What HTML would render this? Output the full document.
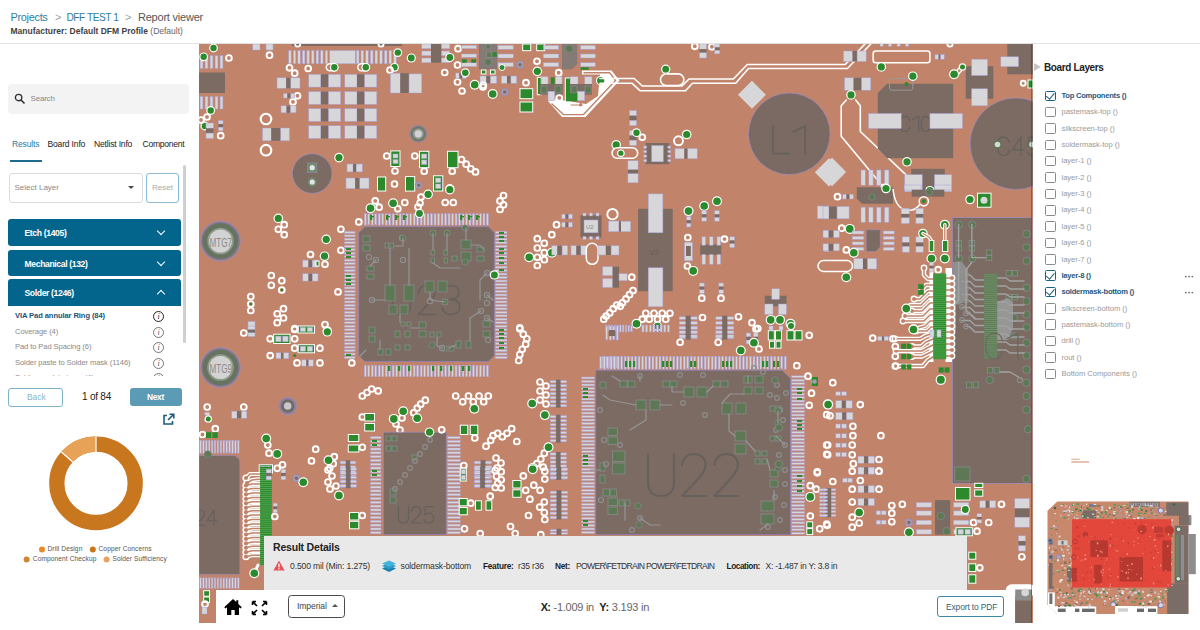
<!DOCTYPE html>
<html><head><meta charset="utf-8">
<style>
*{box-sizing:border-box;margin:0;padding:0}
html,body{width:1200px;height:630px;overflow:hidden;background:#fff;font-family:"Liberation Sans",sans-serif;}
.a{position:absolute;white-space:nowrap;line-height:1}
#hdr{position:absolute;left:0;top:0;width:1200px;height:44px;background:#fff;border-bottom:1px solid #e2e2e2}
#side{position:absolute;left:0;top:44px;width:199px;height:586px;background:#fff}
#right{position:absolute;left:1033px;top:44px;width:167px;height:586px;background:#fff}
#pcb{position:absolute;left:199px;top:44px;width:834px;height:586px;background:#c1846b;overflow:hidden}
.acc{position:absolute;left:8px;width:172.5px;height:26.5px;background:#03658c;border-radius:3px;color:#fff;font-weight:bold;font-size:8.6px;letter-spacing:-0.36px}
.acc span{position:absolute;left:16.5px;top:9px}
.chev{position:absolute;left:150px;top:9px;width:6px;height:6px;border-right:1.6px solid #fff;border-bottom:1.6px solid #fff;transform:rotate(45deg)}
.chev.up{transform:rotate(-135deg);top:12px}
.li{position:absolute;left:15px;font-size:7.6px;color:#8a8a8a;letter-spacing:-0.1px}
.info{position:absolute;left:153px;width:11px;height:11px;border:1px solid #777;border-radius:50%;font-family:"Liberation Serif",serif;font-style:italic;font-size:8px;text-align:center;line-height:9px;color:#555}
.cb{position:absolute;left:12px;width:10.5px;height:10.5px;border:1.4px solid #8a8a8a;border-radius:1.5px}
.cb.on{border-color:#1a6284;border-width:1.8px}
.cb.on:after{content:"";position:absolute;left:2px;top:-0.8px;width:3.6px;height:6.6px;border-right:1.7px solid #1a6284;border-bottom:1.7px solid #1a6284;transform:rotate(40deg)}
.lt{position:absolute;left:28.5px;font-size:7.6px;color:#9a9a9a;letter-spacing:-0.05px}
.lt.on{color:#1f5a7c;font-weight:bold;letter-spacing:-0.25px}
.dots{position:absolute;left:151.5px;font-size:9px;color:#444;letter-spacing:0.3px;font-weight:bold}
</style></head><body>

<div id="hdr">
  <div class="a" style="left:10.5px;top:11.8px;font-size:11px;color:#2f7ea5;letter-spacing:-0.34px">Projects</div>
  <div class="a" style="left:55px;top:11.8px;font-size:11px;color:#a0a0a0">&gt;</div>
  <div class="a" style="left:66.5px;top:12.6px;font-size:10.2px;color:#2f7ea5;letter-spacing:-0.5px">DFF TEST 1</div>
  <div class="a" style="left:125px;top:11.8px;font-size:11px;color:#a0a0a0">&gt;</div>
  <div class="a" style="left:138px;top:11.8px;font-size:11px;color:#555;letter-spacing:-0.22px">Report viewer</div>
  <div class="a" style="left:10.5px;top:26.5px;font-size:8.5px;color:#3f3f3f;font-weight:bold">Manufacturer: Default DFM Profile <span style="font-weight:normal;color:#666">(Default)</span></div>
</div>

<div id="side">
  <div style="position:absolute;left:8px;top:40px;width:181px;height:30px;background:#f3f3f3;border-radius:4px"></div>
  <svg style="position:absolute;left:14px;top:49px" width="12" height="12" viewBox="0 0 12 12"><circle cx="4.6" cy="4.6" r="3.2" fill="none" stroke="#333" stroke-width="1.4"/><line x1="7" y1="7" x2="10.5" y2="10.5" stroke="#333" stroke-width="1.6"/></svg>
  <div class="a" style="left:30.5px;top:50.5px;font-size:8px;color:#888;letter-spacing:-0.2px">Search</div>
  <div class="a" style="left:12px;top:95.5px;font-size:8.6px;color:#2c7aa0;letter-spacing:-0.2px">Results</div>
  <div class="a" style="left:47.5px;top:95.5px;font-size:8.6px;color:#222;letter-spacing:-0.2px">Board Info</div>
  <div class="a" style="left:94px;top:95.5px;font-size:8.6px;color:#222;letter-spacing:-0.2px">Netlist Info</div>
  <div class="a" style="left:142.5px;top:95.5px;font-size:8.6px;color:#222;letter-spacing:-0.3px">Component</div>
  <div style="position:absolute;left:10px;top:116px;width:31.5px;height:2px;background:#1d6b8e"></div>
  <div style="position:absolute;left:8.5px;top:129px;width:134px;height:30px;border:1px solid #dcdcdc;border-radius:3px"></div>
  <div class="a" style="left:14.5px;top:139.5px;font-size:8px;color:#888">Select Layer</div>
  <div style="position:absolute;left:128px;top:141.5px;width:0;height:0;border-left:3.5px solid transparent;border-right:3.5px solid transparent;border-top:3.5px solid #444"></div>
  <div style="position:absolute;left:146px;top:129px;width:32.5px;height:29.5px;border:1px solid #8dbbd0;border-radius:3px"></div>
  <div class="a" style="left:152px;top:139.5px;font-size:8px;color:#a8a8a8">Reset</div>
  <div style="position:absolute;left:183px;top:121px;width:3px;height:178px;background:#cfcfcf;border-radius:1.5px"></div>

  <div class="acc" style="top:175px"><span>Etch (1405)</span><div class="chev"></div></div>
  <div class="acc" style="top:205.5px"><span>Mechanical (132)</span><div class="chev"></div></div>
  <div class="acc" style="top:235.3px;border-radius:3px 3px 0 0"><span>Solder (1246)</span><div class="chev up"></div></div>
  <div style="position:absolute;left:0;top:262px;width:180px;height:70px;overflow:hidden">
    <div class="a li" style="top:6.3px;color:#1d5275;font-weight:bold">VIA Pad annular Ring (84)</div>
    <div class="info" style="top:5px;border-color:#222;color:#222">i</div>
    <div class="a li" style="top:21.8px">Coverage (4)</div>
    <div class="info" style="top:20.5px">i</div>
    <div class="a li" style="top:37.3px">Pad to Pad Spacing (6)</div>
    <div class="info" style="top:36px">i</div>
    <div class="a li" style="top:52.8px">Solder paste to Solder mask (1146)</div>
    <div class="info" style="top:51.5px">i</div>
    <div class="a li" style="top:68.3px">Solder mask to trace (4)</div>
    <div class="info" style="top:67px">i</div>
  </div>
  <div style="position:absolute;left:8px;top:343.5px;width:55px;height:19px;border:1px solid #7db2c9;border-radius:3px"></div>
  <div class="a" style="left:27px;top:349px;font-size:8.4px;color:#86b6cb">Back</div>
  <div class="a" style="left:82px;top:348px;font-size:10px;color:#222;letter-spacing:-0.23px">1 of 84</div>
  <div style="position:absolute;left:129.5px;top:344px;width:52px;height:18px;background:#5b9bb6;border-radius:3px"></div>
  <div class="a" style="left:147px;top:349px;font-size:8.4px;color:#fff;font-weight:bold;letter-spacing:-0.3px">Next</div>
  <svg style="position:absolute;left:162px;top:369px" width="13" height="13" viewBox="0 0 13 13"><path d="M5 2.5H2V11H10.5V8" fill="none" stroke="#1d5c7e" stroke-width="1.6"/><path d="M6 7L11.5 1.5M7.5 1.2H11.8V5.5" fill="none" stroke="#1d5c7e" stroke-width="1.6"/></svg>
  <svg style="position:absolute;left:0;top:0" width="199" height="586" viewBox="0 44 199 586">
    <circle cx="96" cy="483.3" r="39.2" fill="none" stroke="#c8771f" stroke-width="15.3"/>
    <path d="M96 444.1 A39.2 39.2 0 0 0 66.9 457" fill="none" stroke="#e8a258" stroke-width="15.3"/>
    <line x1="96" y1="436.5" x2="96" y2="452" stroke="#fff" stroke-width="1.2"/>
    <line x1="61.5" y1="452" x2="73" y2="462.3" stroke="#fff" stroke-width="1.2"/>
    <circle cx="42" cy="549.4" r="3" fill="#e88a28"/>
    <circle cx="92.8" cy="549.4" r="3" fill="#c8771f"/>
    <circle cx="26.6" cy="559.6" r="3" fill="#d08535"/>
    <circle cx="106.6" cy="559.6" r="3" fill="#eaa260"/>
  </svg>
  <div class="a" style="left:47.5px;top:502px;font-size:6.6px;color:#555;letter-spacing:0.1px">Drill Design</div>
  <div class="a" style="left:98.5px;top:502px;font-size:6.6px;color:#555;letter-spacing:0.1px">Copper Concerns</div>
  <div class="a" style="left:32.8px;top:512.2px;font-size:6.6px;color:#555;letter-spacing:0.1px">Component Checkup</div>
  <div class="a" style="left:112.4px;top:512.2px;font-size:6.6px;color:#555;letter-spacing:0.1px">Solder Sufficiency</div>
</div>

<div id="pcb">
<svg id="pcbsvg" style="position:absolute;left:0;top:0" width="834" height="586" viewBox="199 44 834 586"><rect x="292.0" y="43.0" width="110.0" height="3.0" fill="#7b6b63" />
<rect x="252.7" y="44.0" width="7.3" height="6.0" fill="#d7d7da" stroke="#a99ed6" stroke-width="0.5"/>
<rect x="266.0" y="44.0" width="7.0" height="6.0" fill="#d7d7da" stroke="#a99ed6" stroke-width="0.5"/>
<circle cx="213.5" cy="48.0" r="4.4" fill="#fff"/><circle cx="213.5" cy="48.0" r="3.2" fill="#2b8a2b"/>
<rect x="200.1" y="55.7" width="2.8" height="12.8" fill="#d7d7da" stroke="#a99ed6" stroke-width="0.5"/>
<rect x="205.1" y="55.7" width="2.8" height="12.8" fill="#d7d7da" stroke="#a99ed6" stroke-width="0.5"/>
<rect x="210.1" y="55.7" width="2.8" height="12.8" fill="#d7d7da" stroke="#a99ed6" stroke-width="0.5"/>
<rect x="215.1" y="55.7" width="2.8" height="12.8" fill="#d7d7da" stroke="#a99ed6" stroke-width="0.5"/>
<rect x="220.1" y="55.7" width="2.8" height="12.8" fill="#d7d7da" stroke="#a99ed6" stroke-width="0.5"/>
<rect x="199.0" y="72.5" width="26.0" height="20.5" fill="#7b6b63" />
<rect x="200.1" y="96.5" width="2.8" height="12.5" fill="#d7d7da" stroke="#a99ed6" stroke-width="0.5"/>
<rect x="205.1" y="96.5" width="2.8" height="12.5" fill="#d7d7da" stroke="#a99ed6" stroke-width="0.5"/>
<rect x="210.1" y="96.5" width="2.8" height="12.5" fill="#d7d7da" stroke="#a99ed6" stroke-width="0.5"/>
<rect x="215.1" y="96.5" width="2.8" height="12.5" fill="#d7d7da" stroke="#a99ed6" stroke-width="0.5"/>
<rect x="220.1" y="96.5" width="2.8" height="12.5" fill="#d7d7da" stroke="#a99ed6" stroke-width="0.5"/>
<circle cx="203.7" cy="56.8" r="4.4" fill="#fff"/><circle cx="203.7" cy="56.8" r="3.2" fill="#2b8a2b"/>
<circle cx="210.7" cy="110.5" r="4.4" fill="#fff"/><circle cx="210.7" cy="110.5" r="3.2" fill="#2b8a2b"/>
<circle cx="204.8" cy="126.0" r="4.4" fill="#fff"/><circle cx="204.8" cy="126.0" r="3.2" fill="#2b8a2b"/>
<circle cx="228.9" cy="58.0" r="2.9" fill="none" stroke="#fff" stroke-width="1.9"/>
<circle cx="269.5" cy="55.2" r="2.9" fill="none" stroke="#fff" stroke-width="1.9"/>
<circle cx="289.5" cy="67.8" r="2.9" fill="none" stroke="#fff" stroke-width="1.9"/>
<circle cx="294.7" cy="73.2" r="2.9" fill="none" stroke="#fff" stroke-width="1.9"/>
<circle cx="308.2" cy="68.5" r="2.9" fill="none" stroke="#fff" stroke-width="1.9"/>
<circle cx="297.5" cy="95.8" r="2.9" fill="none" stroke="#fff" stroke-width="1.9"/>
<circle cx="293.0" cy="101.9" r="2.9" fill="none" stroke="#fff" stroke-width="1.9"/>
<circle cx="220.7" cy="135.7" r="2.9" fill="none" stroke="#fff" stroke-width="1.9"/>
<circle cx="386.8" cy="156.0" r="2.9" fill="none" stroke="#fff" stroke-width="1.9"/>
<circle cx="394.5" cy="184.0" r="2.9" fill="none" stroke="#fff" stroke-width="1.9"/>
<circle cx="395.0" cy="171.0" r="2.9" fill="none" stroke="#fff" stroke-width="1.9"/>
<circle cx="201.0" cy="120.0" r="2.9" fill="none" stroke="#fff" stroke-width="1.9"/>
<circle cx="207.0" cy="117.0" r="2.9" fill="none" stroke="#fff" stroke-width="1.9"/>
<circle cx="266.0" cy="119.0" r="5.3" fill="none" stroke="#fff" stroke-width="2.1"/>
<circle cx="266.0" cy="150.2" r="5.3" fill="none" stroke="#fff" stroke-width="2.1"/>
<rect x="288.7" y="50.5" width="2.5" height="13.3" fill="#d7d7da" stroke="#a99ed6" stroke-width="0.5"/>
<rect x="293.3" y="50.5" width="2.5" height="13.3" fill="#d7d7da" stroke="#a99ed6" stroke-width="0.5"/>
<rect x="297.8" y="50.5" width="2.5" height="13.3" fill="#d7d7da" stroke="#a99ed6" stroke-width="0.5"/>
<rect x="302.4" y="50.5" width="2.5" height="13.3" fill="#d7d7da" stroke="#a99ed6" stroke-width="0.5"/>
<rect x="306.9" y="50.5" width="2.5" height="13.3" fill="#d7d7da" stroke="#a99ed6" stroke-width="0.5"/>
<rect x="311.5" y="50.5" width="2.5" height="13.3" fill="#d7d7da" stroke="#a99ed6" stroke-width="0.5"/>
<rect x="316.1" y="50.5" width="2.5" height="13.3" fill="#d7d7da" stroke="#a99ed6" stroke-width="0.5"/>
<rect x="320.6" y="50.5" width="2.5" height="13.3" fill="#d7d7da" stroke="#a99ed6" stroke-width="0.5"/>
<rect x="325.2" y="50.5" width="2.5" height="13.3" fill="#d7d7da" stroke="#a99ed6" stroke-width="0.5"/>
<rect x="329.7" y="50.5" width="25.6" height="13.3" fill="#d7d7da" stroke="#a99ed6" stroke-width="0.5"/>
<rect x="356.4" y="50.5" width="2.6" height="13.3" fill="#d7d7da" stroke="#a99ed6" stroke-width="0.5"/>
<rect x="361.0" y="50.5" width="2.6" height="13.3" fill="#d7d7da" stroke="#a99ed6" stroke-width="0.5"/>
<rect x="365.7" y="50.5" width="2.6" height="13.3" fill="#d7d7da" stroke="#a99ed6" stroke-width="0.5"/>
<rect x="370.4" y="50.5" width="2.6" height="13.3" fill="#d7d7da" stroke="#a99ed6" stroke-width="0.5"/>
<rect x="375.0" y="50.5" width="2.6" height="13.3" fill="#d7d7da" stroke="#a99ed6" stroke-width="0.5"/>
<rect x="379.7" y="50.5" width="2.6" height="13.3" fill="#d7d7da" stroke="#a99ed6" stroke-width="0.5"/>
<rect x="384.4" y="50.5" width="2.6" height="13.3" fill="#d7d7da" stroke="#a99ed6" stroke-width="0.5"/>
<rect x="389.0" y="50.5" width="2.6" height="13.3" fill="#d7d7da" stroke="#a99ed6" stroke-width="0.5"/>
<rect x="393.7" y="50.5" width="2.6" height="13.3" fill="#d7d7da" stroke="#a99ed6" stroke-width="0.5"/>
<rect x="326.3" y="63.8" width="11" height="7" rx="3.5" fill="none" stroke="#fff" stroke-width="1.5"/>
<circle cx="334.3" cy="67.3" r="4.4" fill="#fff"/><circle cx="334.3" cy="67.3" r="3.2" fill="#2b8a2b"/>
<rect x="357.8" y="63.8" width="11" height="7" rx="3.5" fill="none" stroke="#fff" stroke-width="1.5"/>
<circle cx="365.8" cy="67.3" r="4.4" fill="#fff"/><circle cx="365.8" cy="67.3" r="3.2" fill="#2b8a2b"/>
<circle cx="394.5" cy="67.3" r="4.4" fill="#fff"/><circle cx="394.5" cy="67.3" r="3.2" fill="#2b8a2b"/>
<circle cx="397.8" cy="52.6" r="4.4" fill="#fff"/><circle cx="397.8" cy="52.6" r="3.2" fill="#2b8a2b"/>
<circle cx="390.0" cy="70.0" r="2.9" fill="none" stroke="#fff" stroke-width="1.9"/>
<rect x="308.7" y="74.3" width="12.2" height="12.8" fill="#d7d7da" stroke="#a99ed6" stroke-width="0.5"/>
<rect x="320.9" y="74.3" width="7.7" height="12.8" fill="#7b6b63" />
<rect x="328.5" y="74.3" width="12.2" height="12.8" fill="#d7d7da" stroke="#a99ed6" stroke-width="0.5"/>
<rect x="308.7" y="91.6" width="12.2" height="12.8" fill="#d7d7da" stroke="#a99ed6" stroke-width="0.5"/>
<rect x="320.9" y="91.6" width="7.7" height="12.8" fill="#7b6b63" />
<rect x="328.5" y="91.6" width="12.2" height="12.8" fill="#d7d7da" stroke="#a99ed6" stroke-width="0.5"/>
<rect x="308.7" y="108.6" width="12.2" height="12.8" fill="#d7d7da" stroke="#a99ed6" stroke-width="0.5"/>
<rect x="320.9" y="108.6" width="7.7" height="12.8" fill="#7b6b63" />
<rect x="328.5" y="108.6" width="12.2" height="12.8" fill="#d7d7da" stroke="#a99ed6" stroke-width="0.5"/>
<rect x="308.7" y="125.7" width="12.2" height="12.8" fill="#d7d7da" stroke="#a99ed6" stroke-width="0.5"/>
<rect x="320.9" y="125.7" width="7.7" height="12.8" fill="#7b6b63" />
<rect x="328.5" y="125.7" width="12.2" height="12.8" fill="#d7d7da" stroke="#a99ed6" stroke-width="0.5"/>
<rect x="344.8" y="74.3" width="12.2" height="12.8" fill="#d7d7da" stroke="#a99ed6" stroke-width="0.5"/>
<rect x="357.0" y="74.3" width="7.7" height="12.8" fill="#7b6b63" />
<rect x="364.6" y="74.3" width="12.2" height="12.8" fill="#d7d7da" stroke="#a99ed6" stroke-width="0.5"/>
<rect x="344.8" y="91.6" width="12.2" height="12.8" fill="#d7d7da" stroke="#a99ed6" stroke-width="0.5"/>
<rect x="357.0" y="91.6" width="7.7" height="12.8" fill="#7b6b63" />
<rect x="364.6" y="91.6" width="12.2" height="12.8" fill="#d7d7da" stroke="#a99ed6" stroke-width="0.5"/>
<rect x="344.8" y="108.6" width="12.2" height="12.8" fill="#d7d7da" stroke="#a99ed6" stroke-width="0.5"/>
<rect x="357.0" y="108.6" width="7.7" height="12.8" fill="#7b6b63" />
<rect x="364.6" y="108.6" width="12.2" height="12.8" fill="#d7d7da" stroke="#a99ed6" stroke-width="0.5"/>
<rect x="344.8" y="125.7" width="12.2" height="12.8" fill="#d7d7da" stroke="#a99ed6" stroke-width="0.5"/>
<rect x="357.0" y="125.7" width="7.7" height="12.8" fill="#7b6b63" />
<rect x="364.6" y="125.7" width="12.2" height="12.8" fill="#d7d7da" stroke="#a99ed6" stroke-width="0.5"/>
<rect x="390.3" y="73.2" width="10.0" height="19.8" fill="#d7d7da" stroke="#a99ed6" stroke-width="0.5"/>
<rect x="400.3" y="73.2" width="9.0" height="19.8" fill="#7b6b63" />
<rect x="277.0" y="77.8" width="9.2" height="10.5" fill="#d7d7da" stroke="#a99ed6" stroke-width="0.5"/>
<rect x="286.2" y="77.8" width="4.6" height="10.5" fill="#7b6b63" />
<rect x="290.8" y="77.8" width="9.2" height="10.5" fill="#d7d7da" stroke="#a99ed6" stroke-width="0.5"/>
<rect x="283.5" y="93.5" width="3.9" height="4.5" fill="#d7d7da" stroke="#a99ed6" stroke-width="0.5"/>
<rect x="287.4" y="93.5" width="3.4" height="4.5" fill="#7b6b63" />
<rect x="290.8" y="93.5" width="3.9" height="4.5" fill="#d7d7da" stroke="#a99ed6" stroke-width="0.5"/>
<rect x="281.0" y="105.8" width="5.6" height="7.0" fill="#d7d7da" stroke="#a99ed6" stroke-width="0.5"/>
<rect x="286.6" y="105.8" width="3.8" height="7.0" fill="#7b6b63" />
<rect x="290.4" y="105.8" width="5.6" height="7.0" fill="#d7d7da" stroke="#a99ed6" stroke-width="0.5"/>
<rect x="262.5" y="128.0" width="8.8" height="12.8" fill="#d7d7da" stroke="#a99ed6" stroke-width="0.5"/>
<rect x="271.3" y="128.0" width="9.4" height="12.8" fill="#7b6b63" />
<rect x="280.7" y="128.0" width="8.8" height="12.8" fill="#d7d7da" stroke="#a99ed6" stroke-width="0.5"/>
<circle cx="312.2" cy="173.5" r="19.8" fill="#7b6b63" stroke="#9a8fcf" stroke-width="0.6"/>
<rect x="307.5" y="163.0" width="9.4" height="9.4" fill="#6f8a6a" stroke="#9a8fcf" stroke-width="0.5"/>
<circle cx="312.2" cy="167.7" r="2.6" fill="#e4e4e8" />
<circle cx="312.2" cy="182.1" r="4.5" fill="#6f8a6a" />
<circle cx="312.2" cy="182.1" r="2.6" fill="#e4e4e8" />
<circle cx="339.0" cy="157.6" r="4.8" fill="#fff"/><circle cx="339.0" cy="157.6" r="3.6" fill="#2b8a2b"/>
<rect x="347.0" y="164.0" width="6.1" height="7.9" fill="#d7d7da" stroke="#a99ed6" stroke-width="0.5"/>
<rect x="353.1" y="164.0" width="3.1" height="7.9" fill="#7b6b63" />
<rect x="356.2" y="164.0" width="6.1" height="7.9" fill="#d7d7da" stroke="#a99ed6" stroke-width="0.5"/>
<rect x="346.0" y="178.0" width="9.2" height="10.7" fill="#d7d7da" stroke="#a99ed6" stroke-width="0.5"/>
<rect x="355.2" y="178.0" width="4.6" height="10.7" fill="#7b6b63" />
<rect x="359.8" y="178.0" width="9.2" height="10.7" fill="#d7d7da" stroke="#a99ed6" stroke-width="0.5"/>
<rect x="377.5" y="177.0" width="8.2" height="14.0" fill="#2b8a2b" stroke="#fff" stroke-width="1"/>
<rect x="390.8" y="150.9" width="9.2" height="15.6" fill="#2b8a2b" stroke="#fff" stroke-width="1"/>
<rect x="393.0" y="154.0" width="5.0" height="4.0" fill="#d7d7da" stroke="#a99ed6" stroke-width="0.5"/>
<rect x="393.0" y="159.5" width="5.0" height="4.0" fill="#d7d7da" stroke="#a99ed6" stroke-width="0.5"/>
<rect x="206.0" y="123.0" width="7.5" height="5.4" fill="#d7d7da" stroke="#a99ed6" stroke-width="0.5"/>
<rect x="206.0" y="128.4" width="7.5" height="4.7" fill="#7b6b63" />
<rect x="206.0" y="133.1" width="7.5" height="5.4" fill="#d7d7da" stroke="#a99ed6" stroke-width="0.5"/>
<rect x="218.4" y="120.5" width="4.6" height="3.6" fill="#d7d7da" stroke="#a99ed6" stroke-width="0.5"/>
<rect x="218.4" y="124.1" width="4.6" height="3.1" fill="#7b6b63" />
<rect x="218.4" y="127.2" width="4.6" height="3.6" fill="#d7d7da" stroke="#a99ed6" stroke-width="0.5"/>
<rect x="421.8" y="44.0" width="9.3" height="4.7" fill="#d7d7da" stroke="#a99ed6" stroke-width="0.5"/>
<rect x="421.8" y="51.0" width="9.3" height="4.7" fill="#d7d7da" stroke="#a99ed6" stroke-width="0.5"/>
<rect x="421.8" y="58.0" width="9.3" height="4.7" fill="#d7d7da" stroke="#a99ed6" stroke-width="0.5"/>
<rect x="431.0" y="44.0" width="10.5" height="18.7" fill="#7b6b63" />
<rect x="441.5" y="44.0" width="8.3" height="4.7" fill="#d7d7da" stroke="#a99ed6" stroke-width="0.5"/>
<rect x="441.5" y="51.0" width="8.3" height="4.7" fill="#d7d7da" stroke="#a99ed6" stroke-width="0.5"/>
<rect x="441.5" y="58.0" width="8.3" height="4.7" fill="#d7d7da" stroke="#a99ed6" stroke-width="0.5"/>
<circle cx="411.3" cy="58.0" r="4.6" fill="#fff"/><circle cx="411.3" cy="58.0" r="3.4" fill="#2b8a2b"/>
<circle cx="449.8" cy="57.5" r="4.6" fill="#fff"/><circle cx="449.8" cy="57.5" r="3.4" fill="#2b8a2b"/>
<circle cx="444.7" cy="72.5" r="2.9" fill="none" stroke="#fff" stroke-width="1.9"/>
<circle cx="457.5" cy="82.0" r="2.9" fill="none" stroke="#fff" stroke-width="1.9"/>
<circle cx="457.5" cy="65.0" r="2.9" fill="none" stroke="#fff" stroke-width="1.9"/>
<circle cx="458.0" cy="48.7" r="2.9" fill="none" stroke="#fff" stroke-width="1.9"/>
<circle cx="414.8" cy="156.0" r="2.9" fill="none" stroke="#fff" stroke-width="1.9"/>
<circle cx="424.2" cy="171.2" r="2.9" fill="none" stroke="#fff" stroke-width="1.9"/>
<circle cx="461.5" cy="159.5" r="2.9" fill="none" stroke="#fff" stroke-width="1.9"/>
<circle cx="466.2" cy="164.2" r="2.9" fill="none" stroke="#fff" stroke-width="1.9"/>
<circle cx="470.8" cy="168.8" r="2.9" fill="none" stroke="#fff" stroke-width="1.9"/>
<circle cx="475.5" cy="171.9" r="2.9" fill="none" stroke="#fff" stroke-width="1.9"/>
<circle cx="452.2" cy="171.2" r="2.9" fill="none" stroke="#fff" stroke-width="1.9"/>
<circle cx="462.0" cy="91.0" r="2.9" fill="none" stroke="#fff" stroke-width="1.9"/>
<circle cx="483.0" cy="87.0" r="2.9" fill="none" stroke="#fff" stroke-width="1.9"/>
<rect x="409.0" y="73.9" width="12.8" height="19.1" fill="#d7d7da" stroke="#a99ed6" stroke-width="0.5"/>
<rect x="455.7" y="73.0" width="3.7" height="5.5" fill="#d7d7da" stroke="#a99ed6" stroke-width="0.5"/>
<rect x="459.4" y="73.0" width="3.2" height="5.5" fill="#7b6b63" />
<rect x="462.5" y="73.0" width="3.7" height="5.5" fill="#d7d7da" stroke="#a99ed6" stroke-width="0.5"/>
<rect x="461.3" y="45.3" width="15.4" height="3.4" fill="#d7d7da" stroke="#a99ed6" stroke-width="0.5"/>
<rect x="461.3" y="54.0" width="15.4" height="3.3" fill="#d7d7da" stroke="#a99ed6" stroke-width="0.5"/>
<rect x="461.3" y="62.7" width="15.4" height="4.0" fill="#d7d7da" stroke="#a99ed6" stroke-width="0.5"/>
<rect x="462.0" y="59.3" width="4.7" height="3.4" fill="#2b8a2b" />
<rect x="471.3" y="59.3" width="4.7" height="3.4" fill="#2b8a2b" />
<rect x="479.3" y="44.0" width="17.4" height="25.3" fill="#7b6b63" fill="#857a76"/>
<rect x="479.3" y="44.0" width="17.4" height="25.3" fill="#857a76" />
<rect x="486.7" y="52.0" width="4.7" height="5.3" fill="#5e7856" stroke="#8a8a8a" stroke-width="0.8"/>
<rect x="491.5" y="52.0" width="4.5" height="5.3" fill="#5e7856" stroke="#8a8a8a" stroke-width="0.8"/>
<rect x="486.0" y="44.5" width="4.5" height="4.5" fill="#5e7856" stroke="#8a8a8a" stroke-width="0.8"/>
<circle cx="488.0" cy="62.0" r="3.5" fill="#5e7856" stroke="#8a8a8a" stroke-width="0.7"/>
<rect x="493.3" y="52.0" width="3.4" height="4.6" fill="#2b8a2b" />
<rect x="481.3" y="70.0" width="4.6" height="4.0" fill="#2b8a2b" stroke="#fff" stroke-width="1"/>
<rect x="490.4" y="70.0" width="4.6" height="4.0" fill="#2b8a2b" stroke="#fff" stroke-width="1"/>
<rect x="480.0" y="76.0" width="6.3" height="7.3" fill="#d7d7da" stroke="#a99ed6" stroke-width="0.5"/>
<rect x="486.3" y="76.0" width="4.2" height="7.3" fill="#7b6b63" />
<rect x="490.4" y="76.0" width="6.3" height="7.3" fill="#d7d7da" stroke="#a99ed6" stroke-width="0.5"/>
<rect x="498.0" y="45.3" width="15.3" height="4.0" fill="#d7d7da" stroke="#a99ed6" stroke-width="0.5"/>
<rect x="498.0" y="54.0" width="15.3" height="4.0" fill="#d7d7da" stroke="#a99ed6" stroke-width="0.5"/>
<rect x="498.0" y="62.7" width="15.3" height="4.0" fill="#d7d7da" stroke="#a99ed6" stroke-width="0.5"/>
<circle cx="502" cy="67.5" r="3" fill="#2b8a2b" stroke="#fff" stroke-width="1"/>
<circle cx="520.0" cy="64.7" r="3.8" fill="#a59bb8" stroke="#8f86b0" stroke-width="0.6"/><circle cx="520.0" cy="64.7" r="1.7" fill="#7b6b63"/>
<rect x="501.3" y="76.0" width="5.8" height="7.3" fill="#d7d7da" stroke="#a99ed6" stroke-width="0.5"/>
<rect x="507.1" y="76.0" width="3.8" height="7.3" fill="#7b6b63" />
<rect x="510.9" y="76.0" width="5.8" height="7.3" fill="#d7d7da" stroke="#a99ed6" stroke-width="0.5"/>
<circle cx="465.3" cy="72.7" r="4.5" fill="#fff"/><circle cx="465.3" cy="72.7" r="3.3" fill="#2b8a2b"/>
<circle cx="474.7" cy="84.7" r="5.0" fill="#fff"/><circle cx="474.7" cy="84.7" r="3.8" fill="#2b8a2b"/>
<circle cx="492.7" cy="94.0" r="5.0" fill="#fff"/><circle cx="492.7" cy="94.0" r="3.8" fill="#2b8a2b"/>
<circle cx="483.3" cy="85.3" r="2.9" fill="none" stroke="#fff" stroke-width="1.9"/>
<circle cx="504.7" cy="92.0" r="3.8" fill="#a59bb8" stroke="#8f86b0" stroke-width="0.6"/><circle cx="504.7" cy="92.0" r="1.7" fill="#7b6b63"/>
<rect x="520.0" y="88.7" width="12.7" height="10.0" fill="#2b8a2b" stroke="#fff" stroke-width="1"/>
<rect x="520.0" y="102.0" width="12.7" height="10.0" fill="#2b8a2b" stroke="#fff" stroke-width="1"/>
<circle cx="526.0" cy="82.7" r="2.9" fill="none" stroke="#fff" stroke-width="1.9"/>
<rect x="522.7" y="44.0" width="8.0" height="6.7" fill="#2b8a2b" stroke="#fff" stroke-width="1"/>
<rect x="536.7" y="44.0" width="8.0" height="6.7" fill="#2b8a2b" stroke="#fff" stroke-width="1"/>
<circle cx="537.0" cy="61.3" r="2.9" fill="none" stroke="#fff" stroke-width="1.9"/>
<circle cx="537.3" cy="71.3" r="4.8" fill="#fff"/><circle cx="537.3" cy="71.3" r="3.6" fill="#2b8a2b"/>
<rect x="543.3" y="45.3" width="15.4" height="4.0" fill="#d7d7da" stroke="#a99ed6" stroke-width="0.5"/>
<rect x="543.3" y="54.0" width="15.4" height="4.0" fill="#d7d7da" stroke="#a99ed6" stroke-width="0.5"/>
<rect x="543.3" y="62.7" width="15.4" height="4.0" fill="#d7d7da" stroke="#a99ed6" stroke-width="0.5"/>
<polygon points="562.0,44.0 577.3,44.0 577.3,64.0 572.0,69.3 562.0,69.3" fill="#857a76" />
<circle cx="569.3" cy="48.7" r="3.8" fill="#5e7856" stroke="#8a8a8a" stroke-width="0.7"/>
<rect x="580.7" y="45.3" width="14.6" height="4.0" fill="#d7d7da" stroke="#a99ed6" stroke-width="0.5"/>
<rect x="580.7" y="54.0" width="14.6" height="4.0" fill="#d7d7da" stroke="#a99ed6" stroke-width="0.5"/>
<rect x="580.7" y="62.7" width="14.6" height="4.0" fill="#d7d7da" stroke="#a99ed6" stroke-width="0.5"/>
<rect x="580.7" y="67.3" width="8.0" height="2.5" fill="#2b8a2b" />
<polygon points="548.0,101.0 562.0,117.0 585.5,117.0 619.5,80.5 611.5,70.6 582.0,70.6 582.0,74.5 600.0,74.5 598.0,96.0 586.0,104.0 548.0,98.0" fill="#fff" />
<polyline points="552.0,104.0 563.5,114.6 583.5,114.6 615.5,80.5 609.8,72.8 584.0,72.8" fill="none" stroke="#c0836a" stroke-width="1.4" stroke-linejoin="round" stroke-linecap="round"/>
<polyline points="571.0,105.0 580.5,105.0" fill="none" stroke="#c0836a" stroke-width="1.2" stroke-linejoin="round" stroke-linecap="round"/>
<circle cx="580.7" cy="104.7" r="1.8" fill="#c0836a" />
<rect x="537.3" y="77.3" width="4.0" height="17.4" fill="#2b8a2b" stroke="#fff" stroke-width="1"/>
<rect x="541.3" y="76.7" width="6.7" height="10.0" fill="#d7d7da" stroke="#a99ed6" stroke-width="0.5"/>
<rect x="555.3" y="76.7" width="6.7" height="10.0" fill="#d7d7da" stroke="#a99ed6" stroke-width="0.5"/>
<rect x="550.7" y="77.3" width="4.0" height="6.7" fill="#2b8a2b" />
<rect x="540.0" y="84.0" width="22.7" height="10.7" fill="#7b6b63" />
<rect x="541.0" y="86.0" width="6.0" height="7.0" fill="#5e7856" stroke="#8a8a8a" stroke-width="0.8"/>
<rect x="555.0" y="86.0" width="6.0" height="7.0" fill="#5e7856" stroke="#8a8a8a" stroke-width="0.8"/>
<rect x="548.0" y="91.3" width="6.7" height="9.4" fill="#d7d7da" stroke="#a99ed6" stroke-width="0.5"/>
<rect x="565.3" y="78.0" width="5.4" height="23.3" fill="#2b8a2b" stroke="#fff" stroke-width="1"/>
<rect x="570.7" y="76.7" width="7.3" height="10.0" fill="#d7d7da" stroke="#a99ed6" stroke-width="0.5"/>
<rect x="584.7" y="76.7" width="7.3" height="10.0" fill="#d7d7da" stroke="#a99ed6" stroke-width="0.5"/>
<rect x="570.0" y="84.0" width="22.0" height="10.7" fill="#7b6b63" />
<rect x="571.0" y="86.0" width="6.0" height="7.0" fill="#5e7856" stroke="#8a8a8a" stroke-width="0.8"/>
<rect x="585.0" y="86.0" width="6.0" height="7.0" fill="#5e7856" stroke="#8a8a8a" stroke-width="0.8"/>
<rect x="577.3" y="91.3" width="7.4" height="9.4" fill="#d7d7da" stroke="#a99ed6" stroke-width="0.5"/>
<rect x="566.0" y="93.3" width="11.3" height="8.0" fill="#2b8a2b" />
<circle cx="558.7" cy="72.7" r="2.9" fill="none" stroke="#fff" stroke-width="1.9"/>
<circle cx="559.3" cy="98.0" r="2.9" fill="none" stroke="#fff" stroke-width="1.9"/>
<circle cx="594.7" cy="80.0" r="1.8" fill="#c0836a" />
<circle cx="594.7" cy="90.0" r="1.8" fill="#c0836a" />
<circle cx="600.7" cy="80.7" r="4.8" fill="#fff"/><circle cx="600.7" cy="80.7" r="3.6" fill="#2b8a2b"/>
<circle cx="418.3" cy="133.8" r="8.8" fill="#8e84a0" />
<circle cx="418.3" cy="133.8" r="7.6" fill="#6f7a68" />
<circle cx="418.3" cy="133.8" r="5.4" fill="#9a9a9a" />
<circle cx="418.3" cy="133.8" r="3.6" fill="#d2d2d2" />
<rect x="419.5" y="151.3" width="9.3" height="16.4" fill="#2b8a2b" stroke="#fff" stroke-width="1"/>
<rect x="421.5" y="154.0" width="5.3" height="4.5" fill="#d7d7da" stroke="#a99ed6" stroke-width="0.5"/>
<rect x="421.5" y="160.0" width="5.3" height="4.5" fill="#d7d7da" stroke="#a99ed6" stroke-width="0.5"/>
<rect x="447.5" y="151.3" width="10.5" height="16.4" fill="#2b8a2b" stroke="#fff" stroke-width="1"/>
<rect x="405.5" y="176.6" width="9.2" height="14.5" fill="#2b8a2b" stroke="#fff" stroke-width="1"/>
<circle cx="418.8" cy="185.2" r="3.5" fill="#a59bb8" stroke="#8f86b0" stroke-width="0.6"/><circle cx="418.8" cy="185.2" r="1.6" fill="#7b6b63"/>
<rect x="433.5" y="175.8" width="9.3" height="15.2" fill="#2b8a2b" stroke="#fff" stroke-width="1"/>
<rect x="435.5" y="178.0" width="5.3" height="4.5" fill="#d7d7da" stroke="#a99ed6" stroke-width="0.5"/>
<rect x="435.5" y="184.0" width="5.3" height="4.5" fill="#d7d7da" stroke="#a99ed6" stroke-width="0.5"/>
<circle cx="449.8" cy="188.7" r="4.6" fill="#fff"/><circle cx="449.8" cy="188.7" r="3.4" fill="#2b8a2b"/>
<circle cx="616.2" cy="144.8" r="4.8" fill="#fff"/><circle cx="616.2" cy="144.8" r="3.6" fill="#2b8a2b"/>
<circle cx="694.8" cy="46.3" r="2.9" fill="none" stroke="#fff" stroke-width="1.9"/>
<circle cx="711.9" cy="46.8" r="2.9" fill="none" stroke="#fff" stroke-width="1.9"/>
<rect x="699.5" y="44.0" width="7.0" height="5.2" fill="#d7d7da" stroke="#a99ed6" stroke-width="0.5"/>
<rect x="699.5" y="49.2" width="7.0" height="3.5" fill="#7b6b63" />
<rect x="699.5" y="52.8" width="7.0" height="5.2" fill="#d7d7da" stroke="#a99ed6" stroke-width="0.5"/>
<rect x="714.7" y="44.0" width="5.1" height="3.4" fill="#d7d7da" stroke="#a99ed6" stroke-width="0.5"/>
<rect x="714.7" y="47.4" width="5.1" height="2.9" fill="#7b6b63" />
<rect x="714.7" y="50.4" width="5.1" height="3.4" fill="#d7d7da" stroke="#a99ed6" stroke-width="0.5"/>
<polyline points="600.0,78.5 634.2,78.5 642.3,86.0 682.0,86.0 689.0,79.0 733.3,79.0 747.3,64.5 845.2,64.5 865.0,44.0" fill="none" stroke="#fff" stroke-width="1.6" stroke-linejoin="round" stroke-linecap="round"/>
<polyline points="600.0,83.2 631.8,83.2 640.0,90.7 685.5,90.7 692.5,83.2 735.7,83.2 748.5,68.5 847.5,68.5 870.8,44.0" fill="none" stroke="#fff" stroke-width="1.6" stroke-linejoin="round" stroke-linecap="round"/>
<rect x="660.5" y="73.9" width="23.4" height="11.6" rx="5.8" fill="#c0836a" stroke="#fff" stroke-width="1.6"/>
<polyline points="665.7,69.2 665.7,74.0" fill="none" stroke="#c0836a" stroke-width="1.2" stroke-linejoin="round" stroke-linecap="round"/>
<circle cx="665.7" cy="69.2" r="4.6" fill="#fff"/><circle cx="665.7" cy="69.2" r="3.4" fill="#2b8a2b"/>
<rect x="742" y="85" width="19.8" height="19.8" fill="#d7d7da" transform="rotate(45 752 94.9)"/>
<circle cx="789.3" cy="133.8" r="40.8" fill="#7a6a63" stroke="#9a8fcf" stroke-width="0.6"/>
<path d="M773.00,125.70 V153.70 H788.68 M793.44,131.86 L805.20,125.70 V153.70 " fill="none" stroke="#66605d" stroke-width="1.7" stroke-linecap="round" stroke-linejoin="round"/>
<rect x="819" y="162.3" width="20" height="20" fill="#d7d7da" transform="rotate(45 829 172.3)"/>
<rect x="629.5" y="110.5" width="7.0" height="5.3" fill="#d7d7da" stroke="#a99ed6" stroke-width="0.5"/>
<rect x="629.5" y="115.8" width="7.0" height="4.6" fill="#7b6b63" />
<rect x="629.5" y="120.4" width="7.0" height="5.3" fill="#d7d7da" stroke="#a99ed6" stroke-width="0.5"/>
<rect x="629.5" y="130.3" width="7.0" height="5.3" fill="#d7d7da" stroke="#a99ed6" stroke-width="0.5"/>
<rect x="629.5" y="135.6" width="7.0" height="4.6" fill="#7b6b63" />
<rect x="629.5" y="140.2" width="7.0" height="5.3" fill="#d7d7da" stroke="#a99ed6" stroke-width="0.5"/>
<circle cx="636.5" cy="132.7" r="4.4" fill="#fff"/><circle cx="636.5" cy="132.7" r="3.2" fill="#2b8a2b"/>
<circle cx="642.3" cy="137.3" r="2.9" fill="none" stroke="#fff" stroke-width="1.9"/>
<rect x="612" y="147.8" width="25.7" height="10.5" rx="5.2" fill="#c0836a" stroke="#fff" stroke-width="1.6"/>
<circle cx="620.9" cy="153.2" r="3.8" fill="#fff"/><circle cx="620.9" cy="153.2" r="2.6" fill="#2b8a2b"/>
<rect x="627.9" y="160.7" width="10.2" height="9.1" fill="#d7d7da" stroke="#a99ed6" stroke-width="0.5"/>
<rect x="627.9" y="169.8" width="10.2" height="4.0" fill="#7b6b63" />
<rect x="627.9" y="173.7" width="10.2" height="9.1" fill="#d7d7da" stroke="#a99ed6" stroke-width="0.5"/>
<rect x="645.8" y="143.0" width="23.4" height="21.2" fill="#7b6b63" />
<rect x="651.7" y="145.5" width="11.6" height="16.3" fill="#d7d7da" stroke="#a99ed6" stroke-width="0.5"/>
<rect x="643.8" y="146.0" width="3.0" height="2.2" fill="#d7d7da" stroke="#a99ed6" stroke-width="0.5"/>
<rect x="667.8" y="146.0" width="3.0" height="2.2" fill="#d7d7da" stroke="#a99ed6" stroke-width="0.5"/>
<rect x="643.8" y="150.5" width="3.0" height="2.2" fill="#d7d7da" stroke="#a99ed6" stroke-width="0.5"/>
<rect x="667.8" y="150.5" width="3.0" height="2.2" fill="#d7d7da" stroke="#a99ed6" stroke-width="0.5"/>
<rect x="643.8" y="155.0" width="3.0" height="2.2" fill="#d7d7da" stroke="#a99ed6" stroke-width="0.5"/>
<rect x="667.8" y="155.0" width="3.0" height="2.2" fill="#d7d7da" stroke="#a99ed6" stroke-width="0.5"/>
<rect x="643.8" y="159.5" width="3.0" height="2.2" fill="#d7d7da" stroke="#a99ed6" stroke-width="0.5"/>
<rect x="667.8" y="159.5" width="3.0" height="2.2" fill="#d7d7da" stroke="#a99ed6" stroke-width="0.5"/>
<circle cx="678.5" cy="140.8" r="4.5" fill="none" stroke="#fff" stroke-width="1.9"/>
<circle cx="686.7" cy="134.5" r="4.8" fill="#fff"/><circle cx="686.7" cy="134.5" r="3.6" fill="#2b8a2b"/>
<rect x="675.0" y="148.5" width="9.4" height="10.3" fill="#d7d7da" stroke="#a99ed6" stroke-width="0.5"/>
<rect x="684.4" y="148.5" width="3.3" height="10.3" fill="#7b6b63" />
<rect x="687.8" y="148.5" width="9.4" height="10.3" fill="#d7d7da" stroke="#a99ed6" stroke-width="0.5"/>
<rect x="843.5" y="51.0" width="9.1" height="10.5" fill="#d7d7da" stroke="#a99ed6" stroke-width="0.5"/>
<rect x="852.6" y="51.0" width="4.5" height="10.5" fill="#7b6b63" />
<rect x="857.1" y="51.0" width="9.1" height="10.5" fill="#d7d7da" stroke="#a99ed6" stroke-width="0.5"/>
<rect x="873.2" y="51" width="56.7" height="11.7" rx="2.5" fill="none" stroke="#fff" stroke-width="1.6"/>
<circle cx="881.3" cy="66.9" r="4.8" fill="#fff"/><circle cx="881.3" cy="66.9" r="3.6" fill="#2b8a2b"/>
<rect x="935.0" y="54.5" width="3.7" height="4.7" fill="#d7d7da" stroke="#a99ed6" stroke-width="0.5"/>
<rect x="938.7" y="54.5" width="1.9" height="4.7" fill="#7b6b63" />
<rect x="940.6" y="54.5" width="3.7" height="4.7" fill="#d7d7da" stroke="#a99ed6" stroke-width="0.5"/>
<rect x="844.5" y="77.8" width="9.2" height="12.4" fill="#d7d7da" stroke="#a99ed6" stroke-width="0.5"/>
<rect x="853.7" y="77.8" width="7.9" height="12.4" fill="#7b6b63" />
<rect x="861.6" y="77.8" width="9.2" height="12.4" fill="#d7d7da" stroke="#a99ed6" stroke-width="0.5"/>
<circle cx="851.0" cy="94.9" r="4.8" fill="#fff"/><circle cx="851.0" cy="94.9" r="3.6" fill="#2b8a2b"/>
<polyline points="846.3,100.0 841.2,105.8 841.2,136.2 884.8,188.7 890.0,195.0" fill="none" stroke="#fff" stroke-width="1.6" stroke-linejoin="round" stroke-linecap="round"/>
<polyline points="855.7,100.0 860.3,105.8 860.3,131.5 905.8,174.7 915.0,184.0" fill="none" stroke="#fff" stroke-width="1.6" stroke-linejoin="round" stroke-linecap="round"/>
<polygon points="887.0,83.7 953.2,83.7 953.2,158.3 887.0,158.3 877.8,149.0 877.8,93.0" fill="#7b6b63" />
<path d="M909.73,120.86 C909.12,117.82 907.30,116.30 905.02,116.30 C901.82,116.30 900.00,119.34 900.00,123.90 C900.00,128.46 901.82,131.50 905.02,131.50 C907.30,131.50 909.12,129.98 909.73,126.94 M912.31,119.64 L918.70,116.30 V131.50 M925.69,116.30 C922.80,116.30 921.28,119.34 921.28,123.90 C921.28,128.46 922.80,131.50 925.69,131.50 C928.58,131.50 930.10,128.46 930.10,123.90 C930.10,119.34 928.58,116.30 925.69,116.30 Z " fill="none" stroke="#66605d" stroke-width="1.2" stroke-linecap="round" stroke-linejoin="round"/>
<rect x="868.5" y="113.5" width="32.7" height="15.0" fill="#d7d7da" stroke="#a99ed6" stroke-width="0.5"/>
<rect x="929.9" y="113.5" width="32.6" height="15.0" fill="#d7d7da" stroke="#a99ed6" stroke-width="0.5"/>
<rect x="889.5" y="78.5" width="23.3" height="11.7" rx="2" fill="none" stroke="#999" stroke-width="1"/>
<circle cx="912.8" cy="76.2" r="4.8" fill="#fff"/><circle cx="912.8" cy="76.2" r="3.6" fill="#2b8a2b"/>
<circle cx="906.5" cy="84.1" r="2.0" fill="#2b8a2b" />
<circle cx="907.0" cy="161.8" r="4.8" fill="#fff"/><circle cx="907.0" cy="161.8" r="3.6" fill="#2b8a2b"/>
<circle cx="1016.0" cy="143.7" r="45.8" fill="#7b6b63" stroke="#9a8fcf" stroke-width="0.6"/>
<path d="M1009.28,142.52 C1008.54,138.84 1006.33,137.00 1003.57,137.00 C999.71,137.00 997.50,140.68 997.50,146.20 C997.50,151.72 999.71,155.40 1003.57,155.40 C1006.33,155.40 1008.54,153.56 1009.28,149.88 M1020.87,155.40 V137.00 L1012.40,149.88 H1023.81 M1037.24,137.00 H1028.78 L1027.86,146.02 C1029.33,144.73 1030.99,144.18 1032.83,144.18 C1035.96,144.18 1037.98,146.57 1037.98,149.88 C1037.98,153.19 1035.77,155.40 1032.46,155.40 C1030.07,155.40 1027.86,154.11 1027.12,151.72 " fill="none" stroke="#66605d" stroke-width="1.3" stroke-linecap="round" stroke-linejoin="round"/>
<circle cx="997.5" cy="144.5" r="3.6" fill="#d8d8d8" stroke="#5e7856" stroke-width="1.6"/>
<circle cx="1032.0" cy="144.5" r="3.6" fill="#d8d8d8" stroke="#5e7856" stroke-width="1.6"/>
<rect x="965.8" y="66.2" width="27.5" height="32.6" fill="#7b6b63" />
<rect x="971.6" y="59.2" width="15.9" height="16.3" fill="#d7d7da" stroke="#a99ed6" stroke-width="0.5"/>
<rect x="971.6" y="88.8" width="15.9" height="17.0" fill="#d7d7da" stroke="#a99ed6" stroke-width="0.5"/>
<polyline points="962.5,66.9 958.0,72.0" fill="none" stroke="#fff" stroke-width="5" stroke-linejoin="round" stroke-linecap="round"/>
<polyline points="962.5,66.9 958.0,72.0" fill="none" stroke="#c0836a" stroke-width="2.5" stroke-linejoin="round" stroke-linecap="round"/>
<circle cx="962.5" cy="66.9" r="3.7" fill="#fff"/><circle cx="962.5" cy="66.9" r="2.5" fill="#2b8a2b"/>
<circle cx="954.1" cy="74.3" r="5.0" fill="#fff"/><circle cx="954.1" cy="74.3" r="3.8" fill="#2b8a2b"/>
<rect x="1007.3" y="44.0" width="26.0" height="30.3" fill="#7b6b63" />
<rect x="1000.8" y="56.8" width="17.7" height="9.8" fill="#d7d7da" stroke="#a99ed6" stroke-width="0.5"/>
<circle cx="1023.2" cy="83.2" r="2.5" fill="none" stroke="#fff" stroke-width="1.9"/>
<rect x="1028.0" y="80.0" width="5.0" height="8.0" fill="#2b8a2b" stroke="#fff" stroke-width="1"/>
<rect x="822" y="162" width="20" height="20" fill="#d7d7da" transform="rotate(45 832 172)"/>
<rect x="861.0" y="170.0" width="4.3" height="15.2" fill="#d7d7da" stroke="#a99ed6" stroke-width="0.5"/>
<rect x="868.8" y="170.0" width="4.3" height="15.2" fill="#d7d7da" stroke="#a99ed6" stroke-width="0.5"/>
<rect x="876.7" y="170.0" width="4.3" height="15.2" fill="#d7d7da" stroke="#a99ed6" stroke-width="0.5"/>
<rect x="884.6" y="170.0" width="4.3" height="15.2" fill="#d7d7da" stroke="#a99ed6" stroke-width="0.5"/>
<circle cx="884.8" cy="188.2" r="4.6" fill="#fff"/><circle cx="884.8" cy="188.2" r="3.4" fill="#2b8a2b"/>
<rect x="911.2" y="168.8" width="33.6" height="23.0" fill="#7b6b63" />
<rect x="904.7" y="174.7" width="17.5" height="17.0" fill="#d7d7da" stroke="#a99ed6" stroke-width="0.5"/>
<rect x="934.5" y="174.7" width="17.3" height="17.0" fill="#d7d7da" stroke="#a99ed6" stroke-width="0.5"/>
<circle cx="929.9" cy="190.5" r="4.6" fill="#fff"/><circle cx="929.9" cy="190.5" r="3.4" fill="#2b8a2b"/>
<circle cx="220.5" cy="241.0" r="19.8" fill="#84788a" stroke="#9a8fcf" stroke-width="0.7"/>
<circle cx="220.5" cy="241.0" r="17.8" fill="#66735f" />
<circle cx="220.5" cy="241.0" r="13.3" fill="#8f9a8a" />
<circle cx="220.5" cy="241.0" r="11.5" fill="#d3d3d3" />
<text x="209.5" y="246.8" font-size="12.5" fill="#8a8a8a" font-family="Liberation Sans" textLength="22.5" lengthAdjust="spacingAndGlyphs">MTG7</text>
<circle cx="278.3" cy="218.4" r="4.8" fill="#fff"/><circle cx="278.3" cy="218.4" r="3.6" fill="#2b8a2b"/>
<circle cx="284.2" cy="224.7" r="2.9" fill="none" stroke="#fff" stroke-width="1.9"/>
<circle cx="278.3" cy="229.3" r="2.9" fill="none" stroke="#fff" stroke-width="1.9"/>
<circle cx="284.2" cy="234.7" r="2.9" fill="none" stroke="#fff" stroke-width="1.9"/>
<circle cx="340.9" cy="229.3" r="2.9" fill="none" stroke="#fff" stroke-width="1.9"/>
<circle cx="340.9" cy="250.3" r="2.9" fill="none" stroke="#fff" stroke-width="1.9"/>
<circle cx="310.5" cy="254.5" r="2.9" fill="none" stroke="#fff" stroke-width="1.9"/>
<circle cx="325.0" cy="264.3" r="2.9" fill="none" stroke="#fff" stroke-width="1.9"/>
<circle cx="271.3" cy="275.5" r="2.9" fill="none" stroke="#fff" stroke-width="1.9"/>
<circle cx="271.3" cy="285.3" r="2.9" fill="none" stroke="#fff" stroke-width="1.9"/>
<circle cx="281.8" cy="280.7" r="2.9" fill="none" stroke="#fff" stroke-width="1.9"/>
<circle cx="281.8" cy="290.0" r="2.9" fill="none" stroke="#fff" stroke-width="1.9"/>
<circle cx="250.8" cy="296.5" r="2.9" fill="none" stroke="#fff" stroke-width="1.9"/>
<circle cx="250.8" cy="304.0" r="2.9" fill="none" stroke="#fff" stroke-width="1.9"/>
<circle cx="250.8" cy="310.5" r="2.9" fill="none" stroke="#fff" stroke-width="1.9"/>
<circle cx="283.5" cy="308.7" r="2.9" fill="none" stroke="#fff" stroke-width="1.9"/>
<circle cx="277.2" cy="313.8" r="2.9" fill="none" stroke="#fff" stroke-width="1.9"/>
<circle cx="283.5" cy="318.0" r="2.9" fill="none" stroke="#fff" stroke-width="1.9"/>
<circle cx="277.2" cy="322.7" r="2.9" fill="none" stroke="#fff" stroke-width="1.9"/>
<circle cx="338.0" cy="291.9" r="2.9" fill="none" stroke="#fff" stroke-width="1.9"/>
<circle cx="358.8" cy="221.9" r="2.9" fill="none" stroke="#fff" stroke-width="1.9"/>
<circle cx="375.2" cy="200.9" r="2.9" fill="none" stroke="#fff" stroke-width="1.9"/>
<circle cx="379.1" cy="207.2" r="2.9" fill="none" stroke="#fff" stroke-width="1.9"/>
<circle cx="397.8" cy="208.8" r="2.9" fill="none" stroke="#fff" stroke-width="1.9"/>
<circle cx="404.8" cy="202.5" r="2.9" fill="none" stroke="#fff" stroke-width="1.9"/>
<circle cx="294.7" cy="328.5" r="2.9" fill="none" stroke="#fff" stroke-width="1.9"/>
<circle cx="325.0" cy="324.5" r="2.9" fill="none" stroke="#fff" stroke-width="1.9"/>
<circle cx="326.2" cy="239.4" r="4.8" fill="#fff"/><circle cx="326.2" cy="239.4" r="3.6" fill="#2b8a2b"/>
<circle cx="324.5" cy="256.2" r="4.8" fill="#fff"/><circle cx="324.5" cy="256.2" r="3.6" fill="#2b8a2b"/>
<circle cx="370.5" cy="208.3" r="5.0" fill="#fff"/><circle cx="370.5" cy="208.3" r="3.8" fill="#2b8a2b"/>
<circle cx="393.1" cy="203.2" r="5.0" fill="#fff"/><circle cx="393.1" cy="203.2" r="3.8" fill="#2b8a2b"/>
<circle cx="327.3" cy="330.8" r="4.6" fill="#fff"/><circle cx="327.3" cy="330.8" r="3.4" fill="#2b8a2b"/>
<circle cx="281.8" cy="290.0" r="1.3" fill="#2b8a2b" />
<circle cx="250.8" cy="304.0" r="1.3" fill="#2b8a2b" />
<rect x="302.8" y="260.1" width="5.7" height="7.0" fill="#d7d7da" stroke="#a99ed6" stroke-width="0.5"/>
<rect x="308.5" y="260.1" width="3.8" height="7.0" fill="#7b6b63" />
<rect x="312.3" y="260.1" width="5.7" height="7.0" fill="#d7d7da" stroke="#a99ed6" stroke-width="0.5"/>
<rect x="302.8" y="273.7" width="5.7" height="7.4" fill="#d7d7da" stroke="#a99ed6" stroke-width="0.5"/>
<rect x="308.5" y="273.7" width="3.8" height="7.4" fill="#7b6b63" />
<rect x="312.3" y="273.7" width="5.7" height="7.4" fill="#d7d7da" stroke="#a99ed6" stroke-width="0.5"/>
<rect x="316.0" y="261.0" width="3.0" height="5.0" fill="#2b8a2b" stroke="#fff" stroke-width="1"/>
<rect x="248.0" y="321.5" width="7.0" height="10.5" fill="#d7d7da" stroke="#a99ed6" stroke-width="0.5"/>
<polygon points="364.7,226.7 488.4,226.7 494.4,232.7 494.4,355.4 488.4,361.4 364.7,361.4 358.7,355.4 358.7,232.7" fill="#7b6b63" stroke="#8f84c4" stroke-width="0.7"/>
<path d="M392.50,285.50 V305.22 C392.50,311.60 396.27,314.50 401.49,314.50 C406.71,314.50 410.48,311.60 410.48,305.22 V285.50 M418.31,293.04 C418.89,288.11 422.37,285.50 426.43,285.50 C431.65,285.50 434.55,288.69 434.55,293.04 C434.55,297.10 432.23,300.00 418.31,314.50 H435.13 M442.96,291.88 C444.12,287.53 447.31,285.50 451.08,285.50 C456.01,285.50 458.91,288.40 458.91,292.75 C458.91,297.10 455.43,299.42 449.34,299.42 M449.34,299.42 C456.30,299.42 459.78,302.32 459.78,306.96 C459.78,311.60 456.01,314.50 451.08,314.50 C446.73,314.50 443.25,312.18 442.38,308.12 " fill="none" stroke="#66605d" stroke-width="1.6" stroke-linecap="round" stroke-linejoin="round"/>
<rect x="364.3" y="213.7" width="1.9" height="11.4" fill="#d7d7da" stroke="#a99ed6" stroke-width="0.5"/>
<rect x="367.8" y="213.7" width="1.9" height="11.4" fill="#d7d7da" stroke="#a99ed6" stroke-width="0.5"/>
<rect x="371.3" y="213.7" width="1.9" height="11.4" fill="#d7d7da" stroke="#a99ed6" stroke-width="0.5"/>
<rect x="374.8" y="213.7" width="1.9" height="11.4" fill="#d7d7da" stroke="#a99ed6" stroke-width="0.5"/>
<rect x="378.3" y="213.7" width="1.9" height="11.4" fill="#d7d7da" stroke="#a99ed6" stroke-width="0.5"/>
<rect x="381.8" y="213.7" width="1.9" height="11.4" fill="#d7d7da" stroke="#a99ed6" stroke-width="0.5"/>
<rect x="385.2" y="213.7" width="1.9" height="11.4" fill="#d7d7da" stroke="#a99ed6" stroke-width="0.5"/>
<rect x="388.7" y="213.7" width="1.9" height="11.4" fill="#d7d7da" stroke="#a99ed6" stroke-width="0.5"/>
<rect x="392.2" y="213.7" width="1.9" height="11.4" fill="#d7d7da" stroke="#a99ed6" stroke-width="0.5"/>
<rect x="395.7" y="213.7" width="1.9" height="11.4" fill="#d7d7da" stroke="#a99ed6" stroke-width="0.5"/>
<rect x="399.2" y="213.7" width="1.9" height="11.4" fill="#d7d7da" stroke="#a99ed6" stroke-width="0.5"/>
<rect x="402.7" y="213.7" width="1.9" height="11.4" fill="#d7d7da" stroke="#a99ed6" stroke-width="0.5"/>
<rect x="406.2" y="213.7" width="1.9" height="11.4" fill="#d7d7da" stroke="#a99ed6" stroke-width="0.5"/>
<rect x="409.7" y="213.7" width="1.9" height="11.4" fill="#d7d7da" stroke="#a99ed6" stroke-width="0.5"/>
<rect x="413.2" y="213.7" width="1.9" height="11.4" fill="#d7d7da" stroke="#a99ed6" stroke-width="0.5"/>
<rect x="416.7" y="213.7" width="1.9" height="11.4" fill="#d7d7da" stroke="#a99ed6" stroke-width="0.5"/>
<rect x="420.2" y="213.7" width="1.9" height="11.4" fill="#d7d7da" stroke="#a99ed6" stroke-width="0.5"/>
<rect x="423.7" y="213.7" width="1.9" height="11.4" fill="#d7d7da" stroke="#a99ed6" stroke-width="0.5"/>
<rect x="427.1" y="213.7" width="1.9" height="11.4" fill="#d7d7da" stroke="#a99ed6" stroke-width="0.5"/>
<rect x="430.6" y="213.7" width="1.9" height="11.4" fill="#d7d7da" stroke="#a99ed6" stroke-width="0.5"/>
<rect x="434.1" y="213.7" width="1.9" height="11.4" fill="#d7d7da" stroke="#a99ed6" stroke-width="0.5"/>
<rect x="437.6" y="213.7" width="1.9" height="11.4" fill="#d7d7da" stroke="#a99ed6" stroke-width="0.5"/>
<rect x="441.1" y="213.7" width="1.9" height="11.4" fill="#d7d7da" stroke="#a99ed6" stroke-width="0.5"/>
<rect x="444.6" y="213.7" width="1.9" height="11.4" fill="#d7d7da" stroke="#a99ed6" stroke-width="0.5"/>
<rect x="448.1" y="213.7" width="1.9" height="11.4" fill="#d7d7da" stroke="#a99ed6" stroke-width="0.5"/>
<rect x="451.6" y="213.7" width="1.9" height="11.4" fill="#d7d7da" stroke="#a99ed6" stroke-width="0.5"/>
<rect x="455.1" y="213.7" width="1.9" height="11.4" fill="#d7d7da" stroke="#a99ed6" stroke-width="0.5"/>
<rect x="458.6" y="213.7" width="1.9" height="11.4" fill="#d7d7da" stroke="#a99ed6" stroke-width="0.5"/>
<rect x="462.1" y="213.7" width="1.9" height="11.4" fill="#d7d7da" stroke="#a99ed6" stroke-width="0.5"/>
<rect x="465.6" y="213.7" width="1.9" height="11.4" fill="#d7d7da" stroke="#a99ed6" stroke-width="0.5"/>
<rect x="469.0" y="213.7" width="1.9" height="11.4" fill="#d7d7da" stroke="#a99ed6" stroke-width="0.5"/>
<rect x="472.5" y="213.7" width="1.9" height="11.4" fill="#d7d7da" stroke="#a99ed6" stroke-width="0.5"/>
<rect x="476.0" y="213.7" width="1.9" height="11.4" fill="#d7d7da" stroke="#a99ed6" stroke-width="0.5"/>
<rect x="479.5" y="213.7" width="1.9" height="11.4" fill="#d7d7da" stroke="#a99ed6" stroke-width="0.5"/>
<rect x="483.0" y="213.7" width="1.9" height="11.4" fill="#d7d7da" stroke="#a99ed6" stroke-width="0.5"/>
<rect x="486.5" y="213.7" width="1.9" height="11.4" fill="#d7d7da" stroke="#a99ed6" stroke-width="0.5"/>
<rect x="364.3" y="365.3" width="1.9" height="11.4" fill="#d7d7da" stroke="#a99ed6" stroke-width="0.5"/>
<rect x="367.8" y="365.3" width="1.9" height="11.4" fill="#d7d7da" stroke="#a99ed6" stroke-width="0.5"/>
<rect x="371.3" y="365.3" width="1.9" height="11.4" fill="#d7d7da" stroke="#a99ed6" stroke-width="0.5"/>
<rect x="374.8" y="365.3" width="1.9" height="11.4" fill="#d7d7da" stroke="#a99ed6" stroke-width="0.5"/>
<rect x="378.3" y="365.3" width="1.9" height="11.4" fill="#d7d7da" stroke="#a99ed6" stroke-width="0.5"/>
<rect x="381.8" y="365.3" width="1.9" height="11.4" fill="#d7d7da" stroke="#a99ed6" stroke-width="0.5"/>
<rect x="385.2" y="365.3" width="1.9" height="11.4" fill="#d7d7da" stroke="#a99ed6" stroke-width="0.5"/>
<rect x="388.7" y="365.3" width="1.9" height="11.4" fill="#d7d7da" stroke="#a99ed6" stroke-width="0.5"/>
<rect x="392.2" y="365.3" width="1.9" height="11.4" fill="#d7d7da" stroke="#a99ed6" stroke-width="0.5"/>
<rect x="395.7" y="365.3" width="1.9" height="11.4" fill="#d7d7da" stroke="#a99ed6" stroke-width="0.5"/>
<rect x="399.2" y="365.3" width="1.9" height="11.4" fill="#d7d7da" stroke="#a99ed6" stroke-width="0.5"/>
<rect x="402.7" y="365.3" width="1.9" height="11.4" fill="#d7d7da" stroke="#a99ed6" stroke-width="0.5"/>
<rect x="406.2" y="365.3" width="1.9" height="11.4" fill="#d7d7da" stroke="#a99ed6" stroke-width="0.5"/>
<rect x="409.7" y="365.3" width="1.9" height="11.4" fill="#d7d7da" stroke="#a99ed6" stroke-width="0.5"/>
<rect x="413.2" y="365.3" width="1.9" height="11.4" fill="#d7d7da" stroke="#a99ed6" stroke-width="0.5"/>
<rect x="416.7" y="365.3" width="1.9" height="11.4" fill="#d7d7da" stroke="#a99ed6" stroke-width="0.5"/>
<rect x="420.2" y="365.3" width="1.9" height="11.4" fill="#d7d7da" stroke="#a99ed6" stroke-width="0.5"/>
<rect x="423.7" y="365.3" width="1.9" height="11.4" fill="#d7d7da" stroke="#a99ed6" stroke-width="0.5"/>
<rect x="427.1" y="365.3" width="1.9" height="11.4" fill="#d7d7da" stroke="#a99ed6" stroke-width="0.5"/>
<rect x="430.6" y="365.3" width="1.9" height="11.4" fill="#d7d7da" stroke="#a99ed6" stroke-width="0.5"/>
<rect x="434.1" y="365.3" width="1.9" height="11.4" fill="#d7d7da" stroke="#a99ed6" stroke-width="0.5"/>
<rect x="437.6" y="365.3" width="1.9" height="11.4" fill="#d7d7da" stroke="#a99ed6" stroke-width="0.5"/>
<rect x="441.1" y="365.3" width="1.9" height="11.4" fill="#d7d7da" stroke="#a99ed6" stroke-width="0.5"/>
<rect x="444.6" y="365.3" width="1.9" height="11.4" fill="#d7d7da" stroke="#a99ed6" stroke-width="0.5"/>
<rect x="448.1" y="365.3" width="1.9" height="11.4" fill="#d7d7da" stroke="#a99ed6" stroke-width="0.5"/>
<rect x="451.6" y="365.3" width="1.9" height="11.4" fill="#d7d7da" stroke="#a99ed6" stroke-width="0.5"/>
<rect x="455.1" y="365.3" width="1.9" height="11.4" fill="#d7d7da" stroke="#a99ed6" stroke-width="0.5"/>
<rect x="458.6" y="365.3" width="1.9" height="11.4" fill="#d7d7da" stroke="#a99ed6" stroke-width="0.5"/>
<rect x="462.1" y="365.3" width="1.9" height="11.4" fill="#d7d7da" stroke="#a99ed6" stroke-width="0.5"/>
<rect x="465.6" y="365.3" width="1.9" height="11.4" fill="#d7d7da" stroke="#a99ed6" stroke-width="0.5"/>
<rect x="469.0" y="365.3" width="1.9" height="11.4" fill="#d7d7da" stroke="#a99ed6" stroke-width="0.5"/>
<rect x="472.5" y="365.3" width="1.9" height="11.4" fill="#d7d7da" stroke="#a99ed6" stroke-width="0.5"/>
<rect x="476.0" y="365.3" width="1.9" height="11.4" fill="#d7d7da" stroke="#a99ed6" stroke-width="0.5"/>
<rect x="479.5" y="365.3" width="1.9" height="11.4" fill="#d7d7da" stroke="#a99ed6" stroke-width="0.5"/>
<rect x="483.0" y="365.3" width="1.9" height="11.4" fill="#d7d7da" stroke="#a99ed6" stroke-width="0.5"/>
<rect x="486.5" y="365.3" width="1.9" height="11.4" fill="#d7d7da" stroke="#a99ed6" stroke-width="0.5"/>
<rect x="344.5" y="231.4" width="10.6" height="1.9" fill="#d7d7da" stroke="#a99ed6" stroke-width="0.5"/>
<rect x="344.5" y="234.9" width="10.6" height="1.9" fill="#d7d7da" stroke="#a99ed6" stroke-width="0.5"/>
<rect x="344.5" y="238.3" width="10.6" height="1.9" fill="#d7d7da" stroke="#a99ed6" stroke-width="0.5"/>
<rect x="344.5" y="241.8" width="10.6" height="1.9" fill="#d7d7da" stroke="#a99ed6" stroke-width="0.5"/>
<rect x="344.5" y="245.3" width="10.6" height="1.9" fill="#d7d7da" stroke="#a99ed6" stroke-width="0.5"/>
<rect x="344.5" y="248.8" width="10.6" height="1.9" fill="#d7d7da" stroke="#a99ed6" stroke-width="0.5"/>
<rect x="344.5" y="252.3" width="10.6" height="1.9" fill="#d7d7da" stroke="#a99ed6" stroke-width="0.5"/>
<rect x="344.5" y="255.7" width="10.6" height="1.9" fill="#d7d7da" stroke="#a99ed6" stroke-width="0.5"/>
<rect x="344.5" y="259.2" width="10.6" height="1.9" fill="#d7d7da" stroke="#a99ed6" stroke-width="0.5"/>
<rect x="344.5" y="262.7" width="10.6" height="1.9" fill="#d7d7da" stroke="#a99ed6" stroke-width="0.5"/>
<rect x="344.5" y="266.2" width="10.6" height="1.9" fill="#d7d7da" stroke="#a99ed6" stroke-width="0.5"/>
<rect x="344.5" y="269.7" width="10.6" height="1.9" fill="#d7d7da" stroke="#a99ed6" stroke-width="0.5"/>
<rect x="344.5" y="273.1" width="10.6" height="1.9" fill="#d7d7da" stroke="#a99ed6" stroke-width="0.5"/>
<rect x="344.5" y="276.6" width="10.6" height="1.9" fill="#d7d7da" stroke="#a99ed6" stroke-width="0.5"/>
<rect x="344.5" y="280.1" width="10.6" height="1.9" fill="#d7d7da" stroke="#a99ed6" stroke-width="0.5"/>
<rect x="344.5" y="283.6" width="10.6" height="1.9" fill="#d7d7da" stroke="#a99ed6" stroke-width="0.5"/>
<rect x="344.5" y="287.0" width="10.6" height="1.9" fill="#d7d7da" stroke="#a99ed6" stroke-width="0.5"/>
<rect x="344.5" y="290.5" width="10.6" height="1.9" fill="#d7d7da" stroke="#a99ed6" stroke-width="0.5"/>
<rect x="344.5" y="294.0" width="10.6" height="1.9" fill="#d7d7da" stroke="#a99ed6" stroke-width="0.5"/>
<rect x="344.5" y="297.5" width="10.6" height="1.9" fill="#d7d7da" stroke="#a99ed6" stroke-width="0.5"/>
<rect x="344.5" y="301.0" width="10.6" height="1.9" fill="#d7d7da" stroke="#a99ed6" stroke-width="0.5"/>
<rect x="344.5" y="304.4" width="10.6" height="1.9" fill="#d7d7da" stroke="#a99ed6" stroke-width="0.5"/>
<rect x="344.5" y="307.9" width="10.6" height="1.9" fill="#d7d7da" stroke="#a99ed6" stroke-width="0.5"/>
<rect x="344.5" y="311.4" width="10.6" height="1.9" fill="#d7d7da" stroke="#a99ed6" stroke-width="0.5"/>
<rect x="344.5" y="314.9" width="10.6" height="1.9" fill="#d7d7da" stroke="#a99ed6" stroke-width="0.5"/>
<rect x="344.5" y="318.3" width="10.6" height="1.9" fill="#d7d7da" stroke="#a99ed6" stroke-width="0.5"/>
<rect x="344.5" y="321.8" width="10.6" height="1.9" fill="#d7d7da" stroke="#a99ed6" stroke-width="0.5"/>
<rect x="344.5" y="325.3" width="10.6" height="1.9" fill="#d7d7da" stroke="#a99ed6" stroke-width="0.5"/>
<rect x="344.5" y="328.8" width="10.6" height="1.9" fill="#d7d7da" stroke="#a99ed6" stroke-width="0.5"/>
<rect x="344.5" y="332.3" width="10.6" height="1.9" fill="#d7d7da" stroke="#a99ed6" stroke-width="0.5"/>
<rect x="344.5" y="335.7" width="10.6" height="1.9" fill="#d7d7da" stroke="#a99ed6" stroke-width="0.5"/>
<rect x="344.5" y="339.2" width="10.6" height="1.9" fill="#d7d7da" stroke="#a99ed6" stroke-width="0.5"/>
<rect x="344.5" y="342.7" width="10.6" height="1.9" fill="#d7d7da" stroke="#a99ed6" stroke-width="0.5"/>
<rect x="344.5" y="346.2" width="10.6" height="1.9" fill="#d7d7da" stroke="#a99ed6" stroke-width="0.5"/>
<rect x="344.5" y="349.7" width="10.6" height="1.9" fill="#d7d7da" stroke="#a99ed6" stroke-width="0.5"/>
<rect x="344.5" y="353.1" width="10.6" height="1.9" fill="#d7d7da" stroke="#a99ed6" stroke-width="0.5"/>
<rect x="344.5" y="356.6" width="10.6" height="1.9" fill="#d7d7da" stroke="#a99ed6" stroke-width="0.5"/>
<rect x="495.3" y="231.4" width="11.7" height="1.9" fill="#d7d7da" stroke="#a99ed6" stroke-width="0.5"/>
<rect x="495.3" y="234.9" width="11.7" height="1.9" fill="#d7d7da" stroke="#a99ed6" stroke-width="0.5"/>
<rect x="495.3" y="238.3" width="11.7" height="1.9" fill="#d7d7da" stroke="#a99ed6" stroke-width="0.5"/>
<rect x="495.3" y="241.8" width="11.7" height="1.9" fill="#d7d7da" stroke="#a99ed6" stroke-width="0.5"/>
<rect x="495.3" y="245.3" width="11.7" height="1.9" fill="#d7d7da" stroke="#a99ed6" stroke-width="0.5"/>
<rect x="495.3" y="248.8" width="11.7" height="1.9" fill="#d7d7da" stroke="#a99ed6" stroke-width="0.5"/>
<rect x="495.3" y="252.3" width="11.7" height="1.9" fill="#d7d7da" stroke="#a99ed6" stroke-width="0.5"/>
<rect x="495.3" y="255.7" width="11.7" height="1.9" fill="#d7d7da" stroke="#a99ed6" stroke-width="0.5"/>
<rect x="495.3" y="259.2" width="11.7" height="1.9" fill="#d7d7da" stroke="#a99ed6" stroke-width="0.5"/>
<rect x="495.3" y="262.7" width="11.7" height="1.9" fill="#d7d7da" stroke="#a99ed6" stroke-width="0.5"/>
<rect x="495.3" y="266.2" width="11.7" height="1.9" fill="#d7d7da" stroke="#a99ed6" stroke-width="0.5"/>
<rect x="495.3" y="269.7" width="11.7" height="1.9" fill="#d7d7da" stroke="#a99ed6" stroke-width="0.5"/>
<rect x="495.3" y="273.1" width="11.7" height="1.9" fill="#d7d7da" stroke="#a99ed6" stroke-width="0.5"/>
<rect x="495.3" y="276.6" width="11.7" height="1.9" fill="#d7d7da" stroke="#a99ed6" stroke-width="0.5"/>
<rect x="495.3" y="280.1" width="11.7" height="1.9" fill="#d7d7da" stroke="#a99ed6" stroke-width="0.5"/>
<rect x="495.3" y="283.6" width="11.7" height="1.9" fill="#d7d7da" stroke="#a99ed6" stroke-width="0.5"/>
<rect x="495.3" y="287.0" width="11.7" height="1.9" fill="#d7d7da" stroke="#a99ed6" stroke-width="0.5"/>
<rect x="495.3" y="290.5" width="11.7" height="1.9" fill="#d7d7da" stroke="#a99ed6" stroke-width="0.5"/>
<rect x="495.3" y="294.0" width="11.7" height="1.9" fill="#d7d7da" stroke="#a99ed6" stroke-width="0.5"/>
<rect x="495.3" y="297.5" width="11.7" height="1.9" fill="#d7d7da" stroke="#a99ed6" stroke-width="0.5"/>
<rect x="495.3" y="301.0" width="11.7" height="1.9" fill="#d7d7da" stroke="#a99ed6" stroke-width="0.5"/>
<rect x="495.3" y="304.4" width="11.7" height="1.9" fill="#d7d7da" stroke="#a99ed6" stroke-width="0.5"/>
<rect x="495.3" y="307.9" width="11.7" height="1.9" fill="#d7d7da" stroke="#a99ed6" stroke-width="0.5"/>
<rect x="495.3" y="311.4" width="11.7" height="1.9" fill="#d7d7da" stroke="#a99ed6" stroke-width="0.5"/>
<rect x="495.3" y="314.9" width="11.7" height="1.9" fill="#d7d7da" stroke="#a99ed6" stroke-width="0.5"/>
<rect x="495.3" y="318.3" width="11.7" height="1.9" fill="#d7d7da" stroke="#a99ed6" stroke-width="0.5"/>
<rect x="495.3" y="321.8" width="11.7" height="1.9" fill="#d7d7da" stroke="#a99ed6" stroke-width="0.5"/>
<rect x="495.3" y="325.3" width="11.7" height="1.9" fill="#d7d7da" stroke="#a99ed6" stroke-width="0.5"/>
<rect x="495.3" y="328.8" width="11.7" height="1.9" fill="#d7d7da" stroke="#a99ed6" stroke-width="0.5"/>
<rect x="495.3" y="332.3" width="11.7" height="1.9" fill="#d7d7da" stroke="#a99ed6" stroke-width="0.5"/>
<rect x="495.3" y="335.7" width="11.7" height="1.9" fill="#d7d7da" stroke="#a99ed6" stroke-width="0.5"/>
<rect x="495.3" y="339.2" width="11.7" height="1.9" fill="#d7d7da" stroke="#a99ed6" stroke-width="0.5"/>
<rect x="495.3" y="342.7" width="11.7" height="1.9" fill="#d7d7da" stroke="#a99ed6" stroke-width="0.5"/>
<rect x="495.3" y="346.2" width="11.7" height="1.9" fill="#d7d7da" stroke="#a99ed6" stroke-width="0.5"/>
<rect x="495.3" y="349.7" width="11.7" height="1.9" fill="#d7d7da" stroke="#a99ed6" stroke-width="0.5"/>
<rect x="495.3" y="353.1" width="11.7" height="1.9" fill="#d7d7da" stroke="#a99ed6" stroke-width="0.5"/>
<rect x="495.3" y="356.6" width="11.7" height="1.9" fill="#d7d7da" stroke="#a99ed6" stroke-width="0.5"/>
<rect x="370.0" y="215.0" width="2.2" height="5.0" fill="#2b8a2b" />
<rect x="370.0" y="216.0" width="4.0" height="1.3" fill="#2b8a2b" />
<rect x="386.0" y="215.0" width="2.2" height="5.0" fill="#2b8a2b" />
<rect x="386.0" y="216.0" width="4.0" height="1.3" fill="#2b8a2b" />
<rect x="395.0" y="215.0" width="2.2" height="5.0" fill="#2b8a2b" />
<rect x="395.0" y="216.0" width="4.0" height="1.3" fill="#2b8a2b" />
<rect x="403.0" y="215.0" width="2.2" height="5.0" fill="#2b8a2b" />
<rect x="403.0" y="216.0" width="4.0" height="1.3" fill="#2b8a2b" />
<rect x="460.0" y="215.0" width="2.2" height="5.0" fill="#2b8a2b" />
<rect x="460.0" y="216.0" width="4.0" height="1.3" fill="#2b8a2b" />
<rect x="468.0" y="215.0" width="2.2" height="5.0" fill="#2b8a2b" />
<rect x="468.0" y="216.0" width="4.0" height="1.3" fill="#2b8a2b" />
<rect x="476.0" y="215.0" width="2.2" height="5.0" fill="#2b8a2b" />
<rect x="476.0" y="216.0" width="4.0" height="1.3" fill="#2b8a2b" />
<rect x="346.0" y="248.0" width="5.0" height="2.0" fill="#2b8a2b" />
<rect x="346.0" y="252.0" width="5.0" height="2.0" fill="#2b8a2b" />
<rect x="346.0" y="256.0" width="5.0" height="2.0" fill="#2b8a2b" />
<rect x="346.0" y="275.0" width="5.0" height="2.0" fill="#2b8a2b" />
<rect x="346.0" y="279.0" width="5.0" height="2.0" fill="#2b8a2b" />
<rect x="346.0" y="283.0" width="5.0" height="2.0" fill="#2b8a2b" />
<rect x="346.0" y="354.0" width="5.0" height="2.0" fill="#2b8a2b" />
<rect x="499.0" y="232.0" width="5.0" height="2.0" fill="#2b8a2b" />
<rect x="499.0" y="236.0" width="5.0" height="2.0" fill="#2b8a2b" />
<rect x="499.0" y="240.0" width="5.0" height="2.0" fill="#2b8a2b" />
<rect x="499.0" y="248.0" width="5.0" height="2.0" fill="#2b8a2b" />
<rect x="499.0" y="252.0" width="5.0" height="2.0" fill="#2b8a2b" />
<rect x="499.0" y="257.0" width="5.0" height="2.0" fill="#2b8a2b" />
<rect x="499.0" y="262.0" width="5.0" height="2.0" fill="#2b8a2b" />
<rect x="499.0" y="269.0" width="5.0" height="2.0" fill="#2b8a2b" />
<rect x="499.0" y="329.0" width="5.0" height="2.0" fill="#2b8a2b" />
<rect x="499.0" y="333.0" width="5.0" height="2.0" fill="#2b8a2b" />
<rect x="499.0" y="337.0" width="5.0" height="2.0" fill="#2b8a2b" />
<rect x="499.0" y="342.0" width="5.0" height="2.0" fill="#2b8a2b" />
<rect x="499.0" y="347.0" width="5.0" height="2.0" fill="#2b8a2b" />
<rect x="388.0" y="366.0" width="2.2" height="5.0" fill="#2b8a2b" />
<rect x="398.0" y="366.0" width="2.2" height="5.0" fill="#2b8a2b" />
<rect x="408.0" y="366.0" width="2.2" height="5.0" fill="#2b8a2b" />
<rect x="432.0" y="366.0" width="2.2" height="5.0" fill="#2b8a2b" />
<rect x="440.0" y="366.0" width="2.2" height="5.0" fill="#2b8a2b" />
<rect x="450.0" y="366.0" width="2.2" height="5.0" fill="#2b8a2b" />
<rect x="462.0" y="366.0" width="2.2" height="5.0" fill="#2b8a2b" />
<rect x="468.0" y="366.0" width="2.2" height="5.0" fill="#2b8a2b" />
<rect x="363.0" y="236.0" width="7.0" height="6.0" fill="#5e7856" stroke="#8a8a8a" stroke-width="0.8"/>
<rect x="363.0" y="245.0" width="7.0" height="6.0" fill="#5e7856" stroke="#8a8a8a" stroke-width="0.8"/>
<rect x="385.0" y="243.0" width="3.5" height="5.0" fill="#5e7856" stroke="#8a8a8a" stroke-width="0.8"/>
<rect x="390.0" y="243.0" width="3.5" height="5.0" fill="#5e7856" stroke="#8a8a8a" stroke-width="0.8"/>
<rect x="367.0" y="266.0" width="7.0" height="5.0" fill="#5e7856" stroke="#8a8a8a" stroke-width="0.8"/>
<rect x="367.0" y="274.0" width="7.0" height="5.0" fill="#5e7856" stroke="#8a8a8a" stroke-width="0.8"/>
<rect x="431.0" y="250.0" width="3.5" height="5.0" fill="#5e7856" stroke="#8a8a8a" stroke-width="0.8"/>
<rect x="444.0" y="250.0" width="3.5" height="5.0" fill="#5e7856" stroke="#8a8a8a" stroke-width="0.8"/>
<rect x="431.0" y="258.0" width="3.5" height="5.0" fill="#5e7856" stroke="#8a8a8a" stroke-width="0.8"/>
<rect x="444.0" y="258.0" width="3.5" height="5.0" fill="#5e7856" stroke="#8a8a8a" stroke-width="0.8"/>
<rect x="461.0" y="240.0" width="10.0" height="9.0" fill="#5e7856" stroke="#8a8a8a" stroke-width="0.8"/>
<rect x="461.0" y="252.0" width="10.0" height="9.0" fill="#5e7856" stroke="#8a8a8a" stroke-width="0.8"/>
<rect x="477.0" y="247.0" width="7.0" height="5.0" fill="#5e7856" stroke="#8a8a8a" stroke-width="0.8"/>
<rect x="477.0" y="256.0" width="7.0" height="5.0" fill="#5e7856" stroke="#8a8a8a" stroke-width="0.8"/>
<rect x="452.0" y="256.0" width="5.0" height="5.0" fill="#5e7856" stroke="#8a8a8a" stroke-width="0.8"/>
<rect x="425.0" y="281.0" width="9.0" height="11.0" fill="#5e7856" stroke="#8a8a8a" stroke-width="0.8"/>
<rect x="438.0" y="281.0" width="9.0" height="11.0" fill="#5e7856" stroke="#8a8a8a" stroke-width="0.8"/>
<rect x="385.0" y="285.0" width="10.0" height="16.0" fill="#5e7856" stroke="#8a8a8a" stroke-width="0.8"/>
<rect x="404.0" y="285.0" width="10.0" height="16.0" fill="#5e7856" stroke="#8a8a8a" stroke-width="0.8"/>
<rect x="389.0" y="305.0" width="8.0" height="9.0" fill="#5e7856" stroke="#8a8a8a" stroke-width="0.8"/>
<rect x="400.0" y="305.0" width="8.0" height="9.0" fill="#5e7856" stroke="#8a8a8a" stroke-width="0.8"/>
<rect x="401.0" y="322.0" width="4.0" height="4.0" fill="#5e7856" stroke="#8a8a8a" stroke-width="0.8"/>
<rect x="407.0" y="322.0" width="4.0" height="4.0" fill="#5e7856" stroke="#8a8a8a" stroke-width="0.8"/>
<rect x="395.0" y="331.0" width="5.0" height="6.0" fill="#5e7856" stroke="#8a8a8a" stroke-width="0.8"/>
<rect x="405.0" y="331.0" width="5.0" height="6.0" fill="#5e7856" stroke="#8a8a8a" stroke-width="0.8"/>
<rect x="419.0" y="322.0" width="7.0" height="6.0" fill="#5e7856" stroke="#8a8a8a" stroke-width="0.8"/>
<rect x="419.0" y="331.0" width="7.0" height="6.0" fill="#5e7856" stroke="#8a8a8a" stroke-width="0.8"/>
<rect x="430.0" y="332.0" width="4.0" height="5.0" fill="#5e7856" stroke="#8a8a8a" stroke-width="0.8"/>
<rect x="437.0" y="332.0" width="4.0" height="5.0" fill="#5e7856" stroke="#8a8a8a" stroke-width="0.8"/>
<rect x="395.0" y="345.0" width="5.0" height="5.0" fill="#5e7856" stroke="#8a8a8a" stroke-width="0.8"/>
<rect x="405.0" y="345.0" width="5.0" height="5.0" fill="#5e7856" stroke="#8a8a8a" stroke-width="0.8"/>
<rect x="378.0" y="349.0" width="5.0" height="6.0" fill="#5e7856" stroke="#8a8a8a" stroke-width="0.8"/>
<rect x="386.0" y="349.0" width="5.0" height="6.0" fill="#5e7856" stroke="#8a8a8a" stroke-width="0.8"/>
<rect x="442.0" y="346.0" width="5.0" height="5.0" fill="#5e7856" stroke="#8a8a8a" stroke-width="0.8"/>
<rect x="449.0" y="346.0" width="5.0" height="5.0" fill="#5e7856" stroke="#8a8a8a" stroke-width="0.8"/>
<rect x="456.0" y="341.0" width="5.0" height="7.0" fill="#5e7856" stroke="#8a8a8a" stroke-width="0.8"/>
<rect x="466.0" y="341.0" width="5.0" height="7.0" fill="#5e7856" stroke="#8a8a8a" stroke-width="0.8"/>
<rect x="483.0" y="321.0" width="7.0" height="6.0" fill="#5e7856" stroke="#8a8a8a" stroke-width="0.8"/>
<rect x="483.0" y="331.0" width="7.0" height="6.0" fill="#5e7856" stroke="#8a8a8a" stroke-width="0.8"/>
<rect x="369.0" y="327.0" width="6.0" height="6.0" fill="#5e7856" stroke="#8a8a8a" stroke-width="0.8"/>
<rect x="369.0" y="336.0" width="6.0" height="6.0" fill="#5e7856" stroke="#8a8a8a" stroke-width="0.8"/>
<circle cx="433.0" cy="233.0" r="2.6" fill="none" stroke="#8e8e8e" stroke-width="1.2"/>
<circle cx="447.0" cy="233.0" r="2.6" fill="none" stroke="#8e8e8e" stroke-width="1.2"/>
<circle cx="402.0" cy="238.0" r="2.6" fill="none" stroke="#8e8e8e" stroke-width="1.2"/>
<circle cx="369.0" cy="257.0" r="2.6" fill="none" stroke="#8e8e8e" stroke-width="1.2"/>
<circle cx="465.0" cy="228.0" r="2.6" fill="none" stroke="#8e8e8e" stroke-width="1.2"/>
<circle cx="487.0" cy="273.0" r="2.6" fill="none" stroke="#8e8e8e" stroke-width="1.2"/>
<circle cx="430.0" cy="301.0" r="2.6" fill="none" stroke="#8e8e8e" stroke-width="1.2"/>
<circle cx="445.0" cy="302.0" r="2.6" fill="none" stroke="#8e8e8e" stroke-width="1.2"/>
<circle cx="442.0" cy="348.0" r="2.6" fill="none" stroke="#8e8e8e" stroke-width="1.2"/>
<circle cx="481.0" cy="311.0" r="2.6" fill="none" stroke="#8e8e8e" stroke-width="1.2"/>
<circle cx="487.0" cy="295.0" r="2.6" fill="none" stroke="#8e8e8e" stroke-width="1.2"/>
<circle cx="487.0" cy="303.0" r="2.6" fill="none" stroke="#8e8e8e" stroke-width="1.2"/>
<circle cx="487.0" cy="318.0" r="2.6" fill="none" stroke="#8e8e8e" stroke-width="1.2"/>
<circle cx="488.0" cy="340.0" r="2.6" fill="none" stroke="#8e8e8e" stroke-width="1.2"/>
<circle cx="376.0" cy="260.0" r="2.6" fill="none" stroke="#8e8e8e" stroke-width="1.2"/>
<circle cx="403.0" cy="260.0" r="2.6" fill="none" stroke="#8e8e8e" stroke-width="1.2"/>
<circle cx="372.0" cy="300.0" r="2.6" fill="none" stroke="#8e8e8e" stroke-width="1.2"/>
<circle cx="403.0" cy="238.0" r="3.0" fill="#5e7856" stroke="#8a8a8a" stroke-width="0.7"/>
<circle cx="433.0" cy="233.0" r="3.0" fill="#5e7856" stroke="#8a8a8a" stroke-width="0.7"/>
<circle cx="447.0" cy="233.0" r="3.0" fill="#5e7856" stroke="#8a8a8a" stroke-width="0.7"/>
<circle cx="445.0" cy="302.0" r="3.0" fill="#5e7856" stroke="#8a8a8a" stroke-width="0.7"/>
<circle cx="432.0" cy="345.0" r="3.0" fill="#5e7856" stroke="#8a8a8a" stroke-width="0.7"/>
<circle cx="465.0" cy="262.0" r="3.0" fill="#5e7856" stroke="#8a8a8a" stroke-width="0.7"/>
<circle cx="465.0" cy="228.0" r="3.0" fill="#5e7856" stroke="#8a8a8a" stroke-width="0.7"/>
<circle cx="494.4" cy="274.9" r="4.7" fill="#fff"/><circle cx="494.4" cy="274.9" r="3.5" fill="#2b8a2b"/>
<circle cx="503.5" cy="195.5" r="2.9" fill="none" stroke="#fff" stroke-width="1.9"/>
<circle cx="500.0" cy="200.9" r="2.9" fill="none" stroke="#fff" stroke-width="1.9"/>
<circle cx="503.5" cy="204.8" r="2.9" fill="none" stroke="#fff" stroke-width="1.9"/>
<circle cx="500.0" cy="209.5" r="2.9" fill="none" stroke="#fff" stroke-width="1.9"/>
<circle cx="445.2" cy="202.5" r="2.9" fill="none" stroke="#fff" stroke-width="1.9"/>
<circle cx="453.3" cy="202.5" r="2.9" fill="none" stroke="#fff" stroke-width="1.9"/>
<circle cx="420.0" cy="203.0" r="2.9" fill="none" stroke="#fff" stroke-width="1.9"/>
<circle cx="421.0" cy="197.0" r="2.9" fill="none" stroke="#fff" stroke-width="1.9"/>
<circle cx="418.0" cy="207.0" r="2.9" fill="none" stroke="#fff" stroke-width="1.9"/>
<circle cx="537.3" cy="238.7" r="2.9" fill="none" stroke="#fff" stroke-width="1.9"/>
<circle cx="544.3" cy="243.3" r="2.9" fill="none" stroke="#fff" stroke-width="1.9"/>
<circle cx="537.3" cy="248.0" r="2.9" fill="none" stroke="#fff" stroke-width="1.9"/>
<circle cx="544.3" cy="252.7" r="2.9" fill="none" stroke="#fff" stroke-width="1.9"/>
<circle cx="537.3" cy="257.3" r="2.9" fill="none" stroke="#fff" stroke-width="1.9"/>
<circle cx="544.3" cy="259.7" r="2.9" fill="none" stroke="#fff" stroke-width="1.9"/>
<circle cx="537.3" cy="265.5" r="2.9" fill="none" stroke="#fff" stroke-width="1.9"/>
<circle cx="556.5" cy="224.7" r="2.9" fill="none" stroke="#fff" stroke-width="1.9"/>
<circle cx="551.8" cy="234.7" r="2.9" fill="none" stroke="#fff" stroke-width="1.9"/>
<circle cx="616.7" cy="305.2" r="2.9" fill="none" stroke="#fff" stroke-width="1.9"/>
<circle cx="613.2" cy="308.7" r="2.9" fill="none" stroke="#fff" stroke-width="1.9"/>
<circle cx="609.7" cy="312.9" r="2.9" fill="none" stroke="#fff" stroke-width="1.9"/>
<circle cx="606.2" cy="316.1" r="2.9" fill="none" stroke="#fff" stroke-width="1.9"/>
<circle cx="603.8" cy="319.2" r="2.9" fill="none" stroke="#fff" stroke-width="1.9"/>
<circle cx="519.8" cy="327.8" r="2.9" fill="none" stroke="#fff" stroke-width="1.9"/>
<circle cx="428.1" cy="194.3" r="4.8" fill="#fff"/><circle cx="428.1" cy="194.3" r="3.6" fill="#2b8a2b"/>
<circle cx="449.8" cy="189.7" r="4.8" fill="#fff"/><circle cx="449.8" cy="189.7" r="3.6" fill="#2b8a2b"/>
<circle cx="419.5" cy="213.5" r="4.6" fill="#fff"/><circle cx="419.5" cy="213.5" r="3.4" fill="#2b8a2b"/>
<circle cx="529.2" cy="257.3" r="5.0" fill="#fff"/><circle cx="529.2" cy="257.3" r="3.8" fill="#2b8a2b"/>
<circle cx="551.8" cy="252.7" r="5.0" fill="#fff"/><circle cx="551.8" cy="252.7" r="3.8" fill="#2b8a2b"/>
<rect x="580.5" y="215.3" width="21.0" height="22.2" fill="#7b6b63" />
<rect x="584.0" y="220.0" width="14.0" height="12.8" fill="#d7d7da" stroke="#a99ed6" stroke-width="0.5"/>
<rect x="583.0" y="213.0" width="3.0" height="3.0" fill="#d7d7da" stroke="#a99ed6" stroke-width="0.5"/>
<rect x="583.0" y="236.5" width="3.0" height="3.0" fill="#d7d7da" stroke="#a99ed6" stroke-width="0.5"/>
<rect x="589.5" y="213.0" width="3.0" height="3.0" fill="#d7d7da" stroke="#a99ed6" stroke-width="0.5"/>
<rect x="589.5" y="236.5" width="3.0" height="3.0" fill="#d7d7da" stroke="#a99ed6" stroke-width="0.5"/>
<rect x="596.0" y="213.0" width="3.0" height="3.0" fill="#d7d7da" stroke="#a99ed6" stroke-width="0.5"/>
<rect x="596.0" y="236.5" width="3.0" height="3.0" fill="#d7d7da" stroke="#a99ed6" stroke-width="0.5"/>
<text x="586" y="229" font-size="6" fill="#888" font-family="Liberation Sans" >U2</text>
<rect x="561.8" y="214.2" width="3.7" height="4.6" fill="#d7d7da" stroke="#a99ed6" stroke-width="0.5"/>
<rect x="565.5" y="214.2" width="3.2" height="4.6" fill="#7b6b63" />
<rect x="568.6" y="214.2" width="3.7" height="4.6" fill="#d7d7da" stroke="#a99ed6" stroke-width="0.5"/>
<rect x="561.8" y="222.3" width="3.7" height="4.7" fill="#d7d7da" stroke="#a99ed6" stroke-width="0.5"/>
<rect x="565.5" y="222.3" width="3.2" height="4.7" fill="#7b6b63" />
<rect x="568.6" y="222.3" width="3.7" height="4.7" fill="#d7d7da" stroke="#a99ed6" stroke-width="0.5"/>
<circle cx="612.5" cy="214.2" r="5.2" fill="none" stroke="#fff" stroke-width="1.9"/>
<rect x="608.5" y="221.0" width="10.5" height="10.7" fill="#d7d7da" stroke="#a99ed6" stroke-width="0.5"/>
<rect x="551.8" y="245.7" width="5.6" height="9.3" fill="#d7d7da" stroke="#a99ed6" stroke-width="0.5"/>
<rect x="557.4" y="245.7" width="4.8" height="9.3" fill="#7b6b63" />
<rect x="562.1" y="245.7" width="5.6" height="9.3" fill="#d7d7da" stroke="#a99ed6" stroke-width="0.5"/>
<rect x="571.0" y="245.7" width="5.4" height="9.3" fill="#d7d7da" stroke="#a99ed6" stroke-width="0.5"/>
<rect x="576.4" y="245.7" width="4.6" height="9.3" fill="#7b6b63" />
<rect x="580.9" y="245.7" width="5.4" height="9.3" fill="#d7d7da" stroke="#a99ed6" stroke-width="0.5"/>
<rect x="586.3" y="243.3" width="11.7" height="21" rx="5.8" fill="none" stroke="#fff" stroke-width="1.5"/>
<rect x="598.0" y="245.7" width="7.9" height="9.3" fill="#d7d7da" stroke="#a99ed6" stroke-width="0.5"/>
<rect x="605.9" y="245.7" width="5.2" height="9.3" fill="#7b6b63" />
<rect x="611.1" y="245.7" width="7.9" height="9.3" fill="#d7d7da" stroke="#a99ed6" stroke-width="0.5"/>
<rect x="602.7" y="266.7" width="10.0" height="9.0" fill="#d7d7da" stroke="#a99ed6" stroke-width="0.5"/>
<rect x="602.7" y="278.5" width="10.0" height="9.0" fill="#d7d7da" stroke="#a99ed6" stroke-width="0.5"/>
<rect x="612.7" y="266.7" width="6.3" height="21.0" fill="#7b6b63" />
<rect x="605.6" y="325.0" width="1.5" height="6.0" fill="#d7d7da" stroke="#a99ed6" stroke-width="0.5"/>
<rect x="608.4" y="325.0" width="1.5" height="6.0" fill="#d7d7da" stroke="#a99ed6" stroke-width="0.5"/>
<rect x="611.2" y="325.0" width="1.5" height="6.0" fill="#d7d7da" stroke="#a99ed6" stroke-width="0.5"/>
<rect x="614.0" y="325.0" width="1.5" height="6.0" fill="#d7d7da" stroke="#a99ed6" stroke-width="0.5"/>
<rect x="616.8" y="325.0" width="1.5" height="6.0" fill="#d7d7da" stroke="#a99ed6" stroke-width="0.5"/>
<rect x="638.1" y="208.8" width="34.6" height="82.4" fill="#7b6b63" />
<rect x="648.2" y="193.9" width="14.7" height="38.9" fill="#d7d7da" stroke="#a99ed6" stroke-width="0.5"/>
<rect x="648.2" y="267.8" width="14.7" height="39.0" fill="#d7d7da" stroke="#a99ed6" stroke-width="0.5"/>
<text x="650" y="255" font-size="7" fill="#6a5b55" font-family="Liberation Sans" >V2</text>
<rect x="619.0" y="221.2" width="11.7" height="10.5" fill="#d7d7da" stroke="#a99ed6" stroke-width="0.5"/>
<rect x="619.0" y="221.2" width="2.0" height="10.5" fill="#7b6b63" />
<rect x="619.0" y="273.7" width="8.2" height="7.0" fill="#d7d7da" stroke="#a99ed6" stroke-width="0.5"/>
<circle cx="688.5" cy="211.1" r="5.0" fill="#fff"/><circle cx="688.5" cy="211.1" r="3.8" fill="#2b8a2b"/>
<circle cx="704.2" cy="206.0" r="5.0" fill="#fff"/><circle cx="704.2" cy="206.0" r="3.8" fill="#2b8a2b"/>
<circle cx="717.0" cy="201.3" r="5.0" fill="#fff"/><circle cx="717.0" cy="201.3" r="3.8" fill="#2b8a2b"/>
<rect x="686.7" y="216.5" width="4.2" height="3.7" fill="#d7d7da" stroke="#a99ed6" stroke-width="0.5"/>
<rect x="686.7" y="220.2" width="4.2" height="3.2" fill="#7b6b63" />
<rect x="686.7" y="223.3" width="4.2" height="3.7" fill="#d7d7da" stroke="#a99ed6" stroke-width="0.5"/>
<rect x="701.8" y="210.7" width="4.7" height="3.7" fill="#d7d7da" stroke="#a99ed6" stroke-width="0.5"/>
<rect x="701.8" y="214.4" width="4.7" height="3.2" fill="#7b6b63" />
<rect x="701.8" y="217.5" width="4.7" height="3.7" fill="#d7d7da" stroke="#a99ed6" stroke-width="0.5"/>
<rect x="714.7" y="210.7" width="4.6" height="3.7" fill="#d7d7da" stroke="#a99ed6" stroke-width="0.5"/>
<rect x="714.7" y="214.4" width="4.6" height="3.2" fill="#7b6b63" />
<rect x="714.7" y="217.5" width="4.6" height="3.7" fill="#d7d7da" stroke="#a99ed6" stroke-width="0.5"/>
<rect x="684.3" y="242.2" width="8.2" height="18.6" fill="#d7d7da" stroke="#a99ed6" stroke-width="0.5"/>
<rect x="686.0" y="246.0" width="4.8" height="10.0" fill="#7b6b63" />
<circle cx="687.8" cy="237.5" r="2.9" fill="none" stroke="#fff" stroke-width="1.9"/>
<circle cx="687.4" cy="266.0" r="2.9" fill="none" stroke="#fff" stroke-width="1.9"/>
<circle cx="693.2" cy="270.9" r="5.0" fill="#fff"/><circle cx="693.2" cy="270.9" r="3.8" fill="#2b8a2b"/>
<rect x="700.2" y="244.5" width="21.0" height="10.5" fill="#7b6b63" />
<rect x="702.0" y="236.8" width="3.6" height="8.4" fill="#d7d7da" stroke="#a99ed6" stroke-width="0.5"/>
<rect x="702.0" y="254.5" width="3.6" height="9.8" fill="#d7d7da" stroke="#a99ed6" stroke-width="0.5"/>
<rect x="709.5" y="236.8" width="3.6" height="8.4" fill="#d7d7da" stroke="#a99ed6" stroke-width="0.5"/>
<rect x="709.5" y="254.5" width="3.6" height="9.8" fill="#d7d7da" stroke="#a99ed6" stroke-width="0.5"/>
<rect x="717.0" y="236.8" width="3.6" height="8.4" fill="#d7d7da" stroke="#a99ed6" stroke-width="0.5"/>
<rect x="717.0" y="254.5" width="3.6" height="9.8" fill="#d7d7da" stroke="#a99ed6" stroke-width="0.5"/>
<circle cx="724.5" cy="239.1" r="2.9" fill="none" stroke="#fff" stroke-width="1.9"/>
<rect x="729.8" y="236.8" width="4.7" height="3.7" fill="#d7d7da" stroke="#a99ed6" stroke-width="0.5"/>
<rect x="729.8" y="240.5" width="4.7" height="3.2" fill="#7b6b63" />
<rect x="729.8" y="243.8" width="4.7" height="3.7" fill="#d7d7da" stroke="#a99ed6" stroke-width="0.5"/>
<rect x="699.5" y="283.0" width="4.7" height="3.7" fill="#d7d7da" stroke="#a99ed6" stroke-width="0.5"/>
<rect x="699.5" y="286.7" width="4.7" height="3.2" fill="#7b6b63" />
<rect x="699.5" y="289.8" width="4.7" height="3.7" fill="#d7d7da" stroke="#a99ed6" stroke-width="0.5"/>
<circle cx="701.8" cy="298.2" r="2.9" fill="none" stroke="#fff" stroke-width="1.9"/>
<rect x="718.9" y="283.0" width="4.6" height="3.7" fill="#d7d7da" stroke="#a99ed6" stroke-width="0.5"/>
<rect x="718.9" y="286.7" width="4.6" height="3.2" fill="#7b6b63" />
<rect x="718.9" y="289.8" width="4.6" height="3.7" fill="#d7d7da" stroke="#a99ed6" stroke-width="0.5"/>
<circle cx="721.0" cy="298.2" r="2.9" fill="none" stroke="#fff" stroke-width="1.9"/>
<circle cx="633.0" cy="290.5" r="2.9" fill="none" stroke="#fff" stroke-width="1.9"/>
<circle cx="629.5" cy="294.7" r="2.9" fill="none" stroke="#fff" stroke-width="1.9"/>
<circle cx="626.0" cy="298.9" r="2.9" fill="none" stroke="#fff" stroke-width="1.9"/>
<circle cx="622.5" cy="302.8" r="2.9" fill="none" stroke="#fff" stroke-width="1.9"/>
<circle cx="620.2" cy="306.3" r="2.9" fill="none" stroke="#fff" stroke-width="1.9"/>
<circle cx="631.8" cy="277.2" r="2.9" fill="none" stroke="#fff" stroke-width="1.9"/>
<circle cx="645.8" cy="313.3" r="2.9" fill="none" stroke="#fff" stroke-width="1.9"/>
<circle cx="654.0" cy="313.3" r="2.9" fill="none" stroke="#fff" stroke-width="1.9"/>
<circle cx="662.2" cy="313.3" r="2.9" fill="none" stroke="#fff" stroke-width="1.9"/>
<circle cx="669.9" cy="313.3" r="2.9" fill="none" stroke="#fff" stroke-width="1.9"/>
<circle cx="642.3" cy="319.2" r="2.9" fill="none" stroke="#fff" stroke-width="1.9"/>
<circle cx="649.3" cy="319.2" r="2.9" fill="none" stroke="#fff" stroke-width="1.9"/>
<circle cx="657.5" cy="319.2" r="2.9" fill="none" stroke="#fff" stroke-width="1.9"/>
<circle cx="665.7" cy="319.2" r="2.9" fill="none" stroke="#fff" stroke-width="1.9"/>
<circle cx="702.5" cy="317.5" r="2.9" fill="none" stroke="#fff" stroke-width="1.9"/>
<circle cx="738.5" cy="316.8" r="2.9" fill="none" stroke="#fff" stroke-width="1.9"/>
<circle cx="752.0" cy="322.7" r="2.9" fill="none" stroke="#fff" stroke-width="1.9"/>
<circle cx="757.8" cy="328.5" r="2.9" fill="none" stroke="#fff" stroke-width="1.9"/>
<circle cx="636.5" cy="323.8" r="5.0" fill="#fff"/><circle cx="636.5" cy="323.8" r="3.8" fill="#2b8a2b"/>
<circle cx="657.5" cy="326.2" r="4.6" fill="#fff"/><circle cx="657.5" cy="326.2" r="3.4" fill="#2b8a2b"/>
<rect x="619.6" y="325.0" width="1.5" height="7.0" fill="#d7d7da" stroke="#a99ed6" stroke-width="0.5"/>
<rect x="622.4" y="325.0" width="1.5" height="7.0" fill="#d7d7da" stroke="#a99ed6" stroke-width="0.5"/>
<rect x="625.2" y="325.0" width="1.5" height="7.0" fill="#d7d7da" stroke="#a99ed6" stroke-width="0.5"/>
<rect x="628.0" y="325.0" width="1.5" height="7.0" fill="#d7d7da" stroke="#a99ed6" stroke-width="0.5"/>
<rect x="630.8" y="325.0" width="1.5" height="7.0" fill="#d7d7da" stroke="#a99ed6" stroke-width="0.5"/>
<rect x="642.0" y="325.0" width="2.0" height="7.0" fill="#d7d7da" stroke="#a99ed6" stroke-width="0.5"/>
<rect x="645.6" y="325.0" width="2.0" height="7.0" fill="#d7d7da" stroke="#a99ed6" stroke-width="0.5"/>
<rect x="649.3" y="325.0" width="2.0" height="7.0" fill="#d7d7da" stroke="#a99ed6" stroke-width="0.5"/>
<rect x="652.9" y="325.0" width="2.0" height="7.0" fill="#d7d7da" stroke="#a99ed6" stroke-width="0.5"/>
<rect x="656.5" y="325.0" width="2.0" height="7.0" fill="#d7d7da" stroke="#a99ed6" stroke-width="0.5"/>
<rect x="660.1" y="325.0" width="2.0" height="7.0" fill="#d7d7da" stroke="#a99ed6" stroke-width="0.5"/>
<rect x="663.8" y="325.0" width="2.0" height="7.0" fill="#d7d7da" stroke="#a99ed6" stroke-width="0.5"/>
<rect x="667.4" y="325.0" width="2.0" height="7.0" fill="#d7d7da" stroke="#a99ed6" stroke-width="0.5"/>
<rect x="685.5" y="315.7" width="5.4" height="24.0" fill="#7b6b63" />
<rect x="679.2" y="316.8" width="6.3" height="2.6" fill="#d7d7da" stroke="#a99ed6" stroke-width="0.5"/>
<rect x="679.2" y="321.6" width="6.3" height="2.6" fill="#d7d7da" stroke="#a99ed6" stroke-width="0.5"/>
<rect x="679.2" y="326.4" width="6.3" height="2.6" fill="#d7d7da" stroke="#a99ed6" stroke-width="0.5"/>
<rect x="679.2" y="331.2" width="6.3" height="2.6" fill="#d7d7da" stroke="#a99ed6" stroke-width="0.5"/>
<rect x="679.2" y="336.0" width="6.3" height="2.6" fill="#d7d7da" stroke="#a99ed6" stroke-width="0.5"/>
<rect x="690.9" y="316.8" width="6.3" height="2.6" fill="#d7d7da" stroke="#a99ed6" stroke-width="0.5"/>
<rect x="690.9" y="321.6" width="6.3" height="2.6" fill="#d7d7da" stroke="#a99ed6" stroke-width="0.5"/>
<rect x="690.9" y="326.4" width="6.3" height="2.6" fill="#d7d7da" stroke="#a99ed6" stroke-width="0.5"/>
<rect x="690.9" y="331.2" width="6.3" height="2.6" fill="#d7d7da" stroke="#a99ed6" stroke-width="0.5"/>
<rect x="690.9" y="336.0" width="6.3" height="2.6" fill="#d7d7da" stroke="#a99ed6" stroke-width="0.5"/>
<rect x="722.1" y="315.7" width="5.4" height="24.0" fill="#7b6b63" />
<rect x="715.8" y="316.8" width="6.3" height="2.6" fill="#d7d7da" stroke="#a99ed6" stroke-width="0.5"/>
<rect x="715.8" y="321.6" width="6.3" height="2.6" fill="#d7d7da" stroke="#a99ed6" stroke-width="0.5"/>
<rect x="715.8" y="326.4" width="6.3" height="2.6" fill="#d7d7da" stroke="#a99ed6" stroke-width="0.5"/>
<rect x="715.8" y="331.2" width="6.3" height="2.6" fill="#d7d7da" stroke="#a99ed6" stroke-width="0.5"/>
<rect x="715.8" y="336.0" width="6.3" height="2.6" fill="#d7d7da" stroke="#a99ed6" stroke-width="0.5"/>
<rect x="727.5" y="316.8" width="6.3" height="2.6" fill="#d7d7da" stroke="#a99ed6" stroke-width="0.5"/>
<rect x="727.5" y="321.6" width="6.3" height="2.6" fill="#d7d7da" stroke="#a99ed6" stroke-width="0.5"/>
<rect x="727.5" y="326.4" width="6.3" height="2.6" fill="#d7d7da" stroke="#a99ed6" stroke-width="0.5"/>
<rect x="727.5" y="331.2" width="6.3" height="2.6" fill="#d7d7da" stroke="#a99ed6" stroke-width="0.5"/>
<rect x="727.5" y="336.0" width="6.3" height="2.6" fill="#d7d7da" stroke="#a99ed6" stroke-width="0.5"/>
<rect x="764.8" y="295.8" width="21.7" height="10.5" fill="#7b6b63" />
<rect x="771.8" y="288.8" width="7.7" height="10.5" fill="#d7d7da" stroke="#a99ed6" stroke-width="0.5"/>
<rect x="764.8" y="304.0" width="8.2" height="10.5" fill="#d7d7da" stroke="#a99ed6" stroke-width="0.5"/>
<rect x="778.4" y="304.0" width="8.1" height="10.5" fill="#d7d7da" stroke="#a99ed6" stroke-width="0.5"/>
<circle cx="770.7" cy="319.9" r="5.0" fill="#fff"/><circle cx="770.7" cy="319.9" r="3.8" fill="#2b8a2b"/>
<circle cx="780.0" cy="319.9" r="5.0" fill="#fff"/><circle cx="780.0" cy="319.9" r="3.8" fill="#2b8a2b"/>
<circle cx="790.5" cy="323.8" r="5.0" fill="#fff"/><circle cx="790.5" cy="323.8" r="3.8" fill="#2b8a2b"/>
<rect x="817.3" y="206.0" width="11.7" height="12.8" fill="#d7d7da" stroke="#a99ed6" stroke-width="0.5"/>
<rect x="824.0" y="230.5" width="5.0" height="7.0" fill="#d7d7da" stroke="#a99ed6" stroke-width="0.5"/>
<rect x="824.0" y="244.5" width="5.0" height="7.0" fill="#d7d7da" stroke="#a99ed6" stroke-width="0.5"/>
<polygon points="856.8,187.3 893.0,187.3 893.0,203.7 862.0,203.7 856.8,198.5" fill="#7b6b63" />
<circle cx="872.0" cy="197.0" r="3.2" fill="#5e7856" stroke="#8a8a8a" stroke-width="0.7"/>
<circle cx="886.0" cy="188.5" r="4.8" fill="#fff"/><circle cx="886.0" cy="188.5" r="3.6" fill="#2b8a2b"/>
<rect x="904.2" y="185.0" width="16.8" height="5.0" fill="#d7d7da" stroke="#a99ed6" stroke-width="0.5"/>
<rect x="934.5" y="185.0" width="16.8" height="5.0" fill="#d7d7da" stroke="#a99ed6" stroke-width="0.5"/>
<rect x="911.7" y="189.7" width="32.6" height="7.0" fill="#7b6b63" />
<circle cx="929.2" cy="192.0" r="3.4" fill="#5e7856" stroke="#8a8a8a" stroke-width="0.7"/>
<path d="M893 189 Q895 207 905 210 Q915 212 920 204" fill="none" stroke="#fff" stroke-width="1.5"/>
<circle cx="923.8" cy="201.3" r="4.6" fill="#b8786a" stroke="#fff" stroke-width="1.5"/>
<circle cx="923.8" cy="201.3" r="2.0" fill="#2b8a2b" />
<rect x="901.2" y="208.3" width="8.1" height="5.7" fill="#d7d7da" stroke="#a99ed6" stroke-width="0.5"/>
<rect x="901.2" y="214.0" width="8.1" height="3.8" fill="#7b6b63" />
<rect x="901.2" y="217.8" width="8.1" height="5.7" fill="#d7d7da" stroke="#a99ed6" stroke-width="0.5"/>
<rect x="915.9" y="208.3" width="7.4" height="5.7" fill="#d7d7da" stroke="#a99ed6" stroke-width="0.5"/>
<rect x="915.9" y="214.0" width="7.4" height="3.8" fill="#7b6b63" />
<rect x="915.9" y="217.8" width="7.4" height="5.7" fill="#d7d7da" stroke="#a99ed6" stroke-width="0.5"/>
<rect x="977.5" y="193.2" width="13.5" height="14.0" fill="#2b8a2b" stroke="#fff" stroke-width="1"/>
<circle cx="984.0" cy="200.2" r="3.5" fill="#d7d7da" />
<circle cx="970.0" cy="199.5" r="4.8" fill="#fff"/><circle cx="970.0" cy="199.5" r="3.6" fill="#2b8a2b"/>
<circle cx="837.5" cy="196.7" r="2.9" fill="none" stroke="#fff" stroke-width="1.9"/>
<rect x="842.8" y="194.3" width="3.7" height="4.7" fill="#d7d7da" stroke="#a99ed6" stroke-width="0.5"/>
<rect x="846.5" y="194.3" width="3.2" height="4.7" fill="#7b6b63" />
<rect x="849.6" y="194.3" width="3.7" height="4.7" fill="#d7d7da" stroke="#a99ed6" stroke-width="0.5"/>
<rect x="823.0" y="206.5" width="6.0" height="12.3" fill="#d7d7da" stroke="#a99ed6" stroke-width="0.5"/>
<rect x="829.0" y="206.5" width="8.0" height="12.3" fill="#7b6b63" />
<rect x="837.0" y="206.5" width="12.1" height="12.3" fill="#d7d7da" stroke="#a99ed6" stroke-width="0.5"/>
<rect x="861.0" y="207.2" width="4.3" height="15.1" fill="#d7d7da" stroke="#a99ed6" stroke-width="0.5"/>
<rect x="868.8" y="207.2" width="4.3" height="15.1" fill="#d7d7da" stroke="#a99ed6" stroke-width="0.5"/>
<rect x="876.7" y="207.2" width="4.3" height="15.1" fill="#d7d7da" stroke="#a99ed6" stroke-width="0.5"/>
<rect x="884.6" y="207.2" width="4.3" height="15.1" fill="#d7d7da" stroke="#a99ed6" stroke-width="0.5"/>
<circle cx="849.8" cy="228.9" r="5.0" fill="#fff"/><circle cx="849.8" cy="228.9" r="3.8" fill="#2b8a2b"/>
<circle cx="841.7" cy="228.2" r="2.9" fill="none" stroke="#fff" stroke-width="1.9"/>
<rect x="823.0" y="230.5" width="5.7" height="7.0" fill="#d7d7da" stroke="#a99ed6" stroke-width="0.5"/>
<rect x="828.7" y="230.5" width="4.9" height="7.0" fill="#7b6b63" />
<rect x="833.6" y="230.5" width="5.7" height="7.0" fill="#d7d7da" stroke="#a99ed6" stroke-width="0.5"/>
<rect x="823.0" y="243.8" width="5.7" height="7.0" fill="#d7d7da" stroke="#a99ed6" stroke-width="0.5"/>
<rect x="828.7" y="243.8" width="4.9" height="7.0" fill="#7b6b63" />
<rect x="833.6" y="243.8" width="5.7" height="7.0" fill="#d7d7da" stroke="#a99ed6" stroke-width="0.5"/>
<polygon points="866.2,229.8 880.2,229.8 880.2,247.0 876.0,251.5 866.2,251.5" fill="#7b6b63" stroke="#9a8fcf" stroke-width="0.5"/>
<rect x="852.2" y="231.0" width="11.6" height="3.0" fill="#d7d7da" stroke="#a99ed6" stroke-width="0.5"/>
<rect x="852.2" y="236.4" width="11.6" height="3.0" fill="#d7d7da" stroke="#a99ed6" stroke-width="0.5"/>
<rect x="852.2" y="241.9" width="11.6" height="3.0" fill="#d7d7da" stroke="#a99ed6" stroke-width="0.5"/>
<rect x="852.2" y="247.3" width="11.6" height="3.0" fill="#d7d7da" stroke="#a99ed6" stroke-width="0.5"/>
<rect x="883.2" y="231.0" width="11.0" height="3.0" fill="#d7d7da" stroke="#a99ed6" stroke-width="0.5"/>
<rect x="883.2" y="236.4" width="11.0" height="3.0" fill="#d7d7da" stroke="#a99ed6" stroke-width="0.5"/>
<rect x="883.2" y="241.9" width="11.0" height="3.0" fill="#d7d7da" stroke="#a99ed6" stroke-width="0.5"/>
<rect x="883.2" y="247.3" width="11.0" height="3.0" fill="#d7d7da" stroke="#a99ed6" stroke-width="0.5"/>
<circle cx="846.3" cy="249.9" r="2.9" fill="none" stroke="#fff" stroke-width="1.9"/>
<circle cx="853.8" cy="252.7" r="5.0" fill="#fff"/><circle cx="853.8" cy="252.7" r="3.8" fill="#2b8a2b"/>
<rect x="902.3" y="236.8" width="7.0" height="5.8" fill="#d7d7da" stroke="#a99ed6" stroke-width="0.5"/>
<rect x="902.3" y="242.6" width="7.0" height="3.8" fill="#7b6b63" />
<rect x="902.3" y="246.4" width="7.0" height="5.8" fill="#d7d7da" stroke="#a99ed6" stroke-width="0.5"/>
<rect x="915.9" y="236.8" width="7.4" height="5.8" fill="#d7d7da" stroke="#a99ed6" stroke-width="0.5"/>
<rect x="915.9" y="242.6" width="7.4" height="3.8" fill="#7b6b63" />
<rect x="915.9" y="246.4" width="7.4" height="5.8" fill="#d7d7da" stroke="#a99ed6" stroke-width="0.5"/>
<rect x="853.8" y="258.5" width="9.2" height="10.5" fill="#d7d7da" stroke="#a99ed6" stroke-width="0.5"/>
<rect x="863.0" y="258.5" width="4.6" height="10.5" fill="#7b6b63" />
<rect x="867.5" y="258.5" width="9.2" height="10.5" fill="#d7d7da" stroke="#a99ed6" stroke-width="0.5"/>
<rect x="818" y="260.6" width="34.5" height="10.8" rx="5.4" fill="none" stroke="#fff" stroke-width="1.5"/>
<circle cx="846.3" cy="277.2" r="5.0" fill="#fff"/><circle cx="846.3" cy="277.2" r="3.8" fill="#2b8a2b"/>
<circle cx="922.9" cy="233.5" r="4.8" fill="#fff"/><circle cx="922.9" cy="233.5" r="3.6" fill="#2b8a2b"/>
<circle cx="944.8" cy="224.7" r="5.0" fill="#fff"/><circle cx="944.8" cy="224.7" r="3.8" fill="#2b8a2b"/>
<polyline points="922.9,233.5 929.0,237.0 931.5,241.0" fill="none" stroke="#fff" stroke-width="3.5" stroke-linejoin="round" stroke-linecap="round"/>
<polyline points="922.9,233.5 929.0,237.0 931.5,241.0" fill="none" stroke="#c0836a" stroke-width="1.3" stroke-linejoin="round" stroke-linecap="round"/>
<polyline points="944.8,224.7 944.8,241.0" fill="none" stroke="#fff" stroke-width="3.5" stroke-linejoin="round" stroke-linecap="round"/>
<polyline points="944.8,224.7 944.8,241.0" fill="none" stroke="#c0836a" stroke-width="1.3" stroke-linejoin="round" stroke-linecap="round"/>
<rect x="929.2" y="240.5" width="4.6" height="11.0" fill="#2b8a2b" stroke="#fff" stroke-width="1"/>
<rect x="942.5" y="240.5" width="5.3" height="11.0" fill="#2b8a2b" stroke="#fff" stroke-width="1"/>
<circle cx="931.5" cy="258.5" r="5.0" fill="#fff"/><circle cx="931.5" cy="258.5" r="3.8" fill="#2b8a2b"/>
<circle cx="944.8" cy="258.5" r="5.0" fill="#fff"/><circle cx="944.8" cy="258.5" r="3.8" fill="#2b8a2b"/>
<rect x="952.5" y="217.7" width="79.5" height="265.6" fill="#7b6b63" stroke="#9a8fcf" stroke-width="0.6"/>
<circle cx="958.8" cy="224.7" r="3.7" fill="#5e7856" stroke="#8a8a8a" stroke-width="0.8"/>
<circle cx="972.3" cy="224.7" r="3.7" fill="#5e7856" stroke="#8a8a8a" stroke-width="0.8"/>
<circle cx="958.8" cy="258.5" r="3.7" fill="#5e7856" stroke="#8a8a8a" stroke-width="0.8"/>
<circle cx="972.3" cy="258.5" r="3.7" fill="#5e7856" stroke="#8a8a8a" stroke-width="0.8"/>
<circle cx="1026.5" cy="234.0" r="3.7" fill="#5e7856" stroke="#8a8a8a" stroke-width="0.8"/>
<circle cx="1026.5" cy="247.5" r="3.7" fill="#5e7856" stroke="#8a8a8a" stroke-width="0.8"/>
<circle cx="1026.5" cy="260.8" r="3.7" fill="#5e7856" stroke="#8a8a8a" stroke-width="0.8"/>
<circle cx="1026.5" cy="287.7" r="3.7" fill="#5e7856" stroke="#8a8a8a" stroke-width="0.8"/>
<circle cx="1026.5" cy="301.2" r="3.7" fill="#5e7856" stroke="#8a8a8a" stroke-width="0.8"/>
<circle cx="1026.5" cy="314.5" r="3.7" fill="#5e7856" stroke="#8a8a8a" stroke-width="0.8"/>
<circle cx="1026.5" cy="327.3" r="3.7" fill="#5e7856" stroke="#8a8a8a" stroke-width="0.8"/>
<circle cx="1013.9" cy="318.0" r="3.7" fill="#5e7856" stroke="#8a8a8a" stroke-width="0.8"/>
<circle cx="1026.5" cy="342.8" r="3.7" fill="#5e7856" stroke="#8a8a8a" stroke-width="0.8"/>
<circle cx="1026.5" cy="355.6" r="3.7" fill="#5e7856" stroke="#8a8a8a" stroke-width="0.8"/>
<circle cx="1026.5" cy="369.7" r="3.7" fill="#5e7856" stroke="#8a8a8a" stroke-width="0.8"/>
<circle cx="1026.5" cy="382.7" r="3.7" fill="#5e7856" stroke="#8a8a8a" stroke-width="0.8"/>
<circle cx="1026.5" cy="396.0" r="3.7" fill="#5e7856" stroke="#8a8a8a" stroke-width="0.8"/>
<circle cx="1026.5" cy="409.8" r="3.7" fill="#5e7856" stroke="#8a8a8a" stroke-width="0.8"/>
<circle cx="1028.0" cy="429.2" r="3.7" fill="#5e7856" stroke="#8a8a8a" stroke-width="0.8"/>
<circle cx="989.8" cy="380.1" r="3.7" fill="#5e7856" stroke="#8a8a8a" stroke-width="0.8"/>
<circle cx="1026.5" cy="478.7" r="3.7" fill="#5e7856" stroke="#8a8a8a" stroke-width="0.8"/>
<rect x="956.0" y="240.5" width="5.5" height="5.0" fill="#5e7856" stroke="#8a8a8a" stroke-width="0.8"/>
<rect x="956.0" y="246.0" width="5.5" height="5.0" fill="#5e7856" stroke="#8a8a8a" stroke-width="0.8"/>
<rect x="969.2" y="240.5" width="5.5" height="5.0" fill="#5e7856" stroke="#8a8a8a" stroke-width="0.8"/>
<rect x="969.2" y="246.0" width="5.5" height="5.0" fill="#5e7856" stroke="#8a8a8a" stroke-width="0.8"/>
<rect x="986.3" y="250.0" width="5.5" height="5.0" fill="#5e7856" stroke="#8a8a8a" stroke-width="0.8"/>
<rect x="986.3" y="255.5" width="5.5" height="5.0" fill="#5e7856" stroke="#8a8a8a" stroke-width="0.8"/>
<rect x="1006.2" y="270.5" width="5.4" height="5.4" fill="#5e7856" stroke="#8a8a8a" stroke-width="0.8"/>
<rect x="1012.2" y="270.5" width="5.4" height="5.4" fill="#5e7856" stroke="#8a8a8a" stroke-width="0.8"/>
<rect x="1006.2" y="294.5" width="5.4" height="5.4" fill="#5e7856" stroke="#8a8a8a" stroke-width="0.8"/>
<rect x="1012.2" y="294.5" width="5.4" height="5.4" fill="#5e7856" stroke="#8a8a8a" stroke-width="0.8"/>
<rect x="1006.0" y="333.0" width="5.0" height="5.8" fill="#5e7856" stroke="#8a8a8a" stroke-width="0.8"/>
<rect x="1012.8" y="333.0" width="5.0" height="5.8" fill="#5e7856" stroke="#8a8a8a" stroke-width="0.8"/>
<rect x="987.5" y="367.5" width="5.0" height="5.6" fill="#5e7856" stroke="#8a8a8a" stroke-width="0.8"/>
<rect x="994.2" y="367.5" width="5.0" height="5.6" fill="#5e7856" stroke="#8a8a8a" stroke-width="0.8"/>
<rect x="966.5" y="382.0" width="5.0" height="5.8" fill="#5e7856" stroke="#8a8a8a" stroke-width="0.8"/>
<rect x="973.2" y="382.0" width="5.0" height="5.8" fill="#5e7856" stroke="#8a8a8a" stroke-width="0.8"/>
<rect x="954.8" y="467.0" width="15.2" height="14.0" fill="#5e7856" stroke="#8a8a8a" stroke-width="0.8"/>
<polygon points="997.0,302.0 1008.0,298.0 1013.0,302.0 1013.0,328.0 1008.0,340.0 997.0,340.0" fill="#969696" />
<polygon points="953.0,262.0 962.0,262.0 968.0,270.0 968.0,300.0 958.0,305.0 953.0,300.0" fill="#8f8f8f" />
<polyline points="984.0,280.0 975.0,280.0 970.0,275.0 966.0,274.0" fill="none" stroke="#a2a2a2" stroke-width="1.5" stroke-linejoin="round" stroke-linecap="round"/>
<circle cx="966.0" cy="274.5" r="2.3" fill="none" stroke="#8e8e8e" stroke-width="1.2"/>
<polyline points="984.0,286.5 975.0,286.5 970.0,281.5 962.0,281.5" fill="none" stroke="#a2a2a2" stroke-width="1.5" stroke-linejoin="round" stroke-linecap="round"/>
<circle cx="962.0" cy="281.0" r="2.3" fill="none" stroke="#8e8e8e" stroke-width="1.2"/>
<polyline points="984.0,293.0 975.0,293.0 970.0,288.0 966.0,287.0" fill="none" stroke="#a2a2a2" stroke-width="1.5" stroke-linejoin="round" stroke-linecap="round"/>
<circle cx="966.0" cy="287.5" r="2.3" fill="none" stroke="#8e8e8e" stroke-width="1.2"/>
<polyline points="984.0,299.5 975.0,299.5 970.0,294.5 962.0,294.5" fill="none" stroke="#a2a2a2" stroke-width="1.5" stroke-linejoin="round" stroke-linecap="round"/>
<circle cx="962.0" cy="294.0" r="2.3" fill="none" stroke="#8e8e8e" stroke-width="1.2"/>
<polyline points="984.0,306.0 975.0,306.0 970.0,301.0 966.0,300.0" fill="none" stroke="#a2a2a2" stroke-width="1.5" stroke-linejoin="round" stroke-linecap="round"/>
<circle cx="966.0" cy="300.5" r="2.3" fill="none" stroke="#8e8e8e" stroke-width="1.2"/>
<polyline points="984.0,312.5 975.0,312.5 970.0,307.5 962.0,307.5" fill="none" stroke="#a2a2a2" stroke-width="1.5" stroke-linejoin="round" stroke-linecap="round"/>
<circle cx="962.0" cy="307.0" r="2.3" fill="none" stroke="#8e8e8e" stroke-width="1.2"/>
<polyline points="984.0,319.0 975.0,319.0 970.0,314.0 966.0,313.0" fill="none" stroke="#a2a2a2" stroke-width="1.5" stroke-linejoin="round" stroke-linecap="round"/>
<circle cx="966.0" cy="313.5" r="2.3" fill="none" stroke="#8e8e8e" stroke-width="1.2"/>
<polyline points="984.0,325.5 975.0,325.5 970.0,320.5 962.0,320.5" fill="none" stroke="#a2a2a2" stroke-width="1.5" stroke-linejoin="round" stroke-linecap="round"/>
<circle cx="962.0" cy="320.0" r="2.3" fill="none" stroke="#8e8e8e" stroke-width="1.2"/>
<polyline points="984.0,332.0 975.0,332.0 970.0,327.0 966.0,326.0" fill="none" stroke="#a2a2a2" stroke-width="1.5" stroke-linejoin="round" stroke-linecap="round"/>
<circle cx="966.0" cy="326.5" r="2.3" fill="none" stroke="#8e8e8e" stroke-width="1.2"/>
<polyline points="997.0,278.0 1006.0,278.0 1010.0,281.0 1024.0,281.0" fill="none" stroke="#a2a2a2" stroke-width="1.5" stroke-linejoin="round" stroke-linecap="round"/>
<polyline points="997.0,286.0 1006.0,286.0 1010.0,289.0 1024.0,289.0" fill="none" stroke="#a2a2a2" stroke-width="1.5" stroke-linejoin="round" stroke-linecap="round"/>
<polyline points="997.0,294.0 1006.0,294.0 1010.0,297.0 1024.0,297.0" fill="none" stroke="#a2a2a2" stroke-width="1.5" stroke-linejoin="round" stroke-linecap="round"/>
<polyline points="997.0,302.0 1006.0,302.0 1010.0,305.0 1024.0,305.0" fill="none" stroke="#a2a2a2" stroke-width="1.5" stroke-linejoin="round" stroke-linecap="round"/>
<polyline points="997.0,310.0 1006.0,310.0 1010.0,313.0 1024.0,313.0" fill="none" stroke="#a2a2a2" stroke-width="1.5" stroke-linejoin="round" stroke-linecap="round"/>
<polyline points="997.0,318.0 1006.0,318.0 1010.0,321.0 1024.0,321.0" fill="none" stroke="#a2a2a2" stroke-width="1.5" stroke-linejoin="round" stroke-linecap="round"/>
<polyline points="997.0,326.0 1006.0,326.0 1010.0,329.0 1024.0,329.0" fill="none" stroke="#a2a2a2" stroke-width="1.5" stroke-linejoin="round" stroke-linecap="round"/>
<polyline points="997.0,334.0 1006.0,334.0 1010.0,337.0 1024.0,337.0" fill="none" stroke="#a2a2a2" stroke-width="1.5" stroke-linejoin="round" stroke-linecap="round"/>
<polyline points="997.0,342.0 1006.0,342.0 1010.0,345.0 1024.0,345.0" fill="none" stroke="#a2a2a2" stroke-width="1.5" stroke-linejoin="round" stroke-linecap="round"/>
<polyline points="997.0,350.0 1006.0,350.0 1010.0,353.0 1024.0,353.0" fill="none" stroke="#a2a2a2" stroke-width="1.5" stroke-linejoin="round" stroke-linecap="round"/>
<polyline points="1000.0,372.0 1010.0,372.0 1022.0,379.0" fill="none" stroke="#a2a2a2" stroke-width="1.3" stroke-linejoin="round" stroke-linecap="round"/>
<circle cx="1020.0" cy="380.0" r="2.5" fill="none" stroke="#8e8e8e" stroke-width="1.2"/>
<polyline points="958.6,224.3 958.6,257.6" fill="none" stroke="#a2a2a2" stroke-width="1.4" stroke-linejoin="round" stroke-linecap="round"/>
<polyline points="971.9,224.3 971.9,257.6" fill="none" stroke="#a2a2a2" stroke-width="1.4" stroke-linejoin="round" stroke-linecap="round"/>
<polyline points="971.9,257.6 986.0,257.6" fill="none" stroke="#a2a2a2" stroke-width="1.4" stroke-linejoin="round" stroke-linecap="round"/>
<polyline points="958.6,262.0 958.6,300.0 955.0,305.0 955.0,330.0" fill="none" stroke="#a2a2a2" stroke-width="1.5" stroke-linejoin="round" stroke-linecap="round"/>
<polyline points="971.9,262.0 966.0,270.0 966.0,310.0 975.0,318.0" fill="none" stroke="#a2a2a2" stroke-width="1.5" stroke-linejoin="round" stroke-linecap="round"/>
<rect x="984.1" y="273.6" width="13.0" height="85.6" fill="#5e7a56" />
<rect x="984.1" y="274.5" width="13.0" height="0.7" fill="#7c9a74" />
<rect x="984.1" y="276.5" width="13.0" height="0.7" fill="#7c9a74" />
<rect x="984.1" y="278.6" width="13.0" height="0.7" fill="#7c9a74" />
<rect x="984.1" y="280.6" width="13.0" height="0.7" fill="#7c9a74" />
<rect x="984.1" y="282.6" width="13.0" height="0.7" fill="#7c9a74" />
<rect x="984.1" y="284.6" width="13.0" height="0.7" fill="#7c9a74" />
<rect x="984.1" y="286.7" width="13.0" height="0.7" fill="#7c9a74" />
<rect x="984.1" y="288.7" width="13.0" height="0.7" fill="#7c9a74" />
<rect x="984.1" y="290.7" width="13.0" height="0.7" fill="#7c9a74" />
<rect x="984.1" y="292.8" width="13.0" height="0.7" fill="#7c9a74" />
<rect x="984.1" y="294.8" width="13.0" height="0.7" fill="#7c9a74" />
<rect x="984.1" y="296.8" width="13.0" height="0.7" fill="#7c9a74" />
<rect x="984.1" y="298.9" width="13.0" height="0.7" fill="#7c9a74" />
<rect x="984.1" y="300.9" width="13.0" height="0.7" fill="#7c9a74" />
<rect x="984.1" y="302.9" width="13.0" height="0.7" fill="#7c9a74" />
<rect x="984.1" y="304.9" width="13.0" height="0.7" fill="#7c9a74" />
<rect x="984.1" y="307.0" width="13.0" height="0.7" fill="#7c9a74" />
<rect x="984.1" y="309.0" width="13.0" height="0.7" fill="#7c9a74" />
<rect x="984.1" y="311.0" width="13.0" height="0.7" fill="#7c9a74" />
<rect x="984.1" y="313.1" width="13.0" height="0.7" fill="#7c9a74" />
<rect x="984.1" y="315.1" width="13.0" height="0.7" fill="#7c9a74" />
<rect x="984.1" y="317.1" width="13.0" height="0.7" fill="#7c9a74" />
<rect x="984.1" y="319.2" width="13.0" height="0.7" fill="#7c9a74" />
<rect x="984.1" y="321.2" width="13.0" height="0.7" fill="#7c9a74" />
<rect x="984.1" y="323.2" width="13.0" height="0.7" fill="#7c9a74" />
<rect x="984.1" y="325.2" width="13.0" height="0.7" fill="#7c9a74" />
<rect x="984.1" y="327.3" width="13.0" height="0.7" fill="#7c9a74" />
<rect x="984.1" y="329.3" width="13.0" height="0.7" fill="#7c9a74" />
<rect x="984.1" y="331.3" width="13.0" height="0.7" fill="#7c9a74" />
<rect x="984.1" y="333.4" width="13.0" height="0.7" fill="#7c9a74" />
<rect x="984.1" y="335.4" width="13.0" height="0.7" fill="#7c9a74" />
<rect x="984.1" y="337.4" width="13.0" height="0.7" fill="#7c9a74" />
<rect x="984.1" y="339.5" width="13.0" height="0.7" fill="#7c9a74" />
<rect x="984.1" y="341.5" width="13.0" height="0.7" fill="#7c9a74" />
<rect x="984.1" y="343.5" width="13.0" height="0.7" fill="#7c9a74" />
<rect x="984.1" y="345.6" width="13.0" height="0.7" fill="#7c9a74" />
<rect x="984.1" y="347.6" width="13.0" height="0.7" fill="#7c9a74" />
<rect x="984.1" y="349.6" width="13.0" height="0.7" fill="#7c9a74" />
<rect x="984.1" y="351.6" width="13.0" height="0.7" fill="#7c9a74" />
<rect x="984.1" y="353.7" width="13.0" height="0.7" fill="#7c9a74" />
<rect x="984.1" y="355.7" width="13.0" height="0.7" fill="#7c9a74" />
<rect x="984.1" y="357.7" width="13.0" height="0.7" fill="#7c9a74" />
<path d="M1002.44,340.80 C1001.40,335.60 998.28,333.00 994.38,333.00 C988.92,333.00 985.80,338.20 985.80,346.00 C985.80,353.80 988.92,359.00 994.38,359.00 C998.28,359.00 1001.40,356.40 1002.44,351.20 M1006.86,338.72 L1017.78,333.00 V359.00 " fill="none" stroke="#6c6360" stroke-width="1.2" stroke-linecap="round" stroke-linejoin="round"/>
<rect x="929.5" y="268.0" width="4.0" height="94.0" fill="#fff" />
<rect x="945.5" y="268.0" width="6.5" height="94.0" fill="#fff" />
<polyline points="933.0,279.0 928.0,279.0 924.0,275.0 924.0,268.0" fill="none" stroke="#fff" stroke-width="4.3" stroke-linejoin="round" stroke-linecap="round"/>
<circle cx="924.0" cy="268.0" r="3.4" fill="#fff" />
<polyline points="933.0,285.0 926.0,285.0 922.0,289.0" fill="none" stroke="#fff" stroke-width="4.3" stroke-linejoin="round" stroke-linecap="round"/>
<circle cx="922.0" cy="289.0" r="3.4" fill="#fff" />
<polyline points="933.0,291.0 928.0,291.0 920.0,299.0 914.0,299.0" fill="none" stroke="#fff" stroke-width="4.3" stroke-linejoin="round" stroke-linecap="round"/>
<circle cx="914.0" cy="299.0" r="3.4" fill="#fff" />
<polyline points="933.0,297.0 929.0,297.0 921.0,305.0 910.0,305.0 906.3,308.6" fill="none" stroke="#fff" stroke-width="4.3" stroke-linejoin="round" stroke-linecap="round"/>
<circle cx="906.3" cy="308.6" r="3.4" fill="#fff" />
<polyline points="933.0,303.0 930.0,303.0 922.0,311.0 912.0,311.0" fill="none" stroke="#fff" stroke-width="4.3" stroke-linejoin="round" stroke-linecap="round"/>
<circle cx="912.0" cy="311.0" r="3.4" fill="#fff" />
<polyline points="933.0,309.0 930.0,309.0 923.0,316.0 905.0,316.0" fill="none" stroke="#fff" stroke-width="4.3" stroke-linejoin="round" stroke-linecap="round"/>
<circle cx="905.0" cy="316.0" r="3.4" fill="#fff" />
<polyline points="933.0,315.0 930.0,315.0 924.0,321.0 903.0,321.0" fill="none" stroke="#fff" stroke-width="4.3" stroke-linejoin="round" stroke-linecap="round"/>
<circle cx="903.0" cy="321.0" r="3.4" fill="#fff" />
<polyline points="933.0,321.0 930.0,321.0 925.0,326.0 913.6,329.3" fill="none" stroke="#fff" stroke-width="4.3" stroke-linejoin="round" stroke-linecap="round"/>
<circle cx="913.6" cy="329.3" r="3.4" fill="#fff" />
<polyline points="933.0,327.0 931.0,327.0 927.0,331.0 916.0,331.0" fill="none" stroke="#fff" stroke-width="4.3" stroke-linejoin="round" stroke-linecap="round"/>
<circle cx="916.0" cy="331.0" r="3.4" fill="#fff" />
<polyline points="933.0,333.0 925.0,336.0 920.0,338.8 895.0,338.8" fill="none" stroke="#fff" stroke-width="4.3" stroke-linejoin="round" stroke-linecap="round"/>
<circle cx="895.0" cy="338.8" r="3.4" fill="#fff" />
<polyline points="933.0,339.0 926.0,342.0 921.0,346.5 912.0,346.5" fill="none" stroke="#fff" stroke-width="4.3" stroke-linejoin="round" stroke-linecap="round"/>
<circle cx="912.0" cy="346.5" r="3.4" fill="#fff" />
<polyline points="933.0,345.0 927.0,348.0 922.0,351.0 896.0,351.0" fill="none" stroke="#fff" stroke-width="4.3" stroke-linejoin="round" stroke-linecap="round"/>
<circle cx="896.0" cy="351.0" r="3.4" fill="#fff" />
<polyline points="933.0,351.0 927.0,354.0 922.0,356.5 912.0,356.5" fill="none" stroke="#fff" stroke-width="4.3" stroke-linejoin="round" stroke-linecap="round"/>
<circle cx="912.0" cy="356.5" r="3.4" fill="#fff" />
<polyline points="933.0,357.0 928.0,360.0 923.0,366.0 896.0,366.0" fill="none" stroke="#fff" stroke-width="4.3" stroke-linejoin="round" stroke-linecap="round"/>
<circle cx="896.0" cy="366.0" r="3.4" fill="#fff" />
<polyline points="946.0,278.0 952.0,278.0" fill="none" stroke="#fff" stroke-width="4.3" stroke-linejoin="round" stroke-linecap="round"/>
<circle cx="952.0" cy="278.0" r="3.4" fill="#fff" />
<polyline points="946.0,284.0 952.0,284.0" fill="none" stroke="#fff" stroke-width="4.3" stroke-linejoin="round" stroke-linecap="round"/>
<circle cx="952.0" cy="284.0" r="3.4" fill="#fff" />
<polyline points="946.0,290.0 952.0,290.0" fill="none" stroke="#fff" stroke-width="4.3" stroke-linejoin="round" stroke-linecap="round"/>
<circle cx="952.0" cy="290.0" r="3.4" fill="#fff" />
<polyline points="946.0,296.0 952.0,296.0" fill="none" stroke="#fff" stroke-width="4.3" stroke-linejoin="round" stroke-linecap="round"/>
<circle cx="952.0" cy="296.0" r="3.4" fill="#fff" />
<polyline points="946.0,302.0 952.0,302.0" fill="none" stroke="#fff" stroke-width="4.3" stroke-linejoin="round" stroke-linecap="round"/>
<circle cx="952.0" cy="302.0" r="3.4" fill="#fff" />
<polyline points="946.0,308.0 952.0,308.0" fill="none" stroke="#fff" stroke-width="4.3" stroke-linejoin="round" stroke-linecap="round"/>
<circle cx="952.0" cy="308.0" r="3.4" fill="#fff" />
<polyline points="946.0,314.0 952.0,314.0" fill="none" stroke="#fff" stroke-width="4.3" stroke-linejoin="round" stroke-linecap="round"/>
<circle cx="952.0" cy="314.0" r="3.4" fill="#fff" />
<polyline points="946.0,320.0 952.0,320.0" fill="none" stroke="#fff" stroke-width="4.3" stroke-linejoin="round" stroke-linecap="round"/>
<circle cx="952.0" cy="320.0" r="3.4" fill="#fff" />
<polyline points="946.0,326.0 952.0,326.0" fill="none" stroke="#fff" stroke-width="4.3" stroke-linejoin="round" stroke-linecap="round"/>
<circle cx="952.0" cy="326.0" r="3.4" fill="#fff" />
<polyline points="946.0,332.0 952.0,332.0" fill="none" stroke="#fff" stroke-width="4.3" stroke-linejoin="round" stroke-linecap="round"/>
<circle cx="952.0" cy="332.0" r="3.4" fill="#fff" />
<polyline points="946.0,338.0 952.0,338.0" fill="none" stroke="#fff" stroke-width="4.3" stroke-linejoin="round" stroke-linecap="round"/>
<circle cx="952.0" cy="338.0" r="3.4" fill="#fff" />
<polyline points="946.0,344.0 952.0,344.0" fill="none" stroke="#fff" stroke-width="4.3" stroke-linejoin="round" stroke-linecap="round"/>
<circle cx="952.0" cy="344.0" r="3.4" fill="#fff" />
<polyline points="946.0,350.0 952.0,350.0" fill="none" stroke="#fff" stroke-width="4.3" stroke-linejoin="round" stroke-linecap="round"/>
<circle cx="952.0" cy="350.0" r="3.4" fill="#fff" />
<polyline points="946.0,356.0 952.0,356.0" fill="none" stroke="#fff" stroke-width="4.3" stroke-linejoin="round" stroke-linecap="round"/>
<circle cx="952.0" cy="356.0" r="3.4" fill="#fff" />
<polyline points="933.0,279.0 928.0,279.0 924.0,275.0 924.0,268.0" fill="none" stroke="#c0836a" stroke-width="1.5" stroke-linejoin="round" stroke-linecap="round"/>
<circle cx="924.0" cy="268.0" r="2.0" fill="#c0836a" />
<polyline points="933.0,285.0 926.0,285.0 922.0,289.0" fill="none" stroke="#c0836a" stroke-width="1.5" stroke-linejoin="round" stroke-linecap="round"/>
<circle cx="922.0" cy="289.0" r="2.0" fill="#c0836a" />
<polyline points="933.0,291.0 928.0,291.0 920.0,299.0 914.0,299.0" fill="none" stroke="#c0836a" stroke-width="1.5" stroke-linejoin="round" stroke-linecap="round"/>
<circle cx="914.0" cy="299.0" r="2.0" fill="#c0836a" />
<polyline points="933.0,297.0 929.0,297.0 921.0,305.0 910.0,305.0 906.3,308.6" fill="none" stroke="#c0836a" stroke-width="1.5" stroke-linejoin="round" stroke-linecap="round"/>
<circle cx="906.3" cy="308.6" r="2.0" fill="#c0836a" />
<polyline points="933.0,303.0 930.0,303.0 922.0,311.0 912.0,311.0" fill="none" stroke="#c0836a" stroke-width="1.5" stroke-linejoin="round" stroke-linecap="round"/>
<circle cx="912.0" cy="311.0" r="2.0" fill="#c0836a" />
<polyline points="933.0,309.0 930.0,309.0 923.0,316.0 905.0,316.0" fill="none" stroke="#c0836a" stroke-width="1.5" stroke-linejoin="round" stroke-linecap="round"/>
<circle cx="905.0" cy="316.0" r="2.0" fill="#c0836a" />
<polyline points="933.0,315.0 930.0,315.0 924.0,321.0 903.0,321.0" fill="none" stroke="#c0836a" stroke-width="1.5" stroke-linejoin="round" stroke-linecap="round"/>
<circle cx="903.0" cy="321.0" r="2.0" fill="#c0836a" />
<polyline points="933.0,321.0 930.0,321.0 925.0,326.0 913.6,329.3" fill="none" stroke="#c0836a" stroke-width="1.5" stroke-linejoin="round" stroke-linecap="round"/>
<circle cx="913.6" cy="329.3" r="2.0" fill="#c0836a" />
<polyline points="933.0,327.0 931.0,327.0 927.0,331.0 916.0,331.0" fill="none" stroke="#c0836a" stroke-width="1.5" stroke-linejoin="round" stroke-linecap="round"/>
<circle cx="916.0" cy="331.0" r="2.0" fill="#c0836a" />
<polyline points="933.0,333.0 925.0,336.0 920.0,338.8 895.0,338.8" fill="none" stroke="#c0836a" stroke-width="1.5" stroke-linejoin="round" stroke-linecap="round"/>
<circle cx="895.0" cy="338.8" r="2.0" fill="#c0836a" />
<polyline points="933.0,339.0 926.0,342.0 921.0,346.5 912.0,346.5" fill="none" stroke="#c0836a" stroke-width="1.5" stroke-linejoin="round" stroke-linecap="round"/>
<circle cx="912.0" cy="346.5" r="2.0" fill="#c0836a" />
<polyline points="933.0,345.0 927.0,348.0 922.0,351.0 896.0,351.0" fill="none" stroke="#c0836a" stroke-width="1.5" stroke-linejoin="round" stroke-linecap="round"/>
<circle cx="896.0" cy="351.0" r="2.0" fill="#c0836a" />
<polyline points="933.0,351.0 927.0,354.0 922.0,356.5 912.0,356.5" fill="none" stroke="#c0836a" stroke-width="1.5" stroke-linejoin="round" stroke-linecap="round"/>
<circle cx="912.0" cy="356.5" r="2.0" fill="#c0836a" />
<polyline points="933.0,357.0 928.0,360.0 923.0,366.0 896.0,366.0" fill="none" stroke="#c0836a" stroke-width="1.5" stroke-linejoin="round" stroke-linecap="round"/>
<circle cx="896.0" cy="366.0" r="2.0" fill="#c0836a" />
<polyline points="946.0,278.0 952.0,278.0" fill="none" stroke="#c0836a" stroke-width="1.5" stroke-linejoin="round" stroke-linecap="round"/>
<circle cx="952.0" cy="278.0" r="2.0" fill="#c0836a" />
<polyline points="946.0,284.0 952.0,284.0" fill="none" stroke="#c0836a" stroke-width="1.5" stroke-linejoin="round" stroke-linecap="round"/>
<circle cx="952.0" cy="284.0" r="2.0" fill="#c0836a" />
<polyline points="946.0,290.0 952.0,290.0" fill="none" stroke="#c0836a" stroke-width="1.5" stroke-linejoin="round" stroke-linecap="round"/>
<circle cx="952.0" cy="290.0" r="2.0" fill="#c0836a" />
<polyline points="946.0,296.0 952.0,296.0" fill="none" stroke="#c0836a" stroke-width="1.5" stroke-linejoin="round" stroke-linecap="round"/>
<circle cx="952.0" cy="296.0" r="2.0" fill="#c0836a" />
<polyline points="946.0,302.0 952.0,302.0" fill="none" stroke="#c0836a" stroke-width="1.5" stroke-linejoin="round" stroke-linecap="round"/>
<circle cx="952.0" cy="302.0" r="2.0" fill="#c0836a" />
<polyline points="946.0,308.0 952.0,308.0" fill="none" stroke="#c0836a" stroke-width="1.5" stroke-linejoin="round" stroke-linecap="round"/>
<circle cx="952.0" cy="308.0" r="2.0" fill="#c0836a" />
<polyline points="946.0,314.0 952.0,314.0" fill="none" stroke="#c0836a" stroke-width="1.5" stroke-linejoin="round" stroke-linecap="round"/>
<circle cx="952.0" cy="314.0" r="2.0" fill="#c0836a" />
<polyline points="946.0,320.0 952.0,320.0" fill="none" stroke="#c0836a" stroke-width="1.5" stroke-linejoin="round" stroke-linecap="round"/>
<circle cx="952.0" cy="320.0" r="2.0" fill="#c0836a" />
<polyline points="946.0,326.0 952.0,326.0" fill="none" stroke="#c0836a" stroke-width="1.5" stroke-linejoin="round" stroke-linecap="round"/>
<circle cx="952.0" cy="326.0" r="2.0" fill="#c0836a" />
<polyline points="946.0,332.0 952.0,332.0" fill="none" stroke="#c0836a" stroke-width="1.5" stroke-linejoin="round" stroke-linecap="round"/>
<circle cx="952.0" cy="332.0" r="2.0" fill="#c0836a" />
<polyline points="946.0,338.0 952.0,338.0" fill="none" stroke="#c0836a" stroke-width="1.5" stroke-linejoin="round" stroke-linecap="round"/>
<circle cx="952.0" cy="338.0" r="2.0" fill="#c0836a" />
<polyline points="946.0,344.0 952.0,344.0" fill="none" stroke="#c0836a" stroke-width="1.5" stroke-linejoin="round" stroke-linecap="round"/>
<circle cx="952.0" cy="344.0" r="2.0" fill="#c0836a" />
<polyline points="946.0,350.0 952.0,350.0" fill="none" stroke="#c0836a" stroke-width="1.5" stroke-linejoin="round" stroke-linecap="round"/>
<circle cx="952.0" cy="350.0" r="2.0" fill="#c0836a" />
<polyline points="946.0,356.0 952.0,356.0" fill="none" stroke="#c0836a" stroke-width="1.5" stroke-linejoin="round" stroke-linecap="round"/>
<circle cx="952.0" cy="356.0" r="2.0" fill="#c0836a" />
<rect x="929.5" y="262.5" width="4.0" height="3.3" fill="#d7d7da" stroke="#a99ed6" stroke-width="0.5"/>
<rect x="929.5" y="265.8" width="4.0" height="2.9" fill="#7b6b63" />
<rect x="929.5" y="268.7" width="4.0" height="3.3" fill="#d7d7da" stroke="#a99ed6" stroke-width="0.5"/>
<circle cx="938.2" cy="269.7" r="2.9" fill="none" stroke="#fff" stroke-width="1.9"/>
<rect x="933.2" y="273.6" width="13.0" height="85.6" fill="#2b8a2b" />
<rect x="933.2" y="274.5" width="13.0" height="0.7" fill="#62b062" />
<rect x="933.2" y="276.5" width="13.0" height="0.7" fill="#62b062" />
<rect x="933.2" y="278.6" width="13.0" height="0.7" fill="#62b062" />
<rect x="933.2" y="280.6" width="13.0" height="0.7" fill="#62b062" />
<rect x="933.2" y="282.6" width="13.0" height="0.7" fill="#62b062" />
<rect x="933.2" y="284.6" width="13.0" height="0.7" fill="#62b062" />
<rect x="933.2" y="286.7" width="13.0" height="0.7" fill="#62b062" />
<rect x="933.2" y="288.7" width="13.0" height="0.7" fill="#62b062" />
<rect x="933.2" y="290.7" width="13.0" height="0.7" fill="#62b062" />
<rect x="933.2" y="292.8" width="13.0" height="0.7" fill="#62b062" />
<rect x="933.2" y="294.8" width="13.0" height="0.7" fill="#62b062" />
<rect x="933.2" y="296.8" width="13.0" height="0.7" fill="#62b062" />
<rect x="933.2" y="298.9" width="13.0" height="0.7" fill="#62b062" />
<rect x="933.2" y="300.9" width="13.0" height="0.7" fill="#62b062" />
<rect x="933.2" y="302.9" width="13.0" height="0.7" fill="#62b062" />
<rect x="933.2" y="304.9" width="13.0" height="0.7" fill="#62b062" />
<rect x="933.2" y="307.0" width="13.0" height="0.7" fill="#62b062" />
<rect x="933.2" y="309.0" width="13.0" height="0.7" fill="#62b062" />
<rect x="933.2" y="311.0" width="13.0" height="0.7" fill="#62b062" />
<rect x="933.2" y="313.1" width="13.0" height="0.7" fill="#62b062" />
<rect x="933.2" y="315.1" width="13.0" height="0.7" fill="#62b062" />
<rect x="933.2" y="317.1" width="13.0" height="0.7" fill="#62b062" />
<rect x="933.2" y="319.2" width="13.0" height="0.7" fill="#62b062" />
<rect x="933.2" y="321.2" width="13.0" height="0.7" fill="#62b062" />
<rect x="933.2" y="323.2" width="13.0" height="0.7" fill="#62b062" />
<rect x="933.2" y="325.2" width="13.0" height="0.7" fill="#62b062" />
<rect x="933.2" y="327.3" width="13.0" height="0.7" fill="#62b062" />
<rect x="933.2" y="329.3" width="13.0" height="0.7" fill="#62b062" />
<rect x="933.2" y="331.3" width="13.0" height="0.7" fill="#62b062" />
<rect x="933.2" y="333.4" width="13.0" height="0.7" fill="#62b062" />
<rect x="933.2" y="335.4" width="13.0" height="0.7" fill="#62b062" />
<rect x="933.2" y="337.4" width="13.0" height="0.7" fill="#62b062" />
<rect x="933.2" y="339.5" width="13.0" height="0.7" fill="#62b062" />
<rect x="933.2" y="341.5" width="13.0" height="0.7" fill="#62b062" />
<rect x="933.2" y="343.5" width="13.0" height="0.7" fill="#62b062" />
<rect x="933.2" y="345.6" width="13.0" height="0.7" fill="#62b062" />
<rect x="933.2" y="347.6" width="13.0" height="0.7" fill="#62b062" />
<rect x="933.2" y="349.6" width="13.0" height="0.7" fill="#62b062" />
<rect x="933.2" y="351.6" width="13.0" height="0.7" fill="#62b062" />
<rect x="933.2" y="353.7" width="13.0" height="0.7" fill="#62b062" />
<rect x="933.2" y="355.7" width="13.0" height="0.7" fill="#62b062" />
<rect x="933.2" y="357.7" width="13.0" height="0.7" fill="#62b062" />
<rect x="901.2" y="343.7" width="4.7" height="5.2" fill="#2b8a2b" />
<rect x="906.7" y="343.7" width="4.7" height="5.2" fill="#2b8a2b" />
<rect x="901.2" y="354.0" width="4.7" height="5.2" fill="#2b8a2b" />
<rect x="906.7" y="354.0" width="4.7" height="5.2" fill="#2b8a2b" />
<rect x="901.2" y="364.3" width="4.7" height="5.2" fill="#2b8a2b" />
<rect x="906.7" y="364.3" width="4.7" height="5.2" fill="#2b8a2b" />
<rect x="938.7" y="367.4" width="5.0" height="5.2" fill="#2b8a2b" />
<rect x="944.5" y="367.4" width="5.0" height="5.2" fill="#2b8a2b" />
<circle cx="940.8" cy="379.8" r="5.2" fill="#fff"/><circle cx="940.8" cy="379.8" r="4.0" fill="#2b8a2b"/>
<circle cx="906.3" cy="308.6" r="5.0" fill="#fff"/><circle cx="906.3" cy="308.6" r="3.8" fill="#2b8a2b"/>
<circle cx="913.6" cy="329.3" r="5.0" fill="#fff"/><circle cx="913.6" cy="329.3" r="3.8" fill="#2b8a2b"/>
<rect x="918.2" y="284.2" width="5.6" height="4.8" fill="#2b8a2b" />
<rect x="918.2" y="290.0" width="5.6" height="4.8" fill="#2b8a2b" />
<rect x="930.0" y="330.0" width="4.0" height="7.0" fill="#d7d7da" stroke="#a99ed6" stroke-width="0.5"/>
<rect x="937.0" y="330.0" width="4.0" height="7.0" fill="#d7d7da" stroke="#a99ed6" stroke-width="0.5"/>
<circle cx="220.5" cy="367.5" r="19.8" fill="#84788a" stroke="#9a8fcf" stroke-width="0.7"/>
<circle cx="220.5" cy="367.5" r="17.8" fill="#66735f" />
<circle cx="220.5" cy="367.5" r="13.3" fill="#8f9a8a" />
<circle cx="220.5" cy="367.5" r="11.5" fill="#d3d3d3" />
<text x="209.5" y="373.3" font-size="12.5" fill="#8a8a8a" font-family="Liberation Sans" textLength="22.5" lengthAdjust="spacingAndGlyphs">MTG9</text>
<circle cx="243.8" cy="333.0" r="2.9" fill="none" stroke="#fff" stroke-width="1.9"/>
<rect x="248.0" y="326.0" width="7.0" height="3.7" fill="#d7d7da" stroke="#a99ed6" stroke-width="0.5"/>
<rect x="248.0" y="329.7" width="7.0" height="3.2" fill="#7b6b63" />
<rect x="248.0" y="332.8" width="7.0" height="3.7" fill="#d7d7da" stroke="#a99ed6" stroke-width="0.5"/>
<rect x="273.7" y="334.2" width="16.3" height="9.3" fill="#2b8a2b" stroke="#fff" stroke-width="1"/>
<rect x="275.7" y="336.1" width="5.4" height="5.6" fill="#d7d7da" stroke="#a99ed6" stroke-width="0.5"/>
<rect x="282.7" y="336.1" width="5.4" height="5.6" fill="#d7d7da" stroke="#a99ed6" stroke-width="0.5"/>
<rect x="298.2" y="326.0" width="16.3" height="7.0" fill="#2b8a2b" stroke="#fff" stroke-width="1"/>
<rect x="300.2" y="327.4" width="5.4" height="4.2" fill="#d7d7da" stroke="#a99ed6" stroke-width="0.5"/>
<rect x="307.2" y="327.4" width="5.4" height="4.2" fill="#d7d7da" stroke="#a99ed6" stroke-width="0.5"/>
<rect x="298.2" y="344.7" width="16.3" height="8.1" fill="#2b8a2b" stroke="#fff" stroke-width="1"/>
<rect x="300.2" y="346.3" width="5.4" height="4.9" fill="#d7d7da" stroke="#a99ed6" stroke-width="0.5"/>
<rect x="307.2" y="346.3" width="5.4" height="4.9" fill="#d7d7da" stroke="#a99ed6" stroke-width="0.5"/>
<rect x="276.0" y="352.8" width="5.1" height="5.9" fill="#d7d7da" stroke="#a99ed6" stroke-width="0.5"/>
<rect x="281.1" y="352.8" width="2.6" height="5.9" fill="#7b6b63" />
<rect x="283.7" y="352.8" width="5.1" height="5.9" fill="#d7d7da" stroke="#a99ed6" stroke-width="0.5"/>
<rect x="301.7" y="359.8" width="4.6" height="6.3" fill="#d7d7da" stroke="#a99ed6" stroke-width="0.5"/>
<rect x="306.3" y="359.8" width="2.3" height="6.3" fill="#7b6b63" />
<rect x="308.7" y="359.8" width="4.6" height="6.3" fill="#d7d7da" stroke="#a99ed6" stroke-width="0.5"/>
<circle cx="270.2" cy="338.8" r="2.9" fill="none" stroke="#fff" stroke-width="1.9"/>
<circle cx="294.7" cy="338.8" r="2.9" fill="none" stroke="#fff" stroke-width="1.9"/>
<circle cx="294.7" cy="329.5" r="2.9" fill="none" stroke="#fff" stroke-width="1.9"/>
<circle cx="294.7" cy="348.2" r="2.9" fill="none" stroke="#fff" stroke-width="1.9"/>
<circle cx="319.9" cy="348.2" r="2.9" fill="none" stroke="#fff" stroke-width="1.9"/>
<circle cx="270.2" cy="355.6" r="2.9" fill="none" stroke="#fff" stroke-width="1.9"/>
<circle cx="297.0" cy="362.9" r="2.9" fill="none" stroke="#fff" stroke-width="1.9"/>
<circle cx="319.9" cy="362.9" r="2.9" fill="none" stroke="#fff" stroke-width="1.9"/>
<circle cx="351.8" cy="362.9" r="2.9" fill="none" stroke="#fff" stroke-width="1.9"/>
<circle cx="362.3" cy="396.0" r="2.9" fill="none" stroke="#fff" stroke-width="1.9"/>
<circle cx="367.0" cy="392.5" r="2.9" fill="none" stroke="#fff" stroke-width="1.9"/>
<circle cx="371.7" cy="389.0" r="2.9" fill="none" stroke="#fff" stroke-width="1.9"/>
<circle cx="378.2" cy="390.9" r="2.9" fill="none" stroke="#fff" stroke-width="1.9"/>
<circle cx="207.2" cy="407.0" r="2.9" fill="none" stroke="#fff" stroke-width="1.9"/>
<circle cx="243.8" cy="407.0" r="2.9" fill="none" stroke="#fff" stroke-width="1.9"/>
<circle cx="215.3" cy="428.7" r="2.9" fill="none" stroke="#fff" stroke-width="1.9"/>
<circle cx="202.5" cy="434.5" r="2.9" fill="none" stroke="#fff" stroke-width="1.9"/>
<circle cx="267.8" cy="445.0" r="2.9" fill="none" stroke="#fff" stroke-width="1.9"/>
<circle cx="269.0" cy="453.2" r="2.9" fill="none" stroke="#fff" stroke-width="1.9"/>
<circle cx="315.7" cy="449.2" r="2.9" fill="none" stroke="#fff" stroke-width="1.9"/>
<circle cx="311.5" cy="460.9" r="2.9" fill="none" stroke="#fff" stroke-width="1.9"/>
<circle cx="282.5" cy="464.8" r="2.9" fill="none" stroke="#fff" stroke-width="1.9"/>
<circle cx="277.2" cy="468.3" r="2.9" fill="none" stroke="#fff" stroke-width="1.9"/>
<circle cx="334.3" cy="456.7" r="2.9" fill="none" stroke="#fff" stroke-width="1.9"/>
<circle cx="333.2" cy="463.7" r="2.9" fill="none" stroke="#fff" stroke-width="1.9"/>
<circle cx="329.7" cy="468.3" r="2.9" fill="none" stroke="#fff" stroke-width="1.9"/>
<circle cx="362.3" cy="447.3" r="2.9" fill="none" stroke="#fff" stroke-width="1.9"/>
<circle cx="362.3" cy="417.0" r="2.9" fill="none" stroke="#fff" stroke-width="1.9"/>
<circle cx="396.0" cy="424.0" r="2.9" fill="none" stroke="#fff" stroke-width="1.9"/>
<circle cx="402.0" cy="418.0" r="2.9" fill="none" stroke="#fff" stroke-width="1.9"/>
<circle cx="400.0" cy="430.0" r="2.9" fill="none" stroke="#fff" stroke-width="1.9"/>
<circle cx="327.3" cy="331.8" r="4.8" fill="#fff"/><circle cx="327.3" cy="331.8" r="3.6" fill="#2b8a2b"/>
<circle cx="294.7" cy="355.6" r="1.5" fill="#2b8a2b" />
<circle cx="287.7" cy="406.0" r="8.8" fill="#8e8099" stroke="#9a8fcf" stroke-width="0.6"/>
<circle cx="287.7" cy="406.0" r="6.6" fill="#6f6a66" />
<circle cx="287.7" cy="406.0" r="3.8" fill="#c9c6cc" />
<rect x="231.7" y="411.2" width="5.3" height="7.0" fill="#d7d7da" stroke="#a99ed6" stroke-width="0.5"/>
<rect x="237.0" y="411.2" width="4.5" height="7.0" fill="#7b6b63" />
<rect x="241.5" y="411.2" width="5.3" height="7.0" fill="#d7d7da" stroke="#a99ed6" stroke-width="0.5"/>
<rect x="204.8" y="412.3" width="4.7" height="3.3" fill="#d7d7da" stroke="#a99ed6" stroke-width="0.5"/>
<rect x="204.8" y="415.6" width="4.7" height="2.8" fill="#7b6b63" />
<rect x="204.8" y="418.4" width="4.7" height="3.3" fill="#d7d7da" stroke="#a99ed6" stroke-width="0.5"/>
<circle cx="208.3" cy="418.9" r="3.7" fill="#fff"/><circle cx="208.3" cy="418.9" r="2.5" fill="#2b8a2b"/>
<rect x="206.0" y="432.2" width="5.3" height="5.8" fill="#2b8a2b" />
<rect x="212.4" y="432.2" width="5.3" height="5.8" fill="#2b8a2b" />
<rect x="199.7" y="440.3" width="1.6" height="12.9" fill="#d7d7da" stroke="#a99ed6" stroke-width="0.5"/>
<rect x="202.6" y="440.3" width="1.6" height="12.9" fill="#d7d7da" stroke="#a99ed6" stroke-width="0.5"/>
<rect x="205.5" y="440.3" width="1.6" height="12.9" fill="#d7d7da" stroke="#a99ed6" stroke-width="0.5"/>
<rect x="208.4" y="440.3" width="1.6" height="12.9" fill="#d7d7da" stroke="#a99ed6" stroke-width="0.5"/>
<rect x="211.3" y="440.3" width="1.6" height="12.9" fill="#d7d7da" stroke="#a99ed6" stroke-width="0.5"/>
<rect x="214.2" y="440.3" width="1.6" height="12.9" fill="#d7d7da" stroke="#a99ed6" stroke-width="0.5"/>
<rect x="217.1" y="440.3" width="1.6" height="12.9" fill="#d7d7da" stroke="#a99ed6" stroke-width="0.5"/>
<rect x="220.1" y="440.3" width="1.6" height="12.9" fill="#d7d7da" stroke="#a99ed6" stroke-width="0.5"/>
<rect x="223.0" y="440.3" width="1.6" height="12.9" fill="#d7d7da" stroke="#a99ed6" stroke-width="0.5"/>
<rect x="225.9" y="440.3" width="1.6" height="12.9" fill="#d7d7da" stroke="#a99ed6" stroke-width="0.5"/>
<rect x="228.8" y="440.3" width="1.6" height="12.9" fill="#d7d7da" stroke="#a99ed6" stroke-width="0.5"/>
<rect x="231.7" y="440.3" width="1.6" height="12.9" fill="#d7d7da" stroke="#a99ed6" stroke-width="0.5"/>
<rect x="234.6" y="440.3" width="1.6" height="12.9" fill="#d7d7da" stroke="#a99ed6" stroke-width="0.5"/>
<rect x="237.5" y="440.3" width="1.6" height="12.9" fill="#d7d7da" stroke="#a99ed6" stroke-width="0.5"/>
<polygon points="199.0,455.5 235.0,455.5 239.8,460.0 239.8,574.3 199.0,574.3" fill="#7b6b63" stroke="#9a8fcf" stroke-width="0.5"/>
<circle cx="207.9" cy="454.3" r="3.6" fill="#5e7856" stroke="#8a8a8a" stroke-width="0.7"/>
<path d="M195.51,513.98 C195.81,511.38 197.65,510.00 199.79,510.00 C202.54,510.00 204.07,511.68 204.07,513.98 C204.07,516.12 202.85,517.65 195.51,525.30 H204.38 M214.02,525.30 V510.00 L206.98,520.71 H216.47 " fill="none" stroke="#66605d" stroke-width="1.2" stroke-linecap="round" stroke-linejoin="round"/>
<circle cx="266.2" cy="438.5" r="5.0" fill="#fff"/><circle cx="266.2" cy="438.5" r="3.8" fill="#2b8a2b"/>
<circle cx="277.2" cy="453.9" r="5.0" fill="#fff"/><circle cx="277.2" cy="453.9" r="3.8" fill="#2b8a2b"/>
<rect x="259.2" y="464.8" width="13.3" height="8.2" fill="#2b8a2b" stroke="#fff" stroke-width="1"/>
<rect x="260.8" y="466.4" width="4.4" height="4.9" fill="#d7d7da" stroke="#a99ed6" stroke-width="0.5"/>
<rect x="266.5" y="466.4" width="4.4" height="4.9" fill="#d7d7da" stroke="#a99ed6" stroke-width="0.5"/>
<circle cx="328.5" cy="460.2" r="5.0" fill="#fff"/><circle cx="328.5" cy="460.2" r="3.8" fill="#2b8a2b"/>
<rect x="345.7" y="460.2" width="4.7" height="28.0" fill="#7b6b63" />
<rect x="340.2" y="461.2" width="5.5" height="2.6" fill="#d7d7da" stroke="#a99ed6" stroke-width="0.5"/>
<rect x="340.2" y="465.9" width="5.5" height="2.6" fill="#d7d7da" stroke="#a99ed6" stroke-width="0.5"/>
<rect x="340.2" y="470.6" width="5.5" height="2.6" fill="#d7d7da" stroke="#a99ed6" stroke-width="0.5"/>
<rect x="340.2" y="475.2" width="5.5" height="2.6" fill="#d7d7da" stroke="#a99ed6" stroke-width="0.5"/>
<rect x="340.2" y="479.9" width="5.5" height="2.6" fill="#d7d7da" stroke="#a99ed6" stroke-width="0.5"/>
<rect x="340.2" y="484.6" width="5.5" height="2.6" fill="#d7d7da" stroke="#a99ed6" stroke-width="0.5"/>
<rect x="350.3" y="461.2" width="5.5" height="2.6" fill="#d7d7da" stroke="#a99ed6" stroke-width="0.5"/>
<rect x="350.3" y="465.9" width="5.5" height="2.6" fill="#d7d7da" stroke="#a99ed6" stroke-width="0.5"/>
<rect x="350.3" y="470.6" width="5.5" height="2.6" fill="#d7d7da" stroke="#a99ed6" stroke-width="0.5"/>
<rect x="350.3" y="475.2" width="5.5" height="2.6" fill="#d7d7da" stroke="#a99ed6" stroke-width="0.5"/>
<rect x="350.3" y="479.9" width="5.5" height="2.6" fill="#d7d7da" stroke="#a99ed6" stroke-width="0.5"/>
<rect x="350.3" y="484.6" width="5.5" height="2.6" fill="#d7d7da" stroke="#a99ed6" stroke-width="0.5"/>
<rect x="348.3" y="434.5" width="10.5" height="7.0" fill="#2b8a2b" stroke="#fff" stroke-width="1"/>
<rect x="348.3" y="445.0" width="10.5" height="7.0" fill="#2b8a2b" stroke="#fff" stroke-width="1"/>
<rect x="364.7" y="413.5" width="9.8" height="7.5" fill="#2b8a2b" stroke="#fff" stroke-width="1"/>
<rect x="364.7" y="423.5" width="9.8" height="7.5" fill="#2b8a2b" stroke="#fff" stroke-width="1"/>
<circle cx="393.8" cy="418.9" r="5.0" fill="#fff"/><circle cx="393.8" cy="418.9" r="3.8" fill="#2b8a2b"/>
<circle cx="403.2" cy="411.2" r="5.0" fill="#fff"/><circle cx="403.2" cy="411.2" r="3.8" fill="#2b8a2b"/>
<rect x="370.5" y="436.6" width="10.5" height="2.1" fill="#d7d7da" stroke="#a99ed6" stroke-width="0.5"/>
<rect x="370.5" y="440.4" width="10.5" height="2.1" fill="#d7d7da" stroke="#a99ed6" stroke-width="0.5"/>
<rect x="370.5" y="444.2" width="10.5" height="2.1" fill="#d7d7da" stroke="#a99ed6" stroke-width="0.5"/>
<rect x="370.5" y="448.0" width="10.5" height="2.1" fill="#d7d7da" stroke="#a99ed6" stroke-width="0.5"/>
<rect x="370.5" y="451.8" width="10.5" height="2.1" fill="#d7d7da" stroke="#a99ed6" stroke-width="0.5"/>
<rect x="370.5" y="455.6" width="10.5" height="2.1" fill="#d7d7da" stroke="#a99ed6" stroke-width="0.5"/>
<rect x="370.5" y="459.4" width="10.5" height="2.1" fill="#d7d7da" stroke="#a99ed6" stroke-width="0.5"/>
<rect x="370.5" y="463.2" width="10.5" height="2.1" fill="#d7d7da" stroke="#a99ed6" stroke-width="0.5"/>
<rect x="370.5" y="467.0" width="10.5" height="2.1" fill="#d7d7da" stroke="#a99ed6" stroke-width="0.5"/>
<rect x="370.5" y="470.8" width="10.5" height="2.1" fill="#d7d7da" stroke="#a99ed6" stroke-width="0.5"/>
<rect x="370.5" y="474.6" width="10.5" height="2.1" fill="#d7d7da" stroke="#a99ed6" stroke-width="0.5"/>
<rect x="370.5" y="478.4" width="10.5" height="2.1" fill="#d7d7da" stroke="#a99ed6" stroke-width="0.5"/>
<rect x="370.5" y="482.2" width="10.5" height="2.1" fill="#d7d7da" stroke="#a99ed6" stroke-width="0.5"/>
<rect x="370.5" y="486.1" width="10.5" height="2.1" fill="#d7d7da" stroke="#a99ed6" stroke-width="0.5"/>
<rect x="370.5" y="489.9" width="10.5" height="2.1" fill="#d7d7da" stroke="#a99ed6" stroke-width="0.5"/>
<rect x="370.5" y="493.7" width="10.5" height="2.1" fill="#d7d7da" stroke="#a99ed6" stroke-width="0.5"/>
<rect x="370.5" y="497.5" width="10.5" height="2.1" fill="#d7d7da" stroke="#a99ed6" stroke-width="0.5"/>
<rect x="370.5" y="501.3" width="10.5" height="2.1" fill="#d7d7da" stroke="#a99ed6" stroke-width="0.5"/>
<rect x="370.5" y="505.1" width="10.5" height="2.1" fill="#d7d7da" stroke="#a99ed6" stroke-width="0.5"/>
<rect x="370.5" y="508.9" width="10.5" height="2.1" fill="#d7d7da" stroke="#a99ed6" stroke-width="0.5"/>
<rect x="370.5" y="512.7" width="10.5" height="2.1" fill="#d7d7da" stroke="#a99ed6" stroke-width="0.5"/>
<rect x="370.5" y="516.5" width="10.5" height="2.1" fill="#d7d7da" stroke="#a99ed6" stroke-width="0.5"/>
<rect x="370.5" y="520.3" width="10.5" height="2.1" fill="#d7d7da" stroke="#a99ed6" stroke-width="0.5"/>
<rect x="370.5" y="524.1" width="10.5" height="2.1" fill="#d7d7da" stroke="#a99ed6" stroke-width="0.5"/>
<rect x="370.5" y="527.9" width="10.5" height="2.1" fill="#d7d7da" stroke="#a99ed6" stroke-width="0.5"/>
<rect x="370.5" y="531.7" width="10.5" height="2.1" fill="#d7d7da" stroke="#a99ed6" stroke-width="0.5"/>
<polygon points="383.3,432.2 446.3,432.2 446.3,534.7 383.3,534.7" fill="#7b6b63" stroke="#9a8fcf" stroke-width="0.6"/>
<rect x="447.5" y="436.6" width="12.8" height="2.1" fill="#d7d7da" stroke="#a99ed6" stroke-width="0.5"/>
<rect x="447.5" y="440.4" width="12.8" height="2.1" fill="#d7d7da" stroke="#a99ed6" stroke-width="0.5"/>
<rect x="447.5" y="444.2" width="12.8" height="2.1" fill="#d7d7da" stroke="#a99ed6" stroke-width="0.5"/>
<rect x="447.5" y="448.0" width="12.8" height="2.1" fill="#d7d7da" stroke="#a99ed6" stroke-width="0.5"/>
<rect x="447.5" y="451.8" width="12.8" height="2.1" fill="#d7d7da" stroke="#a99ed6" stroke-width="0.5"/>
<rect x="447.5" y="455.6" width="12.8" height="2.1" fill="#d7d7da" stroke="#a99ed6" stroke-width="0.5"/>
<rect x="447.5" y="459.4" width="12.8" height="2.1" fill="#d7d7da" stroke="#a99ed6" stroke-width="0.5"/>
<rect x="447.5" y="463.2" width="12.8" height="2.1" fill="#d7d7da" stroke="#a99ed6" stroke-width="0.5"/>
<rect x="447.5" y="467.0" width="12.8" height="2.1" fill="#d7d7da" stroke="#a99ed6" stroke-width="0.5"/>
<rect x="447.5" y="470.8" width="12.8" height="2.1" fill="#d7d7da" stroke="#a99ed6" stroke-width="0.5"/>
<rect x="447.5" y="474.6" width="12.8" height="2.1" fill="#d7d7da" stroke="#a99ed6" stroke-width="0.5"/>
<rect x="447.5" y="478.4" width="12.8" height="2.1" fill="#d7d7da" stroke="#a99ed6" stroke-width="0.5"/>
<rect x="447.5" y="482.2" width="12.8" height="2.1" fill="#d7d7da" stroke="#a99ed6" stroke-width="0.5"/>
<rect x="447.5" y="486.1" width="12.8" height="2.1" fill="#d7d7da" stroke="#a99ed6" stroke-width="0.5"/>
<rect x="447.5" y="489.9" width="12.8" height="2.1" fill="#d7d7da" stroke="#a99ed6" stroke-width="0.5"/>
<rect x="447.5" y="493.7" width="12.8" height="2.1" fill="#d7d7da" stroke="#a99ed6" stroke-width="0.5"/>
<rect x="447.5" y="497.5" width="12.8" height="2.1" fill="#d7d7da" stroke="#a99ed6" stroke-width="0.5"/>
<rect x="447.5" y="501.3" width="12.8" height="2.1" fill="#d7d7da" stroke="#a99ed6" stroke-width="0.5"/>
<rect x="447.5" y="505.1" width="12.8" height="2.1" fill="#d7d7da" stroke="#a99ed6" stroke-width="0.5"/>
<rect x="447.5" y="508.9" width="12.8" height="2.1" fill="#d7d7da" stroke="#a99ed6" stroke-width="0.5"/>
<rect x="447.5" y="512.7" width="12.8" height="2.1" fill="#d7d7da" stroke="#a99ed6" stroke-width="0.5"/>
<rect x="447.5" y="516.5" width="12.8" height="2.1" fill="#d7d7da" stroke="#a99ed6" stroke-width="0.5"/>
<rect x="447.5" y="520.3" width="12.8" height="2.1" fill="#d7d7da" stroke="#a99ed6" stroke-width="0.5"/>
<rect x="447.5" y="524.1" width="12.8" height="2.1" fill="#d7d7da" stroke="#a99ed6" stroke-width="0.5"/>
<rect x="447.5" y="527.9" width="12.8" height="2.1" fill="#d7d7da" stroke="#a99ed6" stroke-width="0.5"/>
<rect x="447.5" y="531.7" width="12.8" height="2.1" fill="#d7d7da" stroke="#a99ed6" stroke-width="0.5"/>
<path d="M398.40,506.70 V517.78 C398.40,521.37 400.52,523.00 403.45,523.00 C406.39,523.00 408.51,521.37 408.51,517.78 V506.70 M411.60,510.94 C411.93,508.17 413.88,506.70 416.17,506.70 C419.10,506.70 420.73,508.49 420.73,510.94 C420.73,513.22 419.43,514.85 411.60,523.00 H421.06 M432.96,506.70 H425.46 L424.64,514.69 C425.95,513.55 427.41,513.06 429.04,513.06 C431.81,513.06 433.61,515.18 433.61,518.11 C433.61,521.04 431.65,523.00 428.72,523.00 C426.60,523.00 424.64,521.86 423.99,519.74 " fill="none" stroke="#66605d" stroke-width="1.2" stroke-linecap="round" stroke-linejoin="round"/>
<rect x="386.0" y="436.0" width="5.0" height="5.0" fill="#5e7856" stroke="#8a8a8a" stroke-width="0.8"/>
<rect x="392.0" y="436.0" width="5.0" height="5.0" fill="#5e7856" stroke="#8a8a8a" stroke-width="0.8"/>
<rect x="386.0" y="446.0" width="5.0" height="5.0" fill="#5e7856" stroke="#8a8a8a" stroke-width="0.8"/>
<rect x="392.0" y="446.0" width="5.0" height="5.0" fill="#5e7856" stroke="#8a8a8a" stroke-width="0.8"/>
<rect x="390.0" y="489.0" width="6.0" height="6.0" fill="#5e7856" stroke="#8a8a8a" stroke-width="0.8"/>
<rect x="390.0" y="497.0" width="6.0" height="6.0" fill="#5e7856" stroke="#8a8a8a" stroke-width="0.8"/>
<rect x="412.0" y="455.0" width="5.0" height="5.0" fill="#5e7856" stroke="#8a8a8a" stroke-width="0.8"/>
<circle cx="430.0" cy="440.0" r="2.3" fill="none" stroke="#8e8e8e" stroke-width="1.2"/>
<circle cx="425.0" cy="447.0" r="2.3" fill="none" stroke="#8e8e8e" stroke-width="1.2"/>
<circle cx="420.0" cy="454.0" r="2.3" fill="none" stroke="#8e8e8e" stroke-width="1.2"/>
<circle cx="415.0" cy="461.0" r="2.3" fill="none" stroke="#8e8e8e" stroke-width="1.2"/>
<circle cx="410.0" cy="468.0" r="2.3" fill="none" stroke="#8e8e8e" stroke-width="1.2"/>
<circle cx="405.0" cy="475.0" r="2.3" fill="none" stroke="#8e8e8e" stroke-width="1.2"/>
<circle cx="400.0" cy="482.0" r="2.3" fill="none" stroke="#8e8e8e" stroke-width="1.2"/>
<circle cx="395.0" cy="489.0" r="2.3" fill="none" stroke="#8e8e8e" stroke-width="1.2"/>
<rect x="372.0" y="440.0" width="5.0" height="2.0" fill="#2b8a2b" />
<rect x="372.0" y="444.0" width="5.0" height="2.0" fill="#2b8a2b" />
<rect x="372.0" y="470.0" width="5.0" height="2.0" fill="#2b8a2b" />
<rect x="372.0" y="474.0" width="5.0" height="2.0" fill="#2b8a2b" />
<circle cx="519.8" cy="328.8" r="2.9" fill="none" stroke="#fff" stroke-width="1.9"/>
<circle cx="523.3" cy="334.2" r="2.9" fill="none" stroke="#fff" stroke-width="1.9"/>
<circle cx="526.8" cy="338.8" r="2.9" fill="none" stroke="#fff" stroke-width="1.9"/>
<circle cx="525.7" cy="344.2" r="2.9" fill="none" stroke="#fff" stroke-width="1.9"/>
<circle cx="522.2" cy="349.3" r="2.9" fill="none" stroke="#fff" stroke-width="1.9"/>
<circle cx="519.8" cy="354.5" r="2.9" fill="none" stroke="#fff" stroke-width="1.9"/>
<circle cx="518.7" cy="360.5" r="2.9" fill="none" stroke="#fff" stroke-width="1.9"/>
<circle cx="455.7" cy="396.0" r="2.9" fill="none" stroke="#fff" stroke-width="1.9"/>
<circle cx="462.7" cy="401.8" r="2.9" fill="none" stroke="#fff" stroke-width="1.9"/>
<circle cx="468.5" cy="396.0" r="2.9" fill="none" stroke="#fff" stroke-width="1.9"/>
<circle cx="473.2" cy="401.8" r="2.9" fill="none" stroke="#fff" stroke-width="1.9"/>
<circle cx="479.0" cy="396.0" r="2.9" fill="none" stroke="#fff" stroke-width="1.9"/>
<circle cx="483.7" cy="401.8" r="2.9" fill="none" stroke="#fff" stroke-width="1.9"/>
<circle cx="488.3" cy="396.0" r="2.9" fill="none" stroke="#fff" stroke-width="1.9"/>
<circle cx="425.3" cy="400.2" r="2.9" fill="none" stroke="#fff" stroke-width="1.9"/>
<circle cx="420.7" cy="404.2" r="2.9" fill="none" stroke="#fff" stroke-width="1.9"/>
<circle cx="417.2" cy="408.1" r="2.9" fill="none" stroke="#fff" stroke-width="1.9"/>
<circle cx="413.7" cy="412.8" r="2.9" fill="none" stroke="#fff" stroke-width="1.9"/>
<circle cx="474.8" cy="438.0" r="2.9" fill="none" stroke="#fff" stroke-width="1.9"/>
<circle cx="511.7" cy="428.7" r="2.9" fill="none" stroke="#fff" stroke-width="1.9"/>
<circle cx="507.0" cy="433.3" r="2.9" fill="none" stroke="#fff" stroke-width="1.9"/>
<circle cx="502.3" cy="436.8" r="2.9" fill="none" stroke="#fff" stroke-width="1.9"/>
<circle cx="497.7" cy="433.3" r="2.9" fill="none" stroke="#fff" stroke-width="1.9"/>
<circle cx="493.0" cy="435.7" r="2.9" fill="none" stroke="#fff" stroke-width="1.9"/>
<circle cx="490.7" cy="440.3" r="2.9" fill="none" stroke="#fff" stroke-width="1.9"/>
<circle cx="486.0" cy="446.2" r="2.9" fill="none" stroke="#fff" stroke-width="1.9"/>
<circle cx="516.8" cy="441.5" r="2.9" fill="none" stroke="#fff" stroke-width="1.9"/>
<circle cx="441.7" cy="429.8" r="2.9" fill="none" stroke="#fff" stroke-width="1.9"/>
<circle cx="463.8" cy="465.5" r="2.9" fill="none" stroke="#fff" stroke-width="1.9"/>
<circle cx="496.0" cy="458.0" r="2.9" fill="none" stroke="#fff" stroke-width="1.9"/>
<circle cx="501.0" cy="463.0" r="2.9" fill="none" stroke="#fff" stroke-width="1.9"/>
<circle cx="497.0" cy="468.0" r="2.9" fill="none" stroke="#fff" stroke-width="1.9"/>
<circle cx="540.0" cy="382.0" r="2.9" fill="none" stroke="#fff" stroke-width="1.9"/>
<circle cx="546.0" cy="386.0" r="2.9" fill="none" stroke="#fff" stroke-width="1.9"/>
<circle cx="540.0" cy="391.0" r="2.9" fill="none" stroke="#fff" stroke-width="1.9"/>
<circle cx="546.0" cy="395.0" r="2.9" fill="none" stroke="#fff" stroke-width="1.9"/>
<circle cx="540.0" cy="400.0" r="2.9" fill="none" stroke="#fff" stroke-width="1.9"/>
<circle cx="546.0" cy="404.0" r="2.9" fill="none" stroke="#fff" stroke-width="1.9"/>
<circle cx="544.3" cy="453.2" r="2.9" fill="none" stroke="#fff" stroke-width="1.9"/>
<circle cx="540.8" cy="459.0" r="2.9" fill="none" stroke="#fff" stroke-width="1.9"/>
<circle cx="536.9" cy="463.7" r="2.9" fill="none" stroke="#fff" stroke-width="1.9"/>
<circle cx="543.2" cy="467.2" r="2.9" fill="none" stroke="#fff" stroke-width="1.9"/>
<circle cx="474.3" cy="408.8" r="5.0" fill="#fff"/><circle cx="474.3" cy="408.8" r="3.8" fill="#2b8a2b"/>
<circle cx="417.2" cy="418.2" r="5.0" fill="#fff"/><circle cx="417.2" cy="418.2" r="3.8" fill="#2b8a2b"/>
<circle cx="429.5" cy="432.2" r="4.8" fill="#fff"/><circle cx="429.5" cy="432.2" r="3.6" fill="#2b8a2b"/>
<circle cx="532.2" cy="403.5" r="5.0" fill="#fff"/><circle cx="532.2" cy="403.5" r="3.8" fill="#2b8a2b"/>
<circle cx="544.8" cy="415.1" r="5.0" fill="#fff"/><circle cx="544.8" cy="415.1" r="3.8" fill="#2b8a2b"/>
<circle cx="548.5" cy="447.3" r="5.0" fill="#fff"/><circle cx="548.5" cy="447.3" r="3.8" fill="#2b8a2b"/>
<circle cx="532.7" cy="467.9" r="5.0" fill="#fff"/><circle cx="532.7" cy="467.9" r="3.8" fill="#2b8a2b"/>
<rect x="460.3" y="425.2" width="7.5" height="9.3" fill="#2b8a2b" stroke="#fff" stroke-width="1"/>
<rect x="470.3" y="425.2" width="7.5" height="9.3" fill="#2b8a2b" stroke="#fff" stroke-width="1"/>
<rect x="460.3" y="469.5" width="5.9" height="4.0" fill="#2b8a2b" stroke="#fff" stroke-width="1"/>
<rect x="605.8" y="326.0" width="1.9" height="14.0" fill="#d7d7da" stroke="#a99ed6" stroke-width="0.5"/>
<rect x="609.3" y="326.0" width="1.9" height="14.0" fill="#d7d7da" stroke="#a99ed6" stroke-width="0.5"/>
<rect x="612.8" y="326.0" width="1.9" height="14.0" fill="#d7d7da" stroke="#a99ed6" stroke-width="0.5"/>
<rect x="616.3" y="326.0" width="1.9" height="14.0" fill="#d7d7da" stroke="#a99ed6" stroke-width="0.5"/>
<rect x="609.0" y="330.0" width="6.0" height="6.0" fill="#7b6b63" />
<rect x="602.3" y="356.3" width="1.9" height="11.7" fill="#d7d7da" stroke="#a99ed6" stroke-width="0.5"/>
<rect x="605.8" y="356.3" width="1.9" height="11.7" fill="#d7d7da" stroke="#a99ed6" stroke-width="0.5"/>
<rect x="609.3" y="356.3" width="1.9" height="11.7" fill="#d7d7da" stroke="#a99ed6" stroke-width="0.5"/>
<rect x="612.8" y="356.3" width="1.9" height="11.7" fill="#d7d7da" stroke="#a99ed6" stroke-width="0.5"/>
<rect x="616.3" y="356.3" width="1.9" height="11.7" fill="#d7d7da" stroke="#a99ed6" stroke-width="0.5"/>
<rect x="555.9" y="379.7" width="4.9" height="28.0" fill="#7b6b63" />
<rect x="550.2" y="380.6" width="5.7" height="2.2" fill="#d7d7da" stroke="#a99ed6" stroke-width="0.5"/>
<rect x="550.2" y="384.6" width="5.7" height="2.2" fill="#d7d7da" stroke="#a99ed6" stroke-width="0.5"/>
<rect x="550.2" y="388.6" width="5.7" height="2.2" fill="#d7d7da" stroke="#a99ed6" stroke-width="0.5"/>
<rect x="550.2" y="392.6" width="5.7" height="2.2" fill="#d7d7da" stroke="#a99ed6" stroke-width="0.5"/>
<rect x="550.2" y="396.6" width="5.7" height="2.2" fill="#d7d7da" stroke="#a99ed6" stroke-width="0.5"/>
<rect x="550.2" y="400.6" width="5.7" height="2.2" fill="#d7d7da" stroke="#a99ed6" stroke-width="0.5"/>
<rect x="550.2" y="404.6" width="5.7" height="2.2" fill="#d7d7da" stroke="#a99ed6" stroke-width="0.5"/>
<rect x="560.8" y="380.6" width="5.7" height="2.2" fill="#d7d7da" stroke="#a99ed6" stroke-width="0.5"/>
<rect x="560.8" y="384.6" width="5.7" height="2.2" fill="#d7d7da" stroke="#a99ed6" stroke-width="0.5"/>
<rect x="560.8" y="388.6" width="5.7" height="2.2" fill="#d7d7da" stroke="#a99ed6" stroke-width="0.5"/>
<rect x="560.8" y="392.6" width="5.7" height="2.2" fill="#d7d7da" stroke="#a99ed6" stroke-width="0.5"/>
<rect x="560.8" y="396.6" width="5.7" height="2.2" fill="#d7d7da" stroke="#a99ed6" stroke-width="0.5"/>
<rect x="560.8" y="400.6" width="5.7" height="2.2" fill="#d7d7da" stroke="#a99ed6" stroke-width="0.5"/>
<rect x="560.8" y="404.6" width="5.7" height="2.2" fill="#d7d7da" stroke="#a99ed6" stroke-width="0.5"/>
<rect x="555.9" y="414.7" width="4.9" height="28.0" fill="#7b6b63" />
<rect x="550.2" y="415.6" width="5.7" height="2.2" fill="#d7d7da" stroke="#a99ed6" stroke-width="0.5"/>
<rect x="550.2" y="419.6" width="5.7" height="2.2" fill="#d7d7da" stroke="#a99ed6" stroke-width="0.5"/>
<rect x="550.2" y="423.6" width="5.7" height="2.2" fill="#d7d7da" stroke="#a99ed6" stroke-width="0.5"/>
<rect x="550.2" y="427.6" width="5.7" height="2.2" fill="#d7d7da" stroke="#a99ed6" stroke-width="0.5"/>
<rect x="550.2" y="431.6" width="5.7" height="2.2" fill="#d7d7da" stroke="#a99ed6" stroke-width="0.5"/>
<rect x="550.2" y="435.6" width="5.7" height="2.2" fill="#d7d7da" stroke="#a99ed6" stroke-width="0.5"/>
<rect x="550.2" y="439.6" width="5.7" height="2.2" fill="#d7d7da" stroke="#a99ed6" stroke-width="0.5"/>
<rect x="560.8" y="415.6" width="5.7" height="2.2" fill="#d7d7da" stroke="#a99ed6" stroke-width="0.5"/>
<rect x="560.8" y="419.6" width="5.7" height="2.2" fill="#d7d7da" stroke="#a99ed6" stroke-width="0.5"/>
<rect x="560.8" y="423.6" width="5.7" height="2.2" fill="#d7d7da" stroke="#a99ed6" stroke-width="0.5"/>
<rect x="560.8" y="427.6" width="5.7" height="2.2" fill="#d7d7da" stroke="#a99ed6" stroke-width="0.5"/>
<rect x="560.8" y="431.6" width="5.7" height="2.2" fill="#d7d7da" stroke="#a99ed6" stroke-width="0.5"/>
<rect x="560.8" y="435.6" width="5.7" height="2.2" fill="#d7d7da" stroke="#a99ed6" stroke-width="0.5"/>
<rect x="560.8" y="439.6" width="5.7" height="2.2" fill="#d7d7da" stroke="#a99ed6" stroke-width="0.5"/>
<rect x="555.9" y="452.0" width="4.9" height="28.0" fill="#7b6b63" />
<rect x="550.2" y="452.9" width="5.7" height="2.2" fill="#d7d7da" stroke="#a99ed6" stroke-width="0.5"/>
<rect x="550.2" y="456.9" width="5.7" height="2.2" fill="#d7d7da" stroke="#a99ed6" stroke-width="0.5"/>
<rect x="550.2" y="460.9" width="5.7" height="2.2" fill="#d7d7da" stroke="#a99ed6" stroke-width="0.5"/>
<rect x="550.2" y="464.9" width="5.7" height="2.2" fill="#d7d7da" stroke="#a99ed6" stroke-width="0.5"/>
<rect x="550.2" y="468.9" width="5.7" height="2.2" fill="#d7d7da" stroke="#a99ed6" stroke-width="0.5"/>
<rect x="550.2" y="472.9" width="5.7" height="2.2" fill="#d7d7da" stroke="#a99ed6" stroke-width="0.5"/>
<rect x="550.2" y="476.9" width="5.7" height="2.2" fill="#d7d7da" stroke="#a99ed6" stroke-width="0.5"/>
<rect x="560.8" y="452.9" width="5.7" height="2.2" fill="#d7d7da" stroke="#a99ed6" stroke-width="0.5"/>
<rect x="560.8" y="456.9" width="5.7" height="2.2" fill="#d7d7da" stroke="#a99ed6" stroke-width="0.5"/>
<rect x="560.8" y="460.9" width="5.7" height="2.2" fill="#d7d7da" stroke="#a99ed6" stroke-width="0.5"/>
<rect x="560.8" y="464.9" width="5.7" height="2.2" fill="#d7d7da" stroke="#a99ed6" stroke-width="0.5"/>
<rect x="560.8" y="468.9" width="5.7" height="2.2" fill="#d7d7da" stroke="#a99ed6" stroke-width="0.5"/>
<rect x="560.8" y="472.9" width="5.7" height="2.2" fill="#d7d7da" stroke="#a99ed6" stroke-width="0.5"/>
<rect x="560.8" y="476.9" width="5.7" height="2.2" fill="#d7d7da" stroke="#a99ed6" stroke-width="0.5"/>
<rect x="480.4" y="460.2" width="5.2" height="28.0" fill="#7b6b63" />
<rect x="474.3" y="461.2" width="6.1" height="2.6" fill="#d7d7da" stroke="#a99ed6" stroke-width="0.5"/>
<rect x="474.3" y="465.9" width="6.1" height="2.6" fill="#d7d7da" stroke="#a99ed6" stroke-width="0.5"/>
<rect x="474.3" y="470.6" width="6.1" height="2.6" fill="#d7d7da" stroke="#a99ed6" stroke-width="0.5"/>
<rect x="474.3" y="475.2" width="6.1" height="2.6" fill="#d7d7da" stroke="#a99ed6" stroke-width="0.5"/>
<rect x="474.3" y="479.9" width="6.1" height="2.6" fill="#d7d7da" stroke="#a99ed6" stroke-width="0.5"/>
<rect x="474.3" y="484.6" width="6.1" height="2.6" fill="#d7d7da" stroke="#a99ed6" stroke-width="0.5"/>
<rect x="485.7" y="461.2" width="6.1" height="2.6" fill="#d7d7da" stroke="#a99ed6" stroke-width="0.5"/>
<rect x="485.7" y="465.9" width="6.1" height="2.6" fill="#d7d7da" stroke="#a99ed6" stroke-width="0.5"/>
<rect x="485.7" y="470.6" width="6.1" height="2.6" fill="#d7d7da" stroke="#a99ed6" stroke-width="0.5"/>
<rect x="485.7" y="475.2" width="6.1" height="2.6" fill="#d7d7da" stroke="#a99ed6" stroke-width="0.5"/>
<rect x="485.7" y="479.9" width="6.1" height="2.6" fill="#d7d7da" stroke="#a99ed6" stroke-width="0.5"/>
<rect x="485.7" y="484.6" width="6.1" height="2.6" fill="#d7d7da" stroke="#a99ed6" stroke-width="0.5"/>
<polygon points="595.7,370.3 782.3,370.3 790.5,378.5 790.5,534.7 595.7,534.7" fill="#7b6b63" stroke="#8f84c4" stroke-width="0.7"/>
<path d="M648.00,454.00 V482.56 C648.00,491.80 653.46,496.00 661.02,496.00 C668.58,496.00 674.04,491.80 674.04,482.56 V454.00 M682.02,464.92 C682.86,457.78 687.90,454.00 693.78,454.00 C701.34,454.00 705.54,458.62 705.54,464.92 C705.54,470.80 702.18,475.00 682.02,496.00 H706.38 M714.36,464.92 C715.20,457.78 720.24,454.00 726.12,454.00 C733.68,454.00 737.88,458.62 737.88,464.92 C737.88,470.80 734.52,475.00 714.36,496.00 H738.72 " fill="none" stroke="#66605d" stroke-width="2" stroke-linecap="round" stroke-linejoin="round"/>
<rect x="581.7" y="377.0" width="12.8" height="1.9" fill="#d7d7da" stroke="#a99ed6" stroke-width="0.5"/>
<rect x="581.7" y="380.5" width="12.8" height="1.9" fill="#d7d7da" stroke="#a99ed6" stroke-width="0.5"/>
<rect x="581.7" y="384.0" width="12.8" height="1.9" fill="#d7d7da" stroke="#a99ed6" stroke-width="0.5"/>
<rect x="581.7" y="387.5" width="12.8" height="1.9" fill="#d7d7da" stroke="#a99ed6" stroke-width="0.5"/>
<rect x="581.7" y="391.0" width="12.8" height="1.9" fill="#d7d7da" stroke="#a99ed6" stroke-width="0.5"/>
<rect x="581.7" y="394.6" width="12.8" height="1.9" fill="#d7d7da" stroke="#a99ed6" stroke-width="0.5"/>
<rect x="581.7" y="398.1" width="12.8" height="1.9" fill="#d7d7da" stroke="#a99ed6" stroke-width="0.5"/>
<rect x="581.7" y="401.6" width="12.8" height="1.9" fill="#d7d7da" stroke="#a99ed6" stroke-width="0.5"/>
<rect x="581.7" y="405.1" width="12.8" height="1.9" fill="#d7d7da" stroke="#a99ed6" stroke-width="0.5"/>
<rect x="581.7" y="408.6" width="12.8" height="1.9" fill="#d7d7da" stroke="#a99ed6" stroke-width="0.5"/>
<rect x="581.7" y="412.1" width="12.8" height="1.9" fill="#d7d7da" stroke="#a99ed6" stroke-width="0.5"/>
<rect x="581.7" y="415.6" width="12.8" height="1.9" fill="#d7d7da" stroke="#a99ed6" stroke-width="0.5"/>
<rect x="581.7" y="419.1" width="12.8" height="1.9" fill="#d7d7da" stroke="#a99ed6" stroke-width="0.5"/>
<rect x="581.7" y="422.6" width="12.8" height="1.9" fill="#d7d7da" stroke="#a99ed6" stroke-width="0.5"/>
<rect x="581.7" y="426.2" width="12.8" height="1.9" fill="#d7d7da" stroke="#a99ed6" stroke-width="0.5"/>
<rect x="581.7" y="429.7" width="12.8" height="1.9" fill="#d7d7da" stroke="#a99ed6" stroke-width="0.5"/>
<rect x="581.7" y="433.2" width="12.8" height="1.9" fill="#d7d7da" stroke="#a99ed6" stroke-width="0.5"/>
<rect x="581.7" y="436.7" width="12.8" height="1.9" fill="#d7d7da" stroke="#a99ed6" stroke-width="0.5"/>
<rect x="581.7" y="440.2" width="12.8" height="1.9" fill="#d7d7da" stroke="#a99ed6" stroke-width="0.5"/>
<rect x="581.7" y="443.7" width="12.8" height="1.9" fill="#d7d7da" stroke="#a99ed6" stroke-width="0.5"/>
<rect x="581.7" y="447.2" width="12.8" height="1.9" fill="#d7d7da" stroke="#a99ed6" stroke-width="0.5"/>
<rect x="581.7" y="450.7" width="12.8" height="1.9" fill="#d7d7da" stroke="#a99ed6" stroke-width="0.5"/>
<rect x="581.7" y="454.2" width="12.8" height="1.9" fill="#d7d7da" stroke="#a99ed6" stroke-width="0.5"/>
<rect x="581.7" y="457.8" width="12.8" height="1.9" fill="#d7d7da" stroke="#a99ed6" stroke-width="0.5"/>
<rect x="581.7" y="461.3" width="12.8" height="1.9" fill="#d7d7da" stroke="#a99ed6" stroke-width="0.5"/>
<rect x="581.7" y="464.8" width="12.8" height="1.9" fill="#d7d7da" stroke="#a99ed6" stroke-width="0.5"/>
<rect x="581.7" y="468.3" width="12.8" height="1.9" fill="#d7d7da" stroke="#a99ed6" stroke-width="0.5"/>
<rect x="581.7" y="471.8" width="12.8" height="1.9" fill="#d7d7da" stroke="#a99ed6" stroke-width="0.5"/>
<rect x="581.7" y="475.3" width="12.8" height="1.9" fill="#d7d7da" stroke="#a99ed6" stroke-width="0.5"/>
<rect x="581.7" y="478.8" width="12.8" height="1.9" fill="#d7d7da" stroke="#a99ed6" stroke-width="0.5"/>
<rect x="581.7" y="482.3" width="12.8" height="1.9" fill="#d7d7da" stroke="#a99ed6" stroke-width="0.5"/>
<rect x="581.7" y="485.8" width="12.8" height="1.9" fill="#d7d7da" stroke="#a99ed6" stroke-width="0.5"/>
<rect x="581.7" y="489.4" width="12.8" height="1.9" fill="#d7d7da" stroke="#a99ed6" stroke-width="0.5"/>
<rect x="581.7" y="492.9" width="12.8" height="1.9" fill="#d7d7da" stroke="#a99ed6" stroke-width="0.5"/>
<rect x="581.7" y="496.4" width="12.8" height="1.9" fill="#d7d7da" stroke="#a99ed6" stroke-width="0.5"/>
<rect x="581.7" y="499.9" width="12.8" height="1.9" fill="#d7d7da" stroke="#a99ed6" stroke-width="0.5"/>
<rect x="581.7" y="503.4" width="12.8" height="1.9" fill="#d7d7da" stroke="#a99ed6" stroke-width="0.5"/>
<rect x="581.7" y="506.9" width="12.8" height="1.9" fill="#d7d7da" stroke="#a99ed6" stroke-width="0.5"/>
<rect x="581.7" y="510.4" width="12.8" height="1.9" fill="#d7d7da" stroke="#a99ed6" stroke-width="0.5"/>
<rect x="581.7" y="513.9" width="12.8" height="1.9" fill="#d7d7da" stroke="#a99ed6" stroke-width="0.5"/>
<rect x="581.7" y="517.4" width="12.8" height="1.9" fill="#d7d7da" stroke="#a99ed6" stroke-width="0.5"/>
<rect x="581.7" y="521.0" width="12.8" height="1.9" fill="#d7d7da" stroke="#a99ed6" stroke-width="0.5"/>
<rect x="581.7" y="524.5" width="12.8" height="1.9" fill="#d7d7da" stroke="#a99ed6" stroke-width="0.5"/>
<rect x="581.7" y="528.0" width="12.8" height="1.9" fill="#d7d7da" stroke="#a99ed6" stroke-width="0.5"/>
<rect x="581.7" y="531.5" width="12.8" height="1.9" fill="#d7d7da" stroke="#a99ed6" stroke-width="0.5"/>
<rect x="599.8" y="356.3" width="1.9" height="12.9" fill="#d7d7da" stroke="#a99ed6" stroke-width="0.5"/>
<rect x="603.3" y="356.3" width="1.9" height="12.9" fill="#d7d7da" stroke="#a99ed6" stroke-width="0.5"/>
<rect x="606.8" y="356.3" width="1.9" height="12.9" fill="#d7d7da" stroke="#a99ed6" stroke-width="0.5"/>
<rect x="610.2" y="356.3" width="1.9" height="12.9" fill="#d7d7da" stroke="#a99ed6" stroke-width="0.5"/>
<rect x="613.7" y="356.3" width="1.9" height="12.9" fill="#d7d7da" stroke="#a99ed6" stroke-width="0.5"/>
<rect x="617.2" y="356.3" width="1.9" height="12.9" fill="#d7d7da" stroke="#a99ed6" stroke-width="0.5"/>
<rect x="620.7" y="356.3" width="1.9" height="12.9" fill="#d7d7da" stroke="#a99ed6" stroke-width="0.5"/>
<rect x="624.2" y="356.3" width="1.9" height="12.9" fill="#d7d7da" stroke="#a99ed6" stroke-width="0.5"/>
<rect x="627.6" y="356.3" width="1.9" height="12.9" fill="#d7d7da" stroke="#a99ed6" stroke-width="0.5"/>
<rect x="631.1" y="356.3" width="1.9" height="12.9" fill="#d7d7da" stroke="#a99ed6" stroke-width="0.5"/>
<rect x="634.6" y="356.3" width="1.9" height="12.9" fill="#d7d7da" stroke="#a99ed6" stroke-width="0.5"/>
<rect x="638.1" y="356.3" width="1.9" height="12.9" fill="#d7d7da" stroke="#a99ed6" stroke-width="0.5"/>
<rect x="641.6" y="356.3" width="1.9" height="12.9" fill="#d7d7da" stroke="#a99ed6" stroke-width="0.5"/>
<rect x="645.0" y="356.3" width="1.9" height="12.9" fill="#d7d7da" stroke="#a99ed6" stroke-width="0.5"/>
<rect x="648.5" y="356.3" width="1.9" height="12.9" fill="#d7d7da" stroke="#a99ed6" stroke-width="0.5"/>
<rect x="652.0" y="356.3" width="1.9" height="12.9" fill="#d7d7da" stroke="#a99ed6" stroke-width="0.5"/>
<rect x="655.5" y="356.3" width="1.9" height="12.9" fill="#d7d7da" stroke="#a99ed6" stroke-width="0.5"/>
<rect x="659.0" y="356.3" width="1.9" height="12.9" fill="#d7d7da" stroke="#a99ed6" stroke-width="0.5"/>
<rect x="662.5" y="356.3" width="1.9" height="12.9" fill="#d7d7da" stroke="#a99ed6" stroke-width="0.5"/>
<rect x="665.9" y="356.3" width="1.9" height="12.9" fill="#d7d7da" stroke="#a99ed6" stroke-width="0.5"/>
<rect x="669.4" y="356.3" width="1.9" height="12.9" fill="#d7d7da" stroke="#a99ed6" stroke-width="0.5"/>
<rect x="672.9" y="356.3" width="1.9" height="12.9" fill="#d7d7da" stroke="#a99ed6" stroke-width="0.5"/>
<rect x="676.4" y="356.3" width="1.9" height="12.9" fill="#d7d7da" stroke="#a99ed6" stroke-width="0.5"/>
<rect x="679.9" y="356.3" width="1.9" height="12.9" fill="#d7d7da" stroke="#a99ed6" stroke-width="0.5"/>
<rect x="683.3" y="356.3" width="1.9" height="12.9" fill="#d7d7da" stroke="#a99ed6" stroke-width="0.5"/>
<rect x="686.8" y="356.3" width="1.9" height="12.9" fill="#d7d7da" stroke="#a99ed6" stroke-width="0.5"/>
<rect x="690.3" y="356.3" width="1.9" height="12.9" fill="#d7d7da" stroke="#a99ed6" stroke-width="0.5"/>
<rect x="693.8" y="356.3" width="1.9" height="12.9" fill="#d7d7da" stroke="#a99ed6" stroke-width="0.5"/>
<rect x="697.3" y="356.3" width="1.9" height="12.9" fill="#d7d7da" stroke="#a99ed6" stroke-width="0.5"/>
<rect x="700.8" y="356.3" width="1.9" height="12.9" fill="#d7d7da" stroke="#a99ed6" stroke-width="0.5"/>
<rect x="704.2" y="356.3" width="1.9" height="12.9" fill="#d7d7da" stroke="#a99ed6" stroke-width="0.5"/>
<rect x="707.7" y="356.3" width="1.9" height="12.9" fill="#d7d7da" stroke="#a99ed6" stroke-width="0.5"/>
<rect x="711.2" y="356.3" width="1.9" height="12.9" fill="#d7d7da" stroke="#a99ed6" stroke-width="0.5"/>
<rect x="714.7" y="356.3" width="1.9" height="12.9" fill="#d7d7da" stroke="#a99ed6" stroke-width="0.5"/>
<rect x="718.2" y="356.3" width="1.9" height="12.9" fill="#d7d7da" stroke="#a99ed6" stroke-width="0.5"/>
<rect x="721.6" y="356.3" width="1.9" height="12.9" fill="#d7d7da" stroke="#a99ed6" stroke-width="0.5"/>
<rect x="725.1" y="356.3" width="1.9" height="12.9" fill="#d7d7da" stroke="#a99ed6" stroke-width="0.5"/>
<rect x="728.6" y="356.3" width="1.9" height="12.9" fill="#d7d7da" stroke="#a99ed6" stroke-width="0.5"/>
<rect x="732.1" y="356.3" width="1.9" height="12.9" fill="#d7d7da" stroke="#a99ed6" stroke-width="0.5"/>
<rect x="735.6" y="356.3" width="1.9" height="12.9" fill="#d7d7da" stroke="#a99ed6" stroke-width="0.5"/>
<rect x="739.0" y="356.3" width="1.9" height="12.9" fill="#d7d7da" stroke="#a99ed6" stroke-width="0.5"/>
<rect x="742.5" y="356.3" width="1.9" height="12.9" fill="#d7d7da" stroke="#a99ed6" stroke-width="0.5"/>
<rect x="746.0" y="356.3" width="1.9" height="12.9" fill="#d7d7da" stroke="#a99ed6" stroke-width="0.5"/>
<rect x="749.5" y="356.3" width="1.9" height="12.9" fill="#d7d7da" stroke="#a99ed6" stroke-width="0.5"/>
<rect x="753.0" y="356.3" width="1.9" height="12.9" fill="#d7d7da" stroke="#a99ed6" stroke-width="0.5"/>
<rect x="756.5" y="356.3" width="1.9" height="12.9" fill="#d7d7da" stroke="#a99ed6" stroke-width="0.5"/>
<rect x="759.9" y="356.3" width="1.9" height="12.9" fill="#d7d7da" stroke="#a99ed6" stroke-width="0.5"/>
<rect x="763.4" y="356.3" width="1.9" height="12.9" fill="#d7d7da" stroke="#a99ed6" stroke-width="0.5"/>
<rect x="766.9" y="356.3" width="1.9" height="12.9" fill="#d7d7da" stroke="#a99ed6" stroke-width="0.5"/>
<rect x="770.4" y="356.3" width="1.9" height="12.9" fill="#d7d7da" stroke="#a99ed6" stroke-width="0.5"/>
<rect x="773.9" y="356.3" width="1.9" height="12.9" fill="#d7d7da" stroke="#a99ed6" stroke-width="0.5"/>
<rect x="777.3" y="356.3" width="1.9" height="12.9" fill="#d7d7da" stroke="#a99ed6" stroke-width="0.5"/>
<rect x="780.8" y="356.3" width="1.9" height="12.9" fill="#d7d7da" stroke="#a99ed6" stroke-width="0.5"/>
<rect x="784.3" y="356.3" width="1.9" height="12.9" fill="#d7d7da" stroke="#a99ed6" stroke-width="0.5"/>
<rect x="791.7" y="375.8" width="12.8" height="1.9" fill="#d7d7da" stroke="#a99ed6" stroke-width="0.5"/>
<rect x="791.7" y="379.3" width="12.8" height="1.9" fill="#d7d7da" stroke="#a99ed6" stroke-width="0.5"/>
<rect x="791.7" y="382.7" width="12.8" height="1.9" fill="#d7d7da" stroke="#a99ed6" stroke-width="0.5"/>
<rect x="791.7" y="386.2" width="12.8" height="1.9" fill="#d7d7da" stroke="#a99ed6" stroke-width="0.5"/>
<rect x="791.7" y="389.7" width="12.8" height="1.9" fill="#d7d7da" stroke="#a99ed6" stroke-width="0.5"/>
<rect x="791.7" y="393.2" width="12.8" height="1.9" fill="#d7d7da" stroke="#a99ed6" stroke-width="0.5"/>
<rect x="791.7" y="396.7" width="12.8" height="1.9" fill="#d7d7da" stroke="#a99ed6" stroke-width="0.5"/>
<rect x="791.7" y="400.1" width="12.8" height="1.9" fill="#d7d7da" stroke="#a99ed6" stroke-width="0.5"/>
<rect x="791.7" y="403.6" width="12.8" height="1.9" fill="#d7d7da" stroke="#a99ed6" stroke-width="0.5"/>
<rect x="791.7" y="407.1" width="12.8" height="1.9" fill="#d7d7da" stroke="#a99ed6" stroke-width="0.5"/>
<rect x="791.7" y="410.6" width="12.8" height="1.9" fill="#d7d7da" stroke="#a99ed6" stroke-width="0.5"/>
<rect x="791.7" y="414.1" width="12.8" height="1.9" fill="#d7d7da" stroke="#a99ed6" stroke-width="0.5"/>
<rect x="791.7" y="417.5" width="12.8" height="1.9" fill="#d7d7da" stroke="#a99ed6" stroke-width="0.5"/>
<rect x="791.7" y="421.0" width="12.8" height="1.9" fill="#d7d7da" stroke="#a99ed6" stroke-width="0.5"/>
<rect x="791.7" y="424.5" width="12.8" height="1.9" fill="#d7d7da" stroke="#a99ed6" stroke-width="0.5"/>
<rect x="791.7" y="428.0" width="12.8" height="1.9" fill="#d7d7da" stroke="#a99ed6" stroke-width="0.5"/>
<rect x="791.7" y="431.4" width="12.8" height="1.9" fill="#d7d7da" stroke="#a99ed6" stroke-width="0.5"/>
<rect x="791.7" y="434.9" width="12.8" height="1.9" fill="#d7d7da" stroke="#a99ed6" stroke-width="0.5"/>
<rect x="791.7" y="438.4" width="12.8" height="1.9" fill="#d7d7da" stroke="#a99ed6" stroke-width="0.5"/>
<rect x="791.7" y="441.9" width="12.8" height="1.9" fill="#d7d7da" stroke="#a99ed6" stroke-width="0.5"/>
<rect x="791.7" y="445.4" width="12.8" height="1.9" fill="#d7d7da" stroke="#a99ed6" stroke-width="0.5"/>
<rect x="791.7" y="448.8" width="12.8" height="1.9" fill="#d7d7da" stroke="#a99ed6" stroke-width="0.5"/>
<rect x="791.7" y="452.3" width="12.8" height="1.9" fill="#d7d7da" stroke="#a99ed6" stroke-width="0.5"/>
<rect x="791.7" y="455.8" width="12.8" height="1.9" fill="#d7d7da" stroke="#a99ed6" stroke-width="0.5"/>
<rect x="791.7" y="459.3" width="12.8" height="1.9" fill="#d7d7da" stroke="#a99ed6" stroke-width="0.5"/>
<rect x="791.7" y="462.7" width="12.8" height="1.9" fill="#d7d7da" stroke="#a99ed6" stroke-width="0.5"/>
<rect x="791.7" y="466.2" width="12.8" height="1.9" fill="#d7d7da" stroke="#a99ed6" stroke-width="0.5"/>
<rect x="791.7" y="469.7" width="12.8" height="1.9" fill="#d7d7da" stroke="#a99ed6" stroke-width="0.5"/>
<rect x="791.7" y="473.2" width="12.8" height="1.9" fill="#d7d7da" stroke="#a99ed6" stroke-width="0.5"/>
<rect x="791.7" y="476.7" width="12.8" height="1.9" fill="#d7d7da" stroke="#a99ed6" stroke-width="0.5"/>
<rect x="791.7" y="480.1" width="12.8" height="1.9" fill="#d7d7da" stroke="#a99ed6" stroke-width="0.5"/>
<rect x="791.7" y="483.6" width="12.8" height="1.9" fill="#d7d7da" stroke="#a99ed6" stroke-width="0.5"/>
<rect x="791.7" y="487.1" width="12.8" height="1.9" fill="#d7d7da" stroke="#a99ed6" stroke-width="0.5"/>
<rect x="791.7" y="490.6" width="12.8" height="1.9" fill="#d7d7da" stroke="#a99ed6" stroke-width="0.5"/>
<rect x="791.7" y="494.1" width="12.8" height="1.9" fill="#d7d7da" stroke="#a99ed6" stroke-width="0.5"/>
<rect x="791.7" y="497.5" width="12.8" height="1.9" fill="#d7d7da" stroke="#a99ed6" stroke-width="0.5"/>
<rect x="791.7" y="501.0" width="12.8" height="1.9" fill="#d7d7da" stroke="#a99ed6" stroke-width="0.5"/>
<rect x="791.7" y="504.5" width="12.8" height="1.9" fill="#d7d7da" stroke="#a99ed6" stroke-width="0.5"/>
<rect x="791.7" y="508.0" width="12.8" height="1.9" fill="#d7d7da" stroke="#a99ed6" stroke-width="0.5"/>
<rect x="791.7" y="511.4" width="12.8" height="1.9" fill="#d7d7da" stroke="#a99ed6" stroke-width="0.5"/>
<rect x="791.7" y="514.9" width="12.8" height="1.9" fill="#d7d7da" stroke="#a99ed6" stroke-width="0.5"/>
<rect x="791.7" y="518.4" width="12.8" height="1.9" fill="#d7d7da" stroke="#a99ed6" stroke-width="0.5"/>
<rect x="791.7" y="521.9" width="12.8" height="1.9" fill="#d7d7da" stroke="#a99ed6" stroke-width="0.5"/>
<rect x="791.7" y="525.4" width="12.8" height="1.9" fill="#d7d7da" stroke="#a99ed6" stroke-width="0.5"/>
<rect x="791.7" y="528.8" width="12.8" height="1.9" fill="#d7d7da" stroke="#a99ed6" stroke-width="0.5"/>
<rect x="791.7" y="532.3" width="12.8" height="1.9" fill="#d7d7da" stroke="#a99ed6" stroke-width="0.5"/>
<rect x="583.0" y="388.0" width="5.0" height="2.0" fill="#2b8a2b" />
<rect x="583.0" y="392.0" width="5.0" height="2.0" fill="#2b8a2b" />
<rect x="583.0" y="396.0" width="5.0" height="2.0" fill="#2b8a2b" />
<rect x="583.0" y="455.0" width="5.0" height="2.0" fill="#2b8a2b" />
<rect x="583.0" y="459.0" width="5.0" height="2.0" fill="#2b8a2b" />
<rect x="583.0" y="463.0" width="5.0" height="2.0" fill="#2b8a2b" />
<rect x="583.0" y="520.0" width="5.0" height="2.0" fill="#2b8a2b" />
<rect x="583.0" y="524.0" width="5.0" height="2.0" fill="#2b8a2b" />
<rect x="797.0" y="388.0" width="5.0" height="2.0" fill="#2b8a2b" />
<rect x="797.0" y="392.0" width="5.0" height="2.0" fill="#2b8a2b" />
<rect x="797.0" y="398.0" width="5.0" height="2.0" fill="#2b8a2b" />
<rect x="797.0" y="420.0" width="5.0" height="2.0" fill="#2b8a2b" />
<rect x="797.0" y="424.0" width="5.0" height="2.0" fill="#2b8a2b" />
<rect x="797.0" y="428.0" width="5.0" height="2.0" fill="#2b8a2b" />
<rect x="797.0" y="475.0" width="5.0" height="2.0" fill="#2b8a2b" />
<rect x="797.0" y="480.0" width="5.0" height="2.0" fill="#2b8a2b" />
<rect x="797.0" y="485.0" width="5.0" height="2.0" fill="#2b8a2b" />
<rect x="797.0" y="490.0" width="5.0" height="2.0" fill="#2b8a2b" />
<rect x="625.0" y="361.0" width="2.2" height="6.0" fill="#2b8a2b" />
<rect x="629.0" y="361.0" width="2.2" height="6.0" fill="#2b8a2b" />
<rect x="633.0" y="361.0" width="2.2" height="6.0" fill="#2b8a2b" />
<rect x="662.0" y="361.0" width="2.2" height="6.0" fill="#2b8a2b" />
<rect x="666.0" y="361.0" width="2.2" height="6.0" fill="#2b8a2b" />
<rect x="670.0" y="361.0" width="2.2" height="6.0" fill="#2b8a2b" />
<rect x="690.0" y="361.0" width="2.2" height="6.0" fill="#2b8a2b" />
<rect x="694.0" y="361.0" width="2.2" height="6.0" fill="#2b8a2b" />
<rect x="722.0" y="361.0" width="2.2" height="6.0" fill="#2b8a2b" />
<rect x="726.0" y="361.0" width="2.2" height="6.0" fill="#2b8a2b" />
<rect x="730.0" y="361.0" width="2.2" height="6.0" fill="#2b8a2b" />
<rect x="762.0" y="361.0" width="2.2" height="6.0" fill="#2b8a2b" />
<rect x="766.0" y="361.0" width="2.2" height="6.0" fill="#2b8a2b" />
<rect x="773.0" y="361.0" width="2.2" height="6.0" fill="#2b8a2b" />
<rect x="777.0" y="361.0" width="2.2" height="6.0" fill="#2b8a2b" />
<rect x="600.0" y="382.0" width="6.0" height="6.0" fill="#5e7856" stroke="#8a8a8a" stroke-width="0.8"/>
<rect x="620.0" y="381.0" width="7.0" height="6.0" fill="#5e7856" stroke="#8a8a8a" stroke-width="0.8"/>
<rect x="628.0" y="381.0" width="7.0" height="6.0" fill="#5e7856" stroke="#8a8a8a" stroke-width="0.8"/>
<rect x="663.0" y="381.0" width="7.0" height="6.0" fill="#5e7856" stroke="#8a8a8a" stroke-width="0.8"/>
<rect x="670.0" y="381.0" width="7.0" height="6.0" fill="#5e7856" stroke="#8a8a8a" stroke-width="0.8"/>
<rect x="684.0" y="387.0" width="10.0" height="10.0" fill="#5e7856" stroke="#8a8a8a" stroke-width="0.8"/>
<rect x="697.0" y="387.0" width="10.0" height="10.0" fill="#5e7856" stroke="#8a8a8a" stroke-width="0.8"/>
<rect x="713.0" y="381.0" width="7.0" height="6.0" fill="#5e7856" stroke="#8a8a8a" stroke-width="0.8"/>
<rect x="721.0" y="381.0" width="7.0" height="6.0" fill="#5e7856" stroke="#8a8a8a" stroke-width="0.8"/>
<rect x="744.0" y="376.0" width="8.0" height="7.0" fill="#5e7856" stroke="#8a8a8a" stroke-width="0.8"/>
<rect x="755.0" y="376.0" width="8.0" height="7.0" fill="#5e7856" stroke="#8a8a8a" stroke-width="0.8"/>
<rect x="744.0" y="387.0" width="8.0" height="7.0" fill="#5e7856" stroke="#8a8a8a" stroke-width="0.8"/>
<rect x="755.0" y="387.0" width="8.0" height="7.0" fill="#5e7856" stroke="#8a8a8a" stroke-width="0.8"/>
<rect x="636.0" y="400.0" width="10.0" height="10.0" fill="#5e7856" stroke="#8a8a8a" stroke-width="0.8"/>
<rect x="650.0" y="400.0" width="10.0" height="10.0" fill="#5e7856" stroke="#8a8a8a" stroke-width="0.8"/>
<rect x="722.0" y="403.0" width="10.0" height="11.0" fill="#5e7856" stroke="#8a8a8a" stroke-width="0.8"/>
<rect x="736.0" y="403.0" width="10.0" height="11.0" fill="#5e7856" stroke="#8a8a8a" stroke-width="0.8"/>
<rect x="770.0" y="406.0" width="5.0" height="5.0" fill="#5e7856" stroke="#8a8a8a" stroke-width="0.8"/>
<rect x="776.0" y="406.0" width="5.0" height="5.0" fill="#5e7856" stroke="#8a8a8a" stroke-width="0.8"/>
<rect x="770.0" y="436.0" width="5.0" height="5.0" fill="#5e7856" stroke="#8a8a8a" stroke-width="0.8"/>
<rect x="776.0" y="436.0" width="5.0" height="5.0" fill="#5e7856" stroke="#8a8a8a" stroke-width="0.8"/>
<rect x="735.0" y="431.0" width="11.0" height="10.0" fill="#5e7856" stroke="#8a8a8a" stroke-width="0.8"/>
<rect x="735.0" y="444.0" width="11.0" height="10.0" fill="#5e7856" stroke="#8a8a8a" stroke-width="0.8"/>
<rect x="755.0" y="451.0" width="5.0" height="5.0" fill="#5e7856" stroke="#8a8a8a" stroke-width="0.8"/>
<rect x="762.0" y="451.0" width="5.0" height="5.0" fill="#5e7856" stroke="#8a8a8a" stroke-width="0.8"/>
<rect x="755.0" y="459.0" width="5.0" height="5.0" fill="#5e7856" stroke="#8a8a8a" stroke-width="0.8"/>
<rect x="762.0" y="459.0" width="5.0" height="5.0" fill="#5e7856" stroke="#8a8a8a" stroke-width="0.8"/>
<rect x="770.0" y="470.0" width="8.0" height="7.0" fill="#5e7856" stroke="#8a8a8a" stroke-width="0.8"/>
<rect x="770.0" y="480.0" width="8.0" height="7.0" fill="#5e7856" stroke="#8a8a8a" stroke-width="0.8"/>
<rect x="761.0" y="501.0" width="13.0" height="10.0" fill="#5e7856" stroke="#8a8a8a" stroke-width="0.8"/>
<rect x="761.0" y="514.0" width="13.0" height="10.0" fill="#5e7856" stroke="#8a8a8a" stroke-width="0.8"/>
<rect x="600.0" y="463.0" width="5.0" height="8.0" fill="#5e7856" stroke="#8a8a8a" stroke-width="0.8"/>
<rect x="600.0" y="475.0" width="5.0" height="8.0" fill="#5e7856" stroke="#8a8a8a" stroke-width="0.8"/>
<rect x="619.0" y="500.0" width="5.0" height="6.0" fill="#5e7856" stroke="#8a8a8a" stroke-width="0.8"/>
<rect x="625.0" y="500.0" width="5.0" height="6.0" fill="#5e7856" stroke="#8a8a8a" stroke-width="0.8"/>
<circle cx="754.0" cy="368.0" r="2.4" fill="none" stroke="#8e8e8e" stroke-width="1.2"/>
<circle cx="763.0" cy="372.0" r="2.4" fill="none" stroke="#8e8e8e" stroke-width="1.2"/>
<circle cx="777.0" cy="385.0" r="2.4" fill="none" stroke="#8e8e8e" stroke-width="1.2"/>
<circle cx="777.0" cy="398.0" r="2.4" fill="none" stroke="#8e8e8e" stroke-width="1.2"/>
<circle cx="780.0" cy="410.0" r="2.4" fill="none" stroke="#8e8e8e" stroke-width="1.2"/>
<circle cx="783.0" cy="420.0" r="2.4" fill="none" stroke="#8e8e8e" stroke-width="1.2"/>
<circle cx="776.0" cy="430.0" r="2.4" fill="none" stroke="#8e8e8e" stroke-width="1.2"/>
<circle cx="785.0" cy="445.0" r="2.4" fill="none" stroke="#8e8e8e" stroke-width="1.2"/>
<circle cx="779.0" cy="455.0" r="2.4" fill="none" stroke="#8e8e8e" stroke-width="1.2"/>
<circle cx="785.0" cy="470.0" r="2.4" fill="none" stroke="#8e8e8e" stroke-width="1.2"/>
<circle cx="785.0" cy="484.0" r="2.4" fill="none" stroke="#8e8e8e" stroke-width="1.2"/>
<circle cx="775.0" cy="497.0" r="2.4" fill="none" stroke="#8e8e8e" stroke-width="1.2"/>
<circle cx="784.0" cy="505.0" r="2.4" fill="none" stroke="#8e8e8e" stroke-width="1.2"/>
<circle cx="780.0" cy="520.0" r="2.4" fill="none" stroke="#8e8e8e" stroke-width="1.2"/>
<circle cx="768.0" cy="527.0" r="2.4" fill="none" stroke="#8e8e8e" stroke-width="1.2"/>
<circle cx="770.0" cy="395.0" r="2.4" fill="none" stroke="#8e8e8e" stroke-width="1.2"/>
<circle cx="786.0" cy="393.0" r="2.4" fill="none" stroke="#8e8e8e" stroke-width="1.2"/>
<circle cx="640.0" cy="518.0" r="2.4" fill="none" stroke="#8e8e8e" stroke-width="1.2"/>
<circle cx="632.0" cy="530.0" r="2.4" fill="none" stroke="#8e8e8e" stroke-width="1.2"/>
<circle cx="600.0" cy="410.0" r="2.4" fill="none" stroke="#8e8e8e" stroke-width="1.2"/>
<circle cx="703.0" cy="375.0" r="2.4" fill="none" stroke="#8e8e8e" stroke-width="1.2"/>
<circle cx="680.0" cy="375.0" r="2.4" fill="none" stroke="#8e8e8e" stroke-width="1.2"/>
<circle cx="640.0" cy="376.0" r="2.4" fill="none" stroke="#8e8e8e" stroke-width="1.2"/>
<circle cx="683.0" cy="403.0" r="2.4" fill="none" stroke="#8e8e8e" stroke-width="1.2"/>
<circle cx="705.0" cy="415.0" r="2.4" fill="none" stroke="#8e8e8e" stroke-width="1.2"/>
<circle cx="620.0" cy="445.0" r="2.4" fill="none" stroke="#8e8e8e" stroke-width="1.2"/>
<circle cx="775.0" cy="380.0" r="3.2" fill="#5e7856" stroke="#8a8a8a" stroke-width="0.7"/>
<circle cx="778.0" cy="411.0" r="3.2" fill="#5e7856" stroke="#8a8a8a" stroke-width="0.7"/>
<circle cx="778.0" cy="423.0" r="3.2" fill="#5e7856" stroke="#8a8a8a" stroke-width="0.7"/>
<circle cx="778.0" cy="468.0" r="3.2" fill="#5e7856" stroke="#8a8a8a" stroke-width="0.7"/>
<circle cx="639.0" cy="525.0" r="3.2" fill="#5e7856" stroke="#8a8a8a" stroke-width="0.7"/>
<circle cx="638.0" cy="506.0" r="3.2" fill="#5e7856" stroke="#8a8a8a" stroke-width="0.7"/>
<rect x="685.5" y="326.0" width="5.4" height="12.0" fill="#7b6b63" />
<rect x="679.2" y="326.9" width="6.3" height="2.2" fill="#d7d7da" stroke="#a99ed6" stroke-width="0.5"/>
<rect x="679.2" y="330.9" width="6.3" height="2.2" fill="#d7d7da" stroke="#a99ed6" stroke-width="0.5"/>
<rect x="679.2" y="334.9" width="6.3" height="2.2" fill="#d7d7da" stroke="#a99ed6" stroke-width="0.5"/>
<rect x="690.9" y="326.9" width="6.3" height="2.2" fill="#d7d7da" stroke="#a99ed6" stroke-width="0.5"/>
<rect x="690.9" y="330.9" width="6.3" height="2.2" fill="#d7d7da" stroke="#a99ed6" stroke-width="0.5"/>
<rect x="690.9" y="334.9" width="6.3" height="2.2" fill="#d7d7da" stroke="#a99ed6" stroke-width="0.5"/>
<rect x="722.1" y="326.0" width="5.4" height="12.0" fill="#7b6b63" />
<rect x="715.8" y="326.9" width="6.3" height="2.2" fill="#d7d7da" stroke="#a99ed6" stroke-width="0.5"/>
<rect x="715.8" y="330.9" width="6.3" height="2.2" fill="#d7d7da" stroke="#a99ed6" stroke-width="0.5"/>
<rect x="715.8" y="334.9" width="6.3" height="2.2" fill="#d7d7da" stroke="#a99ed6" stroke-width="0.5"/>
<rect x="727.5" y="326.9" width="6.3" height="2.2" fill="#d7d7da" stroke="#a99ed6" stroke-width="0.5"/>
<rect x="727.5" y="330.9" width="6.3" height="2.2" fill="#d7d7da" stroke="#a99ed6" stroke-width="0.5"/>
<rect x="727.5" y="334.9" width="6.3" height="2.2" fill="#d7d7da" stroke="#a99ed6" stroke-width="0.5"/>
<circle cx="680.1" cy="342.3" r="2.9" fill="none" stroke="#fff" stroke-width="1.9"/>
<circle cx="718.2" cy="342.3" r="2.9" fill="none" stroke="#fff" stroke-width="1.9"/>
<rect x="746.2" y="333.0" width="4.5" height="3.8" fill="#d7d7da" stroke="#a99ed6" stroke-width="0.5"/>
<rect x="746.2" y="336.9" width="4.5" height="3.3" fill="#7b6b63" />
<rect x="746.2" y="340.1" width="4.5" height="3.8" fill="#d7d7da" stroke="#a99ed6" stroke-width="0.5"/>
<rect x="753.5" y="333.0" width="4.5" height="3.8" fill="#d7d7da" stroke="#a99ed6" stroke-width="0.5"/>
<rect x="753.5" y="336.9" width="4.5" height="3.3" fill="#7b6b63" />
<rect x="753.5" y="340.1" width="4.5" height="3.8" fill="#d7d7da" stroke="#a99ed6" stroke-width="0.5"/>
<circle cx="753.9" cy="342.8" r="5.0" fill="#fff"/><circle cx="753.9" cy="342.8" r="3.8" fill="#2b8a2b"/>
<circle cx="740.8" cy="350.5" r="5.0" fill="#fff"/><circle cx="740.8" cy="350.5" r="3.8" fill="#2b8a2b"/>
<circle cx="759.0" cy="349.0" r="2.9" fill="none" stroke="#fff" stroke-width="1.9"/>
<circle cx="756.0" cy="329.0" r="2.9" fill="none" stroke="#fff" stroke-width="1.9"/>
<rect x="768.3" y="330.7" width="6.0" height="9.3" fill="#2b8a2b" stroke="#fff" stroke-width="1"/>
<rect x="775.5" y="330.7" width="6.0" height="9.3" fill="#2b8a2b" stroke="#fff" stroke-width="1"/>
<rect x="787.0" y="330.7" width="7.0" height="9.3" fill="#2b8a2b" stroke="#fff" stroke-width="1"/>
<rect x="795.0" y="330.7" width="7.0" height="9.3" fill="#2b8a2b" stroke="#fff" stroke-width="1"/>
<rect x="769.5" y="341.2" width="5.0" height="7.0" fill="#2b8a2b" stroke="#fff" stroke-width="1"/>
<rect x="776.0" y="341.2" width="5.0" height="7.0" fill="#2b8a2b" stroke="#fff" stroke-width="1"/>
<rect x="769.0" y="326.0" width="4.0" height="4.0" fill="#d7d7da" stroke="#a99ed6" stroke-width="0.5"/>
<rect x="779.0" y="326.0" width="4.0" height="4.0" fill="#d7d7da" stroke="#a99ed6" stroke-width="0.5"/>
<circle cx="791.0" cy="326.0" r="4.2" fill="#fff"/><circle cx="791.0" cy="326.0" r="3.0" fill="#2b8a2b"/>
<circle cx="809.2" cy="335.3" r="2.9" fill="none" stroke="#fff" stroke-width="1.9"/>
<circle cx="796.8" cy="365.7" r="2.9" fill="none" stroke="#fff" stroke-width="1.9"/>
<circle cx="808.0" cy="376.2" r="2.9" fill="none" stroke="#fff" stroke-width="1.9"/>
<circle cx="811.5" cy="393.2" r="2.9" fill="none" stroke="#fff" stroke-width="1.9"/>
<circle cx="809.2" cy="405.3" r="2.9" fill="none" stroke="#fff" stroke-width="1.9"/>
<circle cx="826.7" cy="414.7" r="2.9" fill="none" stroke="#fff" stroke-width="1.9"/>
<circle cx="826.7" cy="445.0" r="2.9" fill="none" stroke="#fff" stroke-width="1.9"/>
<circle cx="826.7" cy="454.3" r="2.9" fill="none" stroke="#fff" stroke-width="1.9"/>
<circle cx="817.3" cy="471.8" r="2.9" fill="none" stroke="#fff" stroke-width="1.9"/>
<circle cx="813.8" cy="381.5" r="3.0" fill="#a59bb8" />
<rect x="812.0" y="377.0" width="6.0" height="9.0" fill="#2b8a2b" />
<circle cx="814.5" cy="381.5" r="2.3" fill="#a59bb8" />
<circle cx="827.8" cy="404.2" r="5.0" fill="#fff"/><circle cx="827.8" cy="404.2" r="3.8" fill="#2b8a2b"/>
<circle cx="893.0" cy="338.8" r="2.9" fill="none" stroke="#fff" stroke-width="1.9"/>
<circle cx="895.3" cy="346.5" r="2.9" fill="none" stroke="#fff" stroke-width="1.9"/>
<circle cx="895.3" cy="356.3" r="2.9" fill="none" stroke="#fff" stroke-width="1.9"/>
<circle cx="895.3" cy="366.1" r="2.9" fill="none" stroke="#fff" stroke-width="1.9"/>
<circle cx="872.7" cy="338.1" r="2.9" fill="none" stroke="#fff" stroke-width="1.9"/>
<circle cx="832.8" cy="382.7" r="2.9" fill="none" stroke="#fff" stroke-width="1.9"/>
<circle cx="860.3" cy="404.6" r="2.9" fill="none" stroke="#fff" stroke-width="1.9"/>
<circle cx="830.0" cy="415.8" r="2.9" fill="none" stroke="#fff" stroke-width="1.9"/>
<circle cx="852.9" cy="426.3" r="2.9" fill="none" stroke="#fff" stroke-width="1.9"/>
<circle cx="852.9" cy="435.7" r="2.9" fill="none" stroke="#fff" stroke-width="1.9"/>
<circle cx="880.9" cy="435.7" r="2.9" fill="none" stroke="#fff" stroke-width="1.9"/>
<circle cx="827.7" cy="445.0" r="2.9" fill="none" stroke="#fff" stroke-width="1.9"/>
<circle cx="852.2" cy="445.0" r="2.9" fill="none" stroke="#fff" stroke-width="1.9"/>
<circle cx="827.7" cy="454.8" r="2.9" fill="none" stroke="#fff" stroke-width="1.9"/>
<circle cx="852.2" cy="454.8" r="2.9" fill="none" stroke="#fff" stroke-width="1.9"/>
<circle cx="879.0" cy="459.5" r="2.9" fill="none" stroke="#fff" stroke-width="1.9"/>
<circle cx="853.3" cy="463.7" r="2.9" fill="none" stroke="#fff" stroke-width="1.9"/>
<circle cx="879.0" cy="471.0" r="2.9" fill="none" stroke="#fff" stroke-width="1.9"/>
<rect x="877.8" y="336.5" width="4.2" height="4.0" fill="#d7d7da" stroke="#a99ed6" stroke-width="0.5"/>
<rect x="882.0" y="336.5" width="2.1" height="4.0" fill="#7b6b63" />
<rect x="884.1" y="336.5" width="4.2" height="4.0" fill="#d7d7da" stroke="#a99ed6" stroke-width="0.5"/>
<circle cx="913.5" cy="329.5" r="5.0" fill="#fff"/><circle cx="913.5" cy="329.5" r="3.8" fill="#2b8a2b"/>
<rect x="835.8" y="391.8" width="4.5" height="3.7" fill="#d7d7da" stroke="#a99ed6" stroke-width="0.5"/>
<rect x="841.8" y="391.8" width="4.5" height="3.7" fill="#d7d7da" stroke="#a99ed6" stroke-width="0.5"/>
<circle cx="828.1" cy="404.6" r="5.0" fill="#fff"/><circle cx="828.1" cy="404.6" r="3.8" fill="#2b8a2b"/>
<rect x="835.8" y="400.7" width="6.1" height="7.4" fill="#d7d7da" stroke="#a99ed6" stroke-width="0.5"/>
<rect x="841.9" y="400.7" width="4.1" height="7.4" fill="#7b6b63" />
<rect x="846.0" y="400.7" width="6.1" height="7.4" fill="#d7d7da" stroke="#a99ed6" stroke-width="0.5"/>
<rect x="835.8" y="412.3" width="6.4" height="7.5" fill="#d7d7da" stroke="#a99ed6" stroke-width="0.5"/>
<rect x="842.2" y="412.3" width="4.3" height="7.5" fill="#7b6b63" />
<rect x="846.5" y="412.3" width="6.4" height="7.5" fill="#d7d7da" stroke="#a99ed6" stroke-width="0.5"/>
<rect x="835.8" y="424.0" width="4.5" height="4.2" fill="#d7d7da" stroke="#a99ed6" stroke-width="0.5"/>
<rect x="841.8" y="424.0" width="4.5" height="4.2" fill="#d7d7da" stroke="#a99ed6" stroke-width="0.5"/>
<rect x="835.8" y="433.8" width="4.5" height="4.2" fill="#d7d7da" stroke="#a99ed6" stroke-width="0.5"/>
<rect x="841.8" y="433.8" width="4.5" height="4.2" fill="#d7d7da" stroke="#a99ed6" stroke-width="0.5"/>
<rect x="835.8" y="443.1" width="4.5" height="4.2" fill="#d7d7da" stroke="#a99ed6" stroke-width="0.5"/>
<rect x="841.8" y="443.1" width="4.5" height="4.2" fill="#d7d7da" stroke="#a99ed6" stroke-width="0.5"/>
<rect x="835.8" y="452.5" width="4.5" height="4.2" fill="#d7d7da" stroke="#a99ed6" stroke-width="0.5"/>
<rect x="841.8" y="452.5" width="4.5" height="4.2" fill="#d7d7da" stroke="#a99ed6" stroke-width="0.5"/>
<rect x="858.0" y="456.2" width="6.1" height="7.0" fill="#d7d7da" stroke="#a99ed6" stroke-width="0.5"/>
<rect x="864.1" y="456.2" width="4.1" height="7.0" fill="#7b6b63" />
<rect x="868.2" y="456.2" width="6.1" height="7.0" fill="#d7d7da" stroke="#a99ed6" stroke-width="0.5"/>
<rect x="858.0" y="467.2" width="6.1" height="7.0" fill="#d7d7da" stroke="#a99ed6" stroke-width="0.5"/>
<rect x="864.1" y="467.2" width="4.1" height="7.0" fill="#7b6b63" />
<rect x="868.2" y="467.2" width="6.1" height="7.0" fill="#d7d7da" stroke="#a99ed6" stroke-width="0.5"/>
<circle cx="495.3" cy="470.5" r="2.9" fill="none" stroke="#fff" stroke-width="1.9"/>
<circle cx="501.2" cy="471.7" r="2.9" fill="none" stroke="#fff" stroke-width="1.9"/>
<circle cx="496.5" cy="476.3" r="2.9" fill="none" stroke="#fff" stroke-width="1.9"/>
<circle cx="501.2" cy="479.8" r="2.9" fill="none" stroke="#fff" stroke-width="1.9"/>
<circle cx="497.7" cy="483.3" r="2.9" fill="none" stroke="#fff" stroke-width="1.9"/>
<circle cx="501.2" cy="488.0" r="2.9" fill="none" stroke="#fff" stroke-width="1.9"/>
<circle cx="495.3" cy="487.5" r="2.9" fill="none" stroke="#fff" stroke-width="1.9"/>
<circle cx="523.3" cy="475.9" r="2.9" fill="none" stroke="#fff" stroke-width="1.9"/>
<circle cx="533.8" cy="485.2" r="2.9" fill="none" stroke="#fff" stroke-width="1.9"/>
<circle cx="540.1" cy="490.3" r="2.9" fill="none" stroke="#fff" stroke-width="1.9"/>
<circle cx="525.7" cy="490.3" r="2.9" fill="none" stroke="#fff" stroke-width="1.9"/>
<circle cx="529.9" cy="499.2" r="2.9" fill="none" stroke="#fff" stroke-width="1.9"/>
<circle cx="528.5" cy="515.5" r="2.9" fill="none" stroke="#fff" stroke-width="1.9"/>
<circle cx="544.8" cy="471.2" r="2.9" fill="none" stroke="#fff" stroke-width="1.9"/>
<circle cx="544.8" cy="479.1" r="2.9" fill="none" stroke="#fff" stroke-width="1.9"/>
<circle cx="544.3" cy="502.0" r="2.9" fill="none" stroke="#fff" stroke-width="1.9"/>
<circle cx="539.7" cy="507.1" r="2.9" fill="none" stroke="#fff" stroke-width="1.9"/>
<circle cx="544.3" cy="512.5" r="2.9" fill="none" stroke="#fff" stroke-width="1.9"/>
<circle cx="544.8" cy="519.5" r="2.9" fill="none" stroke="#fff" stroke-width="1.9"/>
<circle cx="464.5" cy="528.8" r="2.9" fill="none" stroke="#fff" stroke-width="1.9"/>
<circle cx="480.2" cy="533.5" r="2.9" fill="none" stroke="#fff" stroke-width="1.9"/>
<circle cx="510.5" cy="526.5" r="2.9" fill="none" stroke="#fff" stroke-width="1.9"/>
<circle cx="515.2" cy="533.5" r="2.9" fill="none" stroke="#fff" stroke-width="1.9"/>
<circle cx="540.8" cy="534.7" r="2.9" fill="none" stroke="#fff" stroke-width="1.9"/>
<circle cx="470.8" cy="503.2" r="2.9" fill="none" stroke="#fff" stroke-width="1.9"/>
<circle cx="490.2" cy="496.2" r="2.9" fill="none" stroke="#fff" stroke-width="1.9"/>
<circle cx="532.7" cy="469.3" r="5.0" fill="#fff"/><circle cx="532.7" cy="469.3" r="3.8" fill="#2b8a2b"/>
<rect x="460.3" y="468.2" width="5.9" height="12.8" fill="#2b8a2b" stroke="#fff" stroke-width="1"/>
<rect x="461.2" y="469.5" width="4.1" height="4.5" fill="#d7d7da" stroke="#a99ed6" stroke-width="0.5"/>
<rect x="461.2" y="475.2" width="4.1" height="4.5" fill="#d7d7da" stroke="#a99ed6" stroke-width="0.5"/>
<rect x="459.2" y="498.5" width="8.1" height="7.3" fill="#2b8a2b" stroke="#fff" stroke-width="1"/>
<rect x="459.2" y="507.5" width="8.1" height="7.3" fill="#2b8a2b" stroke="#fff" stroke-width="1"/>
<rect x="475.5" y="500.8" width="5.8" height="9.4" fill="#2b8a2b" stroke="#fff" stroke-width="1"/>
<rect x="486.0" y="500.8" width="5.8" height="9.4" fill="#2b8a2b" stroke="#fff" stroke-width="1"/>
<rect x="512.8" y="480.5" width="8.2" height="7.5" fill="#2b8a2b" stroke="#fff" stroke-width="1"/>
<rect x="512.8" y="489.8" width="8.2" height="7.5" fill="#2b8a2b" stroke="#fff" stroke-width="1"/>
<rect x="480.0" y="467.0" width="4.9" height="21.0" fill="#7b6b63" />
<rect x="474.3" y="467.9" width="5.7" height="2.3" fill="#d7d7da" stroke="#a99ed6" stroke-width="0.5"/>
<rect x="474.3" y="472.1" width="5.7" height="2.3" fill="#d7d7da" stroke="#a99ed6" stroke-width="0.5"/>
<rect x="474.3" y="476.3" width="5.7" height="2.3" fill="#d7d7da" stroke="#a99ed6" stroke-width="0.5"/>
<rect x="474.3" y="480.5" width="5.7" height="2.3" fill="#d7d7da" stroke="#a99ed6" stroke-width="0.5"/>
<rect x="474.3" y="484.7" width="5.7" height="2.3" fill="#d7d7da" stroke="#a99ed6" stroke-width="0.5"/>
<rect x="485.0" y="467.9" width="5.7" height="2.3" fill="#d7d7da" stroke="#a99ed6" stroke-width="0.5"/>
<rect x="485.0" y="472.1" width="5.7" height="2.3" fill="#d7d7da" stroke="#a99ed6" stroke-width="0.5"/>
<rect x="485.0" y="476.3" width="5.7" height="2.3" fill="#d7d7da" stroke="#a99ed6" stroke-width="0.5"/>
<rect x="485.0" y="480.5" width="5.7" height="2.3" fill="#d7d7da" stroke="#a99ed6" stroke-width="0.5"/>
<rect x="485.0" y="484.7" width="5.7" height="2.3" fill="#d7d7da" stroke="#a99ed6" stroke-width="0.5"/>
<rect x="556.3" y="467.0" width="5.2" height="12.8" fill="#7b6b63" />
<rect x="550.2" y="468.0" width="6.1" height="2.3" fill="#d7d7da" stroke="#a99ed6" stroke-width="0.5"/>
<rect x="550.2" y="472.2" width="6.1" height="2.3" fill="#d7d7da" stroke="#a99ed6" stroke-width="0.5"/>
<rect x="550.2" y="476.5" width="6.1" height="2.3" fill="#d7d7da" stroke="#a99ed6" stroke-width="0.5"/>
<rect x="561.6" y="468.0" width="6.1" height="2.3" fill="#d7d7da" stroke="#a99ed6" stroke-width="0.5"/>
<rect x="561.6" y="472.2" width="6.1" height="2.3" fill="#d7d7da" stroke="#a99ed6" stroke-width="0.5"/>
<rect x="561.6" y="476.5" width="6.1" height="2.3" fill="#d7d7da" stroke="#a99ed6" stroke-width="0.5"/>
<rect x="556.3" y="490.3" width="5.2" height="29.2" fill="#7b6b63" />
<rect x="550.2" y="491.2" width="6.1" height="2.3" fill="#d7d7da" stroke="#a99ed6" stroke-width="0.5"/>
<rect x="550.2" y="495.4" width="6.1" height="2.3" fill="#d7d7da" stroke="#a99ed6" stroke-width="0.5"/>
<rect x="550.2" y="499.6" width="6.1" height="2.3" fill="#d7d7da" stroke="#a99ed6" stroke-width="0.5"/>
<rect x="550.2" y="503.8" width="6.1" height="2.3" fill="#d7d7da" stroke="#a99ed6" stroke-width="0.5"/>
<rect x="550.2" y="507.9" width="6.1" height="2.3" fill="#d7d7da" stroke="#a99ed6" stroke-width="0.5"/>
<rect x="550.2" y="512.1" width="6.1" height="2.3" fill="#d7d7da" stroke="#a99ed6" stroke-width="0.5"/>
<rect x="550.2" y="516.3" width="6.1" height="2.3" fill="#d7d7da" stroke="#a99ed6" stroke-width="0.5"/>
<rect x="561.6" y="491.2" width="6.1" height="2.3" fill="#d7d7da" stroke="#a99ed6" stroke-width="0.5"/>
<rect x="561.6" y="495.4" width="6.1" height="2.3" fill="#d7d7da" stroke="#a99ed6" stroke-width="0.5"/>
<rect x="561.6" y="499.6" width="6.1" height="2.3" fill="#d7d7da" stroke="#a99ed6" stroke-width="0.5"/>
<rect x="561.6" y="503.8" width="6.1" height="2.3" fill="#d7d7da" stroke="#a99ed6" stroke-width="0.5"/>
<rect x="561.6" y="507.9" width="6.1" height="2.3" fill="#d7d7da" stroke="#a99ed6" stroke-width="0.5"/>
<rect x="561.6" y="512.1" width="6.1" height="2.3" fill="#d7d7da" stroke="#a99ed6" stroke-width="0.5"/>
<rect x="561.6" y="516.3" width="6.1" height="2.3" fill="#d7d7da" stroke="#a99ed6" stroke-width="0.5"/>
<rect x="556.3" y="528.8" width="5.2" height="6.0" fill="#7b6b63" />
<rect x="550.2" y="529.5" width="6.1" height="1.7" fill="#d7d7da" stroke="#a99ed6" stroke-width="0.5"/>
<rect x="550.2" y="532.5" width="6.1" height="1.7" fill="#d7d7da" stroke="#a99ed6" stroke-width="0.5"/>
<rect x="561.6" y="529.5" width="6.1" height="1.7" fill="#d7d7da" stroke="#a99ed6" stroke-width="0.5"/>
<rect x="561.6" y="532.5" width="6.1" height="1.7" fill="#d7d7da" stroke="#a99ed6" stroke-width="0.5"/>
<circle cx="817.3" cy="472.8" r="2.9" fill="none" stroke="#fff" stroke-width="1.9"/>
<circle cx="810.3" cy="485.7" r="2.9" fill="none" stroke="#fff" stroke-width="1.9"/>
<circle cx="816.2" cy="489.2" r="2.9" fill="none" stroke="#fff" stroke-width="1.9"/>
<circle cx="810.3" cy="516.0" r="2.9" fill="none" stroke="#fff" stroke-width="1.9"/>
<circle cx="826.7" cy="524.2" r="2.9" fill="none" stroke="#fff" stroke-width="1.9"/>
<circle cx="819.7" cy="528.8" r="2.9" fill="none" stroke="#fff" stroke-width="1.9"/>
<circle cx="810.3" cy="496.9" r="5.0" fill="#fff"/><circle cx="810.3" cy="496.9" r="3.8" fill="#2b8a2b"/>
<rect x="819.7" y="488.8" width="5.8" height="2.0" fill="#d7d7da" stroke="#a99ed6" stroke-width="0.5"/>
<rect x="819.7" y="492.5" width="5.8" height="2.0" fill="#d7d7da" stroke="#a99ed6" stroke-width="0.5"/>
<rect x="819.7" y="496.1" width="5.8" height="2.0" fill="#d7d7da" stroke="#a99ed6" stroke-width="0.5"/>
<rect x="819.7" y="499.8" width="5.8" height="2.0" fill="#d7d7da" stroke="#a99ed6" stroke-width="0.5"/>
<rect x="819.7" y="503.4" width="5.8" height="2.0" fill="#d7d7da" stroke="#a99ed6" stroke-width="0.5"/>
<rect x="819.7" y="507.1" width="5.8" height="2.0" fill="#d7d7da" stroke="#a99ed6" stroke-width="0.5"/>
<rect x="819.7" y="510.7" width="5.8" height="2.0" fill="#d7d7da" stroke="#a99ed6" stroke-width="0.5"/>
<rect x="819.7" y="514.4" width="5.8" height="2.0" fill="#d7d7da" stroke="#a99ed6" stroke-width="0.5"/>
<rect x="825.5" y="488.0" width="3.5" height="29.2" fill="#7b6b63" />
<rect x="806.8" y="521.8" width="5.9" height="6.0" fill="#2b8a2b" stroke="#fff" stroke-width="1"/>
<rect x="806.8" y="528.6" width="5.9" height="6.0" fill="#2b8a2b" stroke="#fff" stroke-width="1"/>
<circle cx="879.0" cy="471.2" r="2.9" fill="none" stroke="#fff" stroke-width="1.9"/>
<circle cx="852.2" cy="471.2" r="2.9" fill="none" stroke="#fff" stroke-width="1.9"/>
<circle cx="832.8" cy="481.5" r="2.9" fill="none" stroke="#fff" stroke-width="1.9"/>
<circle cx="860.3" cy="480.5" r="2.9" fill="none" stroke="#fff" stroke-width="1.9"/>
<circle cx="852.2" cy="489.2" r="2.9" fill="none" stroke="#fff" stroke-width="1.9"/>
<circle cx="879.0" cy="489.2" r="2.9" fill="none" stroke="#fff" stroke-width="1.9"/>
<circle cx="852.2" cy="502.0" r="2.9" fill="none" stroke="#fff" stroke-width="1.9"/>
<circle cx="852.2" cy="517.2" r="2.9" fill="none" stroke="#fff" stroke-width="1.9"/>
<circle cx="859.2" cy="523.0" r="2.9" fill="none" stroke="#fff" stroke-width="1.9"/>
<circle cx="852.2" cy="527.2" r="2.9" fill="none" stroke="#fff" stroke-width="1.9"/>
<circle cx="891.8" cy="505.5" r="2.9" fill="none" stroke="#fff" stroke-width="1.9"/>
<circle cx="891.8" cy="513.2" r="2.9" fill="none" stroke="#fff" stroke-width="1.9"/>
<circle cx="891.8" cy="521.8" r="2.9" fill="none" stroke="#fff" stroke-width="1.9"/>
<circle cx="902.3" cy="504.3" r="2.9" fill="none" stroke="#fff" stroke-width="1.9"/>
<circle cx="827.2" cy="525.3" r="2.9" fill="none" stroke="#fff" stroke-width="1.9"/>
<circle cx="1001.5" cy="504.3" r="2.9" fill="none" stroke="#fff" stroke-width="1.9"/>
<circle cx="988.7" cy="522.5" r="2.9" fill="none" stroke="#fff" stroke-width="1.9"/>
<circle cx="973.5" cy="522.5" r="2.9" fill="none" stroke="#fff" stroke-width="1.9"/>
<circle cx="977.0" cy="531.2" r="2.9" fill="none" stroke="#fff" stroke-width="1.9"/>
<circle cx="1021.8" cy="556.8" r="2.9" fill="none" stroke="#fff" stroke-width="1.9"/>
<circle cx="979.8" cy="567.8" r="2.9" fill="none" stroke="#fff" stroke-width="1.9"/>
<rect x="858.0" y="485.7" width="6.1" height="7.0" fill="#d7d7da" stroke="#a99ed6" stroke-width="0.5"/>
<rect x="864.1" y="485.7" width="4.1" height="7.0" fill="#7b6b63" />
<rect x="868.2" y="485.7" width="6.1" height="7.0" fill="#d7d7da" stroke="#a99ed6" stroke-width="0.5"/>
<rect x="858.0" y="498.5" width="6.1" height="7.0" fill="#d7d7da" stroke="#a99ed6" stroke-width="0.5"/>
<rect x="864.1" y="498.5" width="4.1" height="7.0" fill="#7b6b63" />
<rect x="868.2" y="498.5" width="6.1" height="7.0" fill="#d7d7da" stroke="#a99ed6" stroke-width="0.5"/>
<rect x="842.8" y="478.2" width="4.4" height="4.0" fill="#d7d7da" stroke="#a99ed6" stroke-width="0.5"/>
<rect x="847.8" y="478.2" width="4.4" height="4.0" fill="#d7d7da" stroke="#a99ed6" stroke-width="0.5"/>
<rect x="827.5" y="488.0" width="3.8" height="29.2" fill="#7b6b63" />
<rect x="823.0" y="488.8" width="4.5" height="2.0" fill="#d7d7da" stroke="#a99ed6" stroke-width="0.5"/>
<rect x="823.0" y="492.5" width="4.5" height="2.0" fill="#d7d7da" stroke="#a99ed6" stroke-width="0.5"/>
<rect x="823.0" y="496.1" width="4.5" height="2.0" fill="#d7d7da" stroke="#a99ed6" stroke-width="0.5"/>
<rect x="823.0" y="499.8" width="4.5" height="2.0" fill="#d7d7da" stroke="#a99ed6" stroke-width="0.5"/>
<rect x="823.0" y="503.4" width="4.5" height="2.0" fill="#d7d7da" stroke="#a99ed6" stroke-width="0.5"/>
<rect x="823.0" y="507.1" width="4.5" height="2.0" fill="#d7d7da" stroke="#a99ed6" stroke-width="0.5"/>
<rect x="823.0" y="510.7" width="4.5" height="2.0" fill="#d7d7da" stroke="#a99ed6" stroke-width="0.5"/>
<rect x="823.0" y="514.4" width="4.5" height="2.0" fill="#d7d7da" stroke="#a99ed6" stroke-width="0.5"/>
<rect x="831.3" y="488.8" width="4.5" height="2.0" fill="#d7d7da" stroke="#a99ed6" stroke-width="0.5"/>
<rect x="831.3" y="492.5" width="4.5" height="2.0" fill="#d7d7da" stroke="#a99ed6" stroke-width="0.5"/>
<rect x="831.3" y="496.1" width="4.5" height="2.0" fill="#d7d7da" stroke="#a99ed6" stroke-width="0.5"/>
<rect x="831.3" y="499.8" width="4.5" height="2.0" fill="#d7d7da" stroke="#a99ed6" stroke-width="0.5"/>
<rect x="831.3" y="503.4" width="4.5" height="2.0" fill="#d7d7da" stroke="#a99ed6" stroke-width="0.5"/>
<rect x="831.3" y="507.1" width="4.5" height="2.0" fill="#d7d7da" stroke="#a99ed6" stroke-width="0.5"/>
<rect x="831.3" y="510.7" width="4.5" height="2.0" fill="#d7d7da" stroke="#a99ed6" stroke-width="0.5"/>
<rect x="831.3" y="514.4" width="4.5" height="2.0" fill="#d7d7da" stroke="#a99ed6" stroke-width="0.5"/>
<circle cx="859.2" cy="512.5" r="5.0" fill="#fff"/><circle cx="859.2" cy="512.5" r="3.8" fill="#2b8a2b"/>
<rect x="876.2" y="510.9" width="4.5" height="3.9" fill="#d7d7da" stroke="#a99ed6" stroke-width="0.5"/>
<rect x="881.5" y="510.9" width="4.5" height="3.9" fill="#d7d7da" stroke="#a99ed6" stroke-width="0.5"/>
<rect x="876.2" y="520.2" width="4.5" height="4.0" fill="#d7d7da" stroke="#a99ed6" stroke-width="0.5"/>
<rect x="881.5" y="520.2" width="4.5" height="4.0" fill="#d7d7da" stroke="#a99ed6" stroke-width="0.5"/>
<rect x="935.0" y="500.1" width="15.2" height="34.6" fill="#7b6b63" />
<rect x="916.3" y="502.5" width="15.2" height="4.6" fill="#d7d7da" stroke="#a99ed6" stroke-width="0.5"/>
<rect x="953.7" y="502.5" width="15.1" height="4.6" fill="#d7d7da" stroke="#a99ed6" stroke-width="0.5"/>
<rect x="916.3" y="510.9" width="15.2" height="4.6" fill="#d7d7da" stroke="#a99ed6" stroke-width="0.5"/>
<rect x="953.7" y="510.9" width="15.1" height="4.6" fill="#d7d7da" stroke="#a99ed6" stroke-width="0.5"/>
<rect x="916.3" y="520.2" width="15.2" height="4.6" fill="#d7d7da" stroke="#a99ed6" stroke-width="0.5"/>
<rect x="953.7" y="520.2" width="15.1" height="4.6" fill="#d7d7da" stroke="#a99ed6" stroke-width="0.5"/>
<rect x="916.3" y="529.5" width="15.2" height="4.6" fill="#d7d7da" stroke="#a99ed6" stroke-width="0.5"/>
<rect x="953.7" y="529.5" width="15.1" height="4.6" fill="#d7d7da" stroke="#a99ed6" stroke-width="0.5"/>
<circle cx="908.9" cy="522.5" r="3.8" fill="#a59bb8" stroke="#8f86b0" stroke-width="0.6"/><circle cx="908.9" cy="522.5" r="1.7" fill="#7b6b63"/>
<circle cx="908.9" cy="532.3" r="5.0" fill="#fff"/><circle cx="908.9" cy="532.3" r="3.8" fill="#2b8a2b"/>
<circle cx="940.8" cy="516.0" r="3.8" fill="#5e7856" stroke="#8a8a8a" stroke-width="0.7"/>
<circle cx="946.7" cy="531.2" r="3.8" fill="#5e7856" stroke="#8a8a8a" stroke-width="0.7"/>
<rect x="955.5" y="487.5" width="14.5" height="12.6" fill="#2b8a2b" stroke="#fff" stroke-width="1"/>
<rect x="974.7" y="483.3" width="8.1" height="4.2" fill="#2b8a2b" stroke="#fff" stroke-width="1"/>
<rect x="974.7" y="489.9" width="8.1" height="6.3" fill="#2b8a2b" stroke="#fff" stroke-width="1"/>
<circle cx="965.3" cy="509.5" r="4.6" fill="#fff"/><circle cx="965.3" cy="509.5" r="3.4" fill="#2b8a2b"/>
<rect x="979.8" y="500.8" width="6.0" height="7.0" fill="#d7d7da" stroke="#a99ed6" stroke-width="0.5"/>
<rect x="985.8" y="500.8" width="4.0" height="7.0" fill="#7b6b63" />
<rect x="989.7" y="500.8" width="6.0" height="7.0" fill="#d7d7da" stroke="#a99ed6" stroke-width="0.5"/>
<rect x="977.0" y="513.7" width="4.7" height="3.3" fill="#d7d7da" stroke="#a99ed6" stroke-width="0.5"/>
<rect x="977.0" y="517.0" width="4.7" height="2.8" fill="#7b6b63" />
<rect x="977.0" y="519.7" width="4.7" height="3.3" fill="#d7d7da" stroke="#a99ed6" stroke-width="0.5"/>
<rect x="956.0" y="527.7" width="16.3" height="8.1" fill="#2b8a2b" stroke="#fff" stroke-width="1"/>
<rect x="958.0" y="529.3" width="5.4" height="4.9" fill="#d7d7da" stroke="#a99ed6" stroke-width="0.5"/>
<rect x="965.0" y="529.3" width="5.4" height="4.9" fill="#d7d7da" stroke="#a99ed6" stroke-width="0.5"/>
<rect x="1014.8" y="498.5" width="14.7" height="10.0" fill="#d7d7da" stroke="#a99ed6" stroke-width="0.5"/>
<rect x="1014.8" y="508.5" width="14.7" height="8.6" fill="#7b6b63" />
<rect x="1014.8" y="517.2" width="14.7" height="10.0" fill="#d7d7da" stroke="#a99ed6" stroke-width="0.5"/>
<rect x="1018.5" y="535.8" width="7.0" height="5.3" fill="#d7d7da" stroke="#a99ed6" stroke-width="0.5"/>
<rect x="1018.5" y="541.1" width="7.0" height="4.6" fill="#7b6b63" />
<rect x="1018.5" y="545.7" width="7.0" height="5.3" fill="#d7d7da" stroke="#a99ed6" stroke-width="0.5"/>
<rect x="968.8" y="552.2" width="7.0" height="7.0" fill="#2b8a2b" stroke="#fff" stroke-width="1"/>
<rect x="968.8" y="563.8" width="7.0" height="7.7" fill="#2b8a2b" stroke="#fff" stroke-width="1"/>
<rect x="968.8" y="574.8" width="7.0" height="8.4" fill="#2b8a2b" stroke="#fff" stroke-width="1"/>
<rect x="1005.7" y="584.3" width="30" height="12" rx="6" fill="#fff"/>
<rect x="1015.2" y="589.5" width="16.8" height="11.0" fill="#8c8c8c" />
<circle cx="1025.2" cy="592.4" r="3.8" fill="#d6d6d6" />
<rect x="1015.2" y="600.5" width="16.8" height="23.0" fill="#7b6b63" />
<rect x="203.7" y="590.7" width="5.8" height="5.5" fill="#2b8a2b" stroke="#fff" stroke-width="1"/>
<rect x="203.7" y="597.0" width="5.8" height="5.5" fill="#2b8a2b" stroke="#fff" stroke-width="1"/>
<circle cx="205.0" cy="604.0" r="2.9" fill="none" stroke="#fff" stroke-width="1.9"/>
<rect x="202.0" y="607.0" width="5.0" height="7.0" fill="#d7d7da" stroke="#a99ed6" stroke-width="0.5"/>
<rect x="199.7" y="577.8" width="1.6" height="10.5" fill="#d7d7da" stroke="#a99ed6" stroke-width="0.5"/>
<rect x="202.6" y="577.8" width="1.6" height="10.5" fill="#d7d7da" stroke="#a99ed6" stroke-width="0.5"/>
<rect x="205.5" y="577.8" width="1.6" height="10.5" fill="#d7d7da" stroke="#a99ed6" stroke-width="0.5"/>
<rect x="208.4" y="577.8" width="1.6" height="10.5" fill="#d7d7da" stroke="#a99ed6" stroke-width="0.5"/>
<rect x="211.3" y="577.8" width="1.6" height="10.5" fill="#d7d7da" stroke="#a99ed6" stroke-width="0.5"/>
<rect x="214.2" y="577.8" width="1.6" height="10.5" fill="#d7d7da" stroke="#a99ed6" stroke-width="0.5"/>
<rect x="217.1" y="577.8" width="1.6" height="10.5" fill="#d7d7da" stroke="#a99ed6" stroke-width="0.5"/>
<rect x="220.1" y="577.8" width="1.6" height="10.5" fill="#d7d7da" stroke="#a99ed6" stroke-width="0.5"/>
<rect x="223.0" y="577.8" width="1.6" height="10.5" fill="#d7d7da" stroke="#a99ed6" stroke-width="0.5"/>
<rect x="225.9" y="577.8" width="1.6" height="10.5" fill="#d7d7da" stroke="#a99ed6" stroke-width="0.5"/>
<rect x="228.8" y="577.8" width="1.6" height="10.5" fill="#d7d7da" stroke="#a99ed6" stroke-width="0.5"/>
<rect x="231.7" y="577.8" width="1.6" height="10.5" fill="#d7d7da" stroke="#a99ed6" stroke-width="0.5"/>
<rect x="234.6" y="577.8" width="1.6" height="10.5" fill="#d7d7da" stroke="#a99ed6" stroke-width="0.5"/>
<rect x="237.5" y="577.8" width="1.6" height="10.5" fill="#d7d7da" stroke="#a99ed6" stroke-width="0.5"/>
<polyline points="262.0,484.0 252.0,484.0 246.0,485.5" fill="none" stroke="#fff" stroke-width="4.2" stroke-linejoin="round" stroke-linecap="round"/>
<circle cx="246.0" cy="485.5" r="3.6" fill="#fff" />
<polyline points="262.0,488.4 252.0,488.4 246.0,489.9" fill="none" stroke="#fff" stroke-width="4.2" stroke-linejoin="round" stroke-linecap="round"/>
<circle cx="246.0" cy="489.9" r="3.6" fill="#fff" />
<polyline points="262.0,492.9 252.0,492.9 246.0,494.4" fill="none" stroke="#fff" stroke-width="4.2" stroke-linejoin="round" stroke-linecap="round"/>
<circle cx="246.0" cy="494.4" r="3.6" fill="#fff" />
<polyline points="262.0,497.4 252.0,497.4 246.0,498.9" fill="none" stroke="#fff" stroke-width="4.2" stroke-linejoin="round" stroke-linecap="round"/>
<circle cx="246.0" cy="498.9" r="3.6" fill="#fff" />
<polyline points="262.0,501.8 252.0,501.8 246.0,503.3" fill="none" stroke="#fff" stroke-width="4.2" stroke-linejoin="round" stroke-linecap="round"/>
<circle cx="246.0" cy="503.3" r="3.6" fill="#fff" />
<polyline points="262.0,506.2 252.0,506.2 246.0,507.8" fill="none" stroke="#fff" stroke-width="4.2" stroke-linejoin="round" stroke-linecap="round"/>
<circle cx="246.0" cy="507.8" r="3.6" fill="#fff" />
<polyline points="262.0,510.7 252.0,510.7 246.0,512.2" fill="none" stroke="#fff" stroke-width="4.2" stroke-linejoin="round" stroke-linecap="round"/>
<circle cx="246.0" cy="512.2" r="3.6" fill="#fff" />
<polyline points="262.0,515.1 252.0,515.1 246.0,516.6" fill="none" stroke="#fff" stroke-width="4.2" stroke-linejoin="round" stroke-linecap="round"/>
<circle cx="246.0" cy="516.6" r="3.6" fill="#fff" />
<polyline points="262.0,519.6 252.0,519.6 246.0,521.1" fill="none" stroke="#fff" stroke-width="4.2" stroke-linejoin="round" stroke-linecap="round"/>
<circle cx="246.0" cy="521.1" r="3.6" fill="#fff" />
<polyline points="262.0,524.0 252.0,524.0 246.0,525.5" fill="none" stroke="#fff" stroke-width="4.2" stroke-linejoin="round" stroke-linecap="round"/>
<circle cx="246.0" cy="525.5" r="3.6" fill="#fff" />
<polyline points="262.0,528.5 252.0,528.5 246.0,530.0" fill="none" stroke="#fff" stroke-width="4.2" stroke-linejoin="round" stroke-linecap="round"/>
<circle cx="246.0" cy="530.0" r="3.6" fill="#fff" />
<polyline points="262.0,533.0 252.0,533.0 246.0,534.5" fill="none" stroke="#fff" stroke-width="4.2" stroke-linejoin="round" stroke-linecap="round"/>
<circle cx="246.0" cy="534.5" r="3.6" fill="#fff" />
<polyline points="262.0,537.4 252.0,537.4 246.0,538.9" fill="none" stroke="#fff" stroke-width="4.2" stroke-linejoin="round" stroke-linecap="round"/>
<circle cx="246.0" cy="538.9" r="3.6" fill="#fff" />
<polyline points="262.0,541.9 252.0,541.9 246.0,543.4" fill="none" stroke="#fff" stroke-width="4.2" stroke-linejoin="round" stroke-linecap="round"/>
<circle cx="246.0" cy="543.4" r="3.6" fill="#fff" />
<polyline points="262.0,546.3 252.0,546.3 246.0,547.8" fill="none" stroke="#fff" stroke-width="4.2" stroke-linejoin="round" stroke-linecap="round"/>
<circle cx="246.0" cy="547.8" r="3.6" fill="#fff" />
<polyline points="262.0,550.8 252.0,550.8 246.0,552.2" fill="none" stroke="#fff" stroke-width="4.2" stroke-linejoin="round" stroke-linecap="round"/>
<circle cx="246.0" cy="552.2" r="3.6" fill="#fff" />
<polyline points="262.0,555.2 252.0,555.2 246.0,556.7" fill="none" stroke="#fff" stroke-width="4.2" stroke-linejoin="round" stroke-linecap="round"/>
<circle cx="246.0" cy="556.7" r="3.6" fill="#fff" />
<polyline points="262.0,474.0 250.0,474.0 246.0,478.0" fill="none" stroke="#fff" stroke-width="4.2" stroke-linejoin="round" stroke-linecap="round"/>
<circle cx="246.0" cy="478.0" r="3.6" fill="#fff" />
<polyline points="262.0,479.0 252.0,480.0 247.0,483.0" fill="none" stroke="#fff" stroke-width="4.2" stroke-linejoin="round" stroke-linecap="round"/>
<circle cx="247.0" cy="483.0" r="3.6" fill="#fff" />
<polyline points="262.0,484.0 252.0,484.0 246.0,485.5" fill="none" stroke="#c0836a" stroke-width="1.5" stroke-linejoin="round" stroke-linecap="round"/>
<circle cx="246.0" cy="485.5" r="2.1" fill="#c0836a" />
<polyline points="262.0,488.4 252.0,488.4 246.0,489.9" fill="none" stroke="#c0836a" stroke-width="1.5" stroke-linejoin="round" stroke-linecap="round"/>
<circle cx="246.0" cy="489.9" r="2.1" fill="#c0836a" />
<polyline points="262.0,492.9 252.0,492.9 246.0,494.4" fill="none" stroke="#c0836a" stroke-width="1.5" stroke-linejoin="round" stroke-linecap="round"/>
<circle cx="246.0" cy="494.4" r="2.1" fill="#c0836a" />
<polyline points="262.0,497.4 252.0,497.4 246.0,498.9" fill="none" stroke="#c0836a" stroke-width="1.5" stroke-linejoin="round" stroke-linecap="round"/>
<circle cx="246.0" cy="498.9" r="2.1" fill="#c0836a" />
<polyline points="262.0,501.8 252.0,501.8 246.0,503.3" fill="none" stroke="#c0836a" stroke-width="1.5" stroke-linejoin="round" stroke-linecap="round"/>
<circle cx="246.0" cy="503.3" r="2.1" fill="#c0836a" />
<polyline points="262.0,506.2 252.0,506.2 246.0,507.8" fill="none" stroke="#c0836a" stroke-width="1.5" stroke-linejoin="round" stroke-linecap="round"/>
<circle cx="246.0" cy="507.8" r="2.1" fill="#c0836a" />
<polyline points="262.0,510.7 252.0,510.7 246.0,512.2" fill="none" stroke="#c0836a" stroke-width="1.5" stroke-linejoin="round" stroke-linecap="round"/>
<circle cx="246.0" cy="512.2" r="2.1" fill="#c0836a" />
<polyline points="262.0,515.1 252.0,515.1 246.0,516.6" fill="none" stroke="#c0836a" stroke-width="1.5" stroke-linejoin="round" stroke-linecap="round"/>
<circle cx="246.0" cy="516.6" r="2.1" fill="#c0836a" />
<polyline points="262.0,519.6 252.0,519.6 246.0,521.1" fill="none" stroke="#c0836a" stroke-width="1.5" stroke-linejoin="round" stroke-linecap="round"/>
<circle cx="246.0" cy="521.1" r="2.1" fill="#c0836a" />
<polyline points="262.0,524.0 252.0,524.0 246.0,525.5" fill="none" stroke="#c0836a" stroke-width="1.5" stroke-linejoin="round" stroke-linecap="round"/>
<circle cx="246.0" cy="525.5" r="2.1" fill="#c0836a" />
<polyline points="262.0,528.5 252.0,528.5 246.0,530.0" fill="none" stroke="#c0836a" stroke-width="1.5" stroke-linejoin="round" stroke-linecap="round"/>
<circle cx="246.0" cy="530.0" r="2.1" fill="#c0836a" />
<polyline points="262.0,533.0 252.0,533.0 246.0,534.5" fill="none" stroke="#c0836a" stroke-width="1.5" stroke-linejoin="round" stroke-linecap="round"/>
<circle cx="246.0" cy="534.5" r="2.1" fill="#c0836a" />
<polyline points="262.0,537.4 252.0,537.4 246.0,538.9" fill="none" stroke="#c0836a" stroke-width="1.5" stroke-linejoin="round" stroke-linecap="round"/>
<circle cx="246.0" cy="538.9" r="2.1" fill="#c0836a" />
<polyline points="262.0,541.9 252.0,541.9 246.0,543.4" fill="none" stroke="#c0836a" stroke-width="1.5" stroke-linejoin="round" stroke-linecap="round"/>
<circle cx="246.0" cy="543.4" r="2.1" fill="#c0836a" />
<polyline points="262.0,546.3 252.0,546.3 246.0,547.8" fill="none" stroke="#c0836a" stroke-width="1.5" stroke-linejoin="round" stroke-linecap="round"/>
<circle cx="246.0" cy="547.8" r="2.1" fill="#c0836a" />
<polyline points="262.0,550.8 252.0,550.8 246.0,552.2" fill="none" stroke="#c0836a" stroke-width="1.5" stroke-linejoin="round" stroke-linecap="round"/>
<circle cx="246.0" cy="552.2" r="2.1" fill="#c0836a" />
<polyline points="262.0,555.2 252.0,555.2 246.0,556.7" fill="none" stroke="#c0836a" stroke-width="1.5" stroke-linejoin="round" stroke-linecap="round"/>
<circle cx="246.0" cy="556.7" r="2.1" fill="#c0836a" />
<polyline points="262.0,474.0 250.0,474.0 246.0,478.0" fill="none" stroke="#c0836a" stroke-width="1.5" stroke-linejoin="round" stroke-linecap="round"/>
<circle cx="246.0" cy="478.0" r="2.1" fill="#c0836a" />
<polyline points="262.0,479.0 252.0,480.0 247.0,483.0" fill="none" stroke="#c0836a" stroke-width="1.5" stroke-linejoin="round" stroke-linecap="round"/>
<circle cx="247.0" cy="483.0" r="2.1" fill="#c0836a" />
<rect x="260.1" y="467.0" width="11.7" height="98.0" fill="#2b8a2b" />
<rect x="260.1" y="468.0" width="11.7" height="0.7" fill="#62b062" />
<rect x="260.1" y="470.0" width="11.7" height="0.7" fill="#62b062" />
<rect x="260.1" y="472.1" width="11.7" height="0.7" fill="#62b062" />
<rect x="260.1" y="474.1" width="11.7" height="0.7" fill="#62b062" />
<rect x="260.1" y="476.1" width="11.7" height="0.7" fill="#62b062" />
<rect x="260.1" y="478.1" width="11.7" height="0.7" fill="#62b062" />
<rect x="260.1" y="480.2" width="11.7" height="0.7" fill="#62b062" />
<rect x="260.1" y="482.2" width="11.7" height="0.7" fill="#62b062" />
<rect x="260.1" y="484.2" width="11.7" height="0.7" fill="#62b062" />
<rect x="260.1" y="486.3" width="11.7" height="0.7" fill="#62b062" />
<rect x="260.1" y="488.3" width="11.7" height="0.7" fill="#62b062" />
<rect x="260.1" y="490.3" width="11.7" height="0.7" fill="#62b062" />
<rect x="260.1" y="492.4" width="11.7" height="0.7" fill="#62b062" />
<rect x="260.1" y="494.4" width="11.7" height="0.7" fill="#62b062" />
<rect x="260.1" y="496.4" width="11.7" height="0.7" fill="#62b062" />
<rect x="260.1" y="498.4" width="11.7" height="0.7" fill="#62b062" />
<rect x="260.1" y="500.5" width="11.7" height="0.7" fill="#62b062" />
<rect x="260.1" y="502.5" width="11.7" height="0.7" fill="#62b062" />
<rect x="260.1" y="504.5" width="11.7" height="0.7" fill="#62b062" />
<rect x="260.1" y="506.6" width="11.7" height="0.7" fill="#62b062" />
<rect x="260.1" y="508.6" width="11.7" height="0.7" fill="#62b062" />
<rect x="260.1" y="510.6" width="11.7" height="0.7" fill="#62b062" />
<rect x="260.1" y="512.7" width="11.7" height="0.7" fill="#62b062" />
<rect x="260.1" y="514.7" width="11.7" height="0.7" fill="#62b062" />
<rect x="260.1" y="516.7" width="11.7" height="0.7" fill="#62b062" />
<rect x="260.1" y="518.8" width="11.7" height="0.7" fill="#62b062" />
<rect x="260.1" y="520.8" width="11.7" height="0.7" fill="#62b062" />
<rect x="260.1" y="522.8" width="11.7" height="0.7" fill="#62b062" />
<rect x="260.1" y="524.8" width="11.7" height="0.7" fill="#62b062" />
<rect x="260.1" y="526.9" width="11.7" height="0.7" fill="#62b062" />
<rect x="260.1" y="528.9" width="11.7" height="0.7" fill="#62b062" />
<rect x="260.1" y="530.9" width="11.7" height="0.7" fill="#62b062" />
<rect x="260.1" y="533.0" width="11.7" height="0.7" fill="#62b062" />
<rect x="260.1" y="535.0" width="11.7" height="0.7" fill="#62b062" />
<rect x="260.1" y="537.0" width="11.7" height="0.7" fill="#62b062" />
<rect x="260.1" y="539.0" width="11.7" height="0.7" fill="#62b062" />
<rect x="260.1" y="541.1" width="11.7" height="0.7" fill="#62b062" />
<rect x="260.1" y="543.1" width="11.7" height="0.7" fill="#62b062" />
<rect x="260.1" y="545.1" width="11.7" height="0.7" fill="#62b062" />
<rect x="260.1" y="547.2" width="11.7" height="0.7" fill="#62b062" />
<rect x="260.1" y="549.2" width="11.7" height="0.7" fill="#62b062" />
<rect x="260.1" y="551.2" width="11.7" height="0.7" fill="#62b062" />
<rect x="260.1" y="553.3" width="11.7" height="0.7" fill="#62b062" />
<rect x="260.1" y="555.3" width="11.7" height="0.7" fill="#62b062" />
<rect x="260.1" y="557.3" width="11.7" height="0.7" fill="#62b062" />
<rect x="260.1" y="559.4" width="11.7" height="0.7" fill="#62b062" />
<rect x="260.1" y="561.4" width="11.7" height="0.7" fill="#62b062" />
<rect x="260.1" y="563.4" width="11.7" height="0.7" fill="#62b062" />
<polyline points="258.0,565.0 254.3,573.2" fill="none" stroke="#fff" stroke-width="3" stroke-linejoin="round" stroke-linecap="round"/>
<circle cx="254.3" cy="573.2" r="5.0" fill="#fff"/><circle cx="254.3" cy="573.2" r="3.8" fill="#2b8a2b"/>
<rect x="266.2" y="469.3" width="5.1" height="3.7" fill="#d7d7da" stroke="#a99ed6" stroke-width="0.5"/>
<rect x="266.2" y="473.0" width="5.1" height="3.2" fill="#7b6b63" />
<rect x="266.2" y="476.1" width="5.1" height="3.7" fill="#d7d7da" stroke="#a99ed6" stroke-width="0.5"/>
<rect x="281.1" y="469.3" width="4.7" height="3.7" fill="#d7d7da" stroke="#a99ed6" stroke-width="0.5"/>
<rect x="281.1" y="473.0" width="4.7" height="3.2" fill="#7b6b63" />
<rect x="281.1" y="476.1" width="4.7" height="3.7" fill="#d7d7da" stroke="#a99ed6" stroke-width="0.5"/>
<circle cx="296.5" cy="478.2" r="3.8" fill="#a59bb8" stroke="#8f86b0" stroke-width="0.6"/><circle cx="296.5" cy="478.2" r="1.7" fill="#7b6b63"/>
<circle cx="303.3" cy="482.2" r="5.0" fill="#fff"/><circle cx="303.3" cy="482.2" r="3.8" fill="#2b8a2b"/>
<rect x="273.2" y="503.2" width="4.0" height="3.3" fill="#d7d7da" stroke="#a99ed6" stroke-width="0.5"/>
<rect x="273.2" y="506.5" width="4.0" height="2.8" fill="#7b6b63" />
<rect x="273.2" y="509.2" width="4.0" height="3.3" fill="#d7d7da" stroke="#a99ed6" stroke-width="0.5"/>
<circle cx="274.8" cy="516.5" r="2.9" fill="none" stroke="#fff" stroke-width="1.9"/>
<circle cx="328.0" cy="470.0" r="2.9" fill="none" stroke="#fff" stroke-width="1.9"/>
<circle cx="332.0" cy="476.0" r="2.9" fill="none" stroke="#fff" stroke-width="1.9"/>
<circle cx="328.0" cy="482.0" r="2.9" fill="none" stroke="#fff" stroke-width="1.9"/>
<circle cx="336.0" cy="486.0" r="2.9" fill="none" stroke="#fff" stroke-width="1.9"/>
<circle cx="330.0" cy="489.0" r="2.9" fill="none" stroke="#fff" stroke-width="1.9"/>
<circle cx="339.0" cy="495.5" r="5.0" fill="#fff"/><circle cx="339.0" cy="495.5" r="3.8" fill="#2b8a2b"/>
<rect x="345.9" y="467.0" width="4.9" height="21.0" fill="#7b6b63" />
<rect x="340.2" y="467.9" width="5.7" height="2.3" fill="#d7d7da" stroke="#a99ed6" stroke-width="0.5"/>
<rect x="340.2" y="472.1" width="5.7" height="2.3" fill="#d7d7da" stroke="#a99ed6" stroke-width="0.5"/>
<rect x="340.2" y="476.3" width="5.7" height="2.3" fill="#d7d7da" stroke="#a99ed6" stroke-width="0.5"/>
<rect x="340.2" y="480.5" width="5.7" height="2.3" fill="#d7d7da" stroke="#a99ed6" stroke-width="0.5"/>
<rect x="340.2" y="484.7" width="5.7" height="2.3" fill="#d7d7da" stroke="#a99ed6" stroke-width="0.5"/>
<rect x="350.8" y="467.9" width="5.7" height="2.3" fill="#d7d7da" stroke="#a99ed6" stroke-width="0.5"/>
<rect x="350.8" y="472.1" width="5.7" height="2.3" fill="#d7d7da" stroke="#a99ed6" stroke-width="0.5"/>
<rect x="350.8" y="476.3" width="5.7" height="2.3" fill="#d7d7da" stroke="#a99ed6" stroke-width="0.5"/>
<rect x="350.8" y="480.5" width="5.7" height="2.3" fill="#d7d7da" stroke="#a99ed6" stroke-width="0.5"/>
<rect x="350.8" y="484.7" width="5.7" height="2.3" fill="#d7d7da" stroke="#a99ed6" stroke-width="0.5"/>
<rect x="349.5" y="512.5" width="9.3" height="7.5" fill="#2b8a2b" stroke="#fff" stroke-width="1"/>
<rect x="349.5" y="521.3" width="9.3" height="7.5" fill="#2b8a2b" stroke="#fff" stroke-width="1"/>
<circle cx="362.3" cy="515.5" r="2.9" fill="none" stroke="#fff" stroke-width="1.9"/>
<rect x="880.0" y="43.5" width="3.2" height="2.8" fill="#d7d7da" stroke="#a99ed6" stroke-width="0.5"/>
<rect x="888.5" y="43.5" width="3.2" height="2.8" fill="#d7d7da" stroke="#a99ed6" stroke-width="0.5"/>
<rect x="897.0" y="43.5" width="3.2" height="2.8" fill="#d7d7da" stroke="#a99ed6" stroke-width="0.5"/>
<rect x="905.5" y="43.5" width="3.2" height="2.8" fill="#d7d7da" stroke="#a99ed6" stroke-width="0.5"/>
<circle cx="950.0" cy="44.0" r="2.6" fill="none" stroke="#fff" stroke-width="1.8"/>
<circle cx="381.0" cy="44.0" r="2.6" fill="none" stroke="#fff" stroke-width="1.8"/>
<circle cx="297.7" cy="44.0" r="2.6" fill="none" stroke="#fff" stroke-width="1.8"/>
<polyline points="433.0,233.0 433.0,250.0" fill="none" stroke="#969696" stroke-width="1.2" stroke-linejoin="round" stroke-linecap="round"/>
<polyline points="447.0,233.0 447.0,250.0" fill="none" stroke="#969696" stroke-width="1.2" stroke-linejoin="round" stroke-linecap="round"/>
<polyline points="433.0,263.0 440.0,268.0 460.0,268.0" fill="none" stroke="#969696" stroke-width="1.2" stroke-linejoin="round" stroke-linecap="round"/>
<polyline points="471.0,245.0 480.0,245.0 484.0,250.0" fill="none" stroke="#969696" stroke-width="1.2" stroke-linejoin="round" stroke-linecap="round"/>
<polyline points="466.0,228.0 466.0,240.0" fill="none" stroke="#969696" stroke-width="1.2" stroke-linejoin="round" stroke-linecap="round"/>
<polyline points="403.0,238.0 403.0,246.0 395.0,246.0" fill="none" stroke="#969696" stroke-width="1.2" stroke-linejoin="round" stroke-linecap="round"/>
<polyline points="390.0,248.0 390.0,285.0" fill="none" stroke="#969696" stroke-width="1.2" stroke-linejoin="round" stroke-linecap="round"/>
<polyline points="409.0,248.0 409.0,285.0" fill="none" stroke="#969696" stroke-width="1.2" stroke-linejoin="round" stroke-linecap="round"/>
<polyline points="400.0,314.0 400.0,322.0" fill="none" stroke="#969696" stroke-width="1.2" stroke-linejoin="round" stroke-linecap="round"/>
<polyline points="372.0,300.0 385.0,300.0" fill="none" stroke="#969696" stroke-width="1.2" stroke-linejoin="round" stroke-linecap="round"/>
<polyline points="430.0,292.0 430.0,300.0 445.0,302.0" fill="none" stroke="#969696" stroke-width="1.2" stroke-linejoin="round" stroke-linecap="round"/>
<polyline points="419.0,328.0 410.0,328.0" fill="none" stroke="#969696" stroke-width="1.2" stroke-linejoin="round" stroke-linecap="round"/>
<polyline points="437.0,337.0 437.0,346.0 442.0,348.0" fill="none" stroke="#969696" stroke-width="1.2" stroke-linejoin="round" stroke-linecap="round"/>
<polyline points="456.0,345.0 449.0,348.0" fill="none" stroke="#969696" stroke-width="1.2" stroke-linejoin="round" stroke-linecap="round"/>
<polyline points="487.0,273.0 480.0,280.0 480.0,300.0" fill="none" stroke="#969696" stroke-width="1.2" stroke-linejoin="round" stroke-linecap="round"/>
<polyline points="481.0,311.0 470.0,318.0 470.0,340.0" fill="none" stroke="#969696" stroke-width="1.2" stroke-linejoin="round" stroke-linecap="round"/>
<polyline points="376.0,260.0 370.0,266.0" fill="none" stroke="#969696" stroke-width="1.2" stroke-linejoin="round" stroke-linecap="round"/>
<polyline points="380.0,340.0 380.0,349.0" fill="none" stroke="#969696" stroke-width="1.2" stroke-linejoin="round" stroke-linecap="round"/>
<polyline points="366.0,350.0 360.0,356.0" fill="none" stroke="#969696" stroke-width="1.2" stroke-linejoin="round" stroke-linecap="round"/>
<polyline points="487.0,295.0 493.0,300.0" fill="none" stroke="#969696" stroke-width="1.2" stroke-linejoin="round" stroke-linecap="round"/>
<polyline points="487.0,318.0 493.0,322.0" fill="none" stroke="#969696" stroke-width="1.2" stroke-linejoin="round" stroke-linecap="round"/>
<polyline points="620.0,381.0 612.0,376.0" fill="none" stroke="#969696" stroke-width="1.2" stroke-linejoin="round" stroke-linecap="round"/>
<polyline points="640.0,376.0 640.0,381.0" fill="none" stroke="#969696" stroke-width="1.2" stroke-linejoin="round" stroke-linecap="round"/>
<polyline points="684.0,392.0 672.0,392.0 672.0,386.0" fill="none" stroke="#969696" stroke-width="1.2" stroke-linejoin="round" stroke-linecap="round"/>
<polyline points="707.0,392.0 713.0,386.0" fill="none" stroke="#969696" stroke-width="1.2" stroke-linejoin="round" stroke-linecap="round"/>
<polyline points="748.0,383.0 748.0,376.0" fill="none" stroke="#969696" stroke-width="1.2" stroke-linejoin="round" stroke-linecap="round"/>
<polyline points="744.0,394.0 730.0,394.0 722.0,403.0" fill="none" stroke="#969696" stroke-width="1.2" stroke-linejoin="round" stroke-linecap="round"/>
<polyline points="646.0,410.0 646.0,420.0 630.0,430.0" fill="none" stroke="#969696" stroke-width="1.2" stroke-linejoin="round" stroke-linecap="round"/>
<polyline points="660.0,405.0 672.0,405.0" fill="none" stroke="#969696" stroke-width="1.2" stroke-linejoin="round" stroke-linecap="round"/>
<polyline points="729.0,414.0 729.0,431.0 735.0,436.0" fill="none" stroke="#969696" stroke-width="1.2" stroke-linejoin="round" stroke-linecap="round"/>
<polyline points="746.0,441.0 755.0,451.0" fill="none" stroke="#969696" stroke-width="1.2" stroke-linejoin="round" stroke-linecap="round"/>
<polyline points="767.0,459.0 770.0,470.0" fill="none" stroke="#969696" stroke-width="1.2" stroke-linejoin="round" stroke-linecap="round"/>
<polyline points="774.0,490.0 774.0,500.0" fill="none" stroke="#969696" stroke-width="1.2" stroke-linejoin="round" stroke-linecap="round"/>
<polyline points="768.0,524.0 760.0,530.0" fill="none" stroke="#969696" stroke-width="1.2" stroke-linejoin="round" stroke-linecap="round"/>
<polyline points="600.0,470.0 590.0,470.0" fill="none" stroke="#969696" stroke-width="1.2" stroke-linejoin="round" stroke-linecap="round"/>
<polyline points="625.0,503.0 625.0,520.0" fill="none" stroke="#969696" stroke-width="1.2" stroke-linejoin="round" stroke-linecap="round"/>
<polyline points="776.0,436.0 785.0,445.0" fill="none" stroke="#969696" stroke-width="1.2" stroke-linejoin="round" stroke-linecap="round"/>
<polyline points="778.0,411.0 778.0,423.0" fill="none" stroke="#969696" stroke-width="1.2" stroke-linejoin="round" stroke-linecap="round"/>
<polyline points="640.0,518.0 650.0,525.0 660.0,525.0" fill="none" stroke="#969696" stroke-width="1.2" stroke-linejoin="round" stroke-linecap="round"/>
<polyline points="603.0,395.0 610.0,400.0 636.0,405.0" fill="none" stroke="#969696" stroke-width="1.2" stroke-linejoin="round" stroke-linecap="round"/>
<rect x="608.0" y="428.0" width="9.5" height="7.5" fill="#5e7856" stroke="#8a8a8a" stroke-width="0.8"/>
<rect x="608.0" y="437.0" width="9.5" height="7.5" fill="#5e7856" stroke="#8a8a8a" stroke-width="0.8"/>
<rect x="612.5" y="451.0" width="12.5" height="10.5" fill="#5e7856" stroke="#8a8a8a" stroke-width="0.8"/>
<rect x="612.5" y="463.0" width="12.5" height="11.0" fill="#5e7856" stroke="#8a8a8a" stroke-width="0.8"/>
<rect x="603.0" y="489.0" width="6.5" height="7.0" fill="#5e7856" stroke="#8a8a8a" stroke-width="0.8"/>
<rect x="610.0" y="489.0" width="6.5" height="7.0" fill="#5e7856" stroke="#8a8a8a" stroke-width="0.8"/>
<rect x="608.0" y="498.0" width="9.5" height="7.5" fill="#5e7856" stroke="#8a8a8a" stroke-width="0.8"/>
<rect x="608.0" y="507.0" width="9.5" height="7.5" fill="#5e7856" stroke="#8a8a8a" stroke-width="0.8"/>
<circle cx="604.0" cy="440.0" r="2.5" fill="none" stroke="#8e8e8e" stroke-width="1.2"/>
<circle cx="606.0" cy="464.0" r="2.5" fill="none" stroke="#8e8e8e" stroke-width="1.2"/>
<circle cx="601.0" cy="500.0" r="2.5" fill="none" stroke="#8e8e8e" stroke-width="1.2"/>
<circle cx="779.0" cy="427.5" r="3.6" fill="#5e7856" stroke="#8a8a8a" stroke-width="0.8"/>
<circle cx="779.0" cy="464.0" r="3.6" fill="#5e7856" stroke="#8a8a8a" stroke-width="0.8"/></svg>
</div>


<div id="overlay">
  <div style="position:absolute;left:1031.2px;top:44px;width:1.2px;height:579.3px;background:rgba(60,40,32,0.4)"></div>
  <div style="position:absolute;left:1034px;top:623px;width:166px;height:1px;background:#d8d8d8"></div>
  <div style="position:absolute;left:199px;top:623.3px;width:835px;height:7px;background:#fff"></div>
  <div style="position:absolute;left:264.3px;top:536px;width:703px;height:53.6px;background:#e9e9e9"></div>
  <div class="a" style="left:273px;top:541.5px;font-size:10.5px;color:#222;font-weight:bold;letter-spacing:-0.2px">Result Details</div>
  <svg style="position:absolute;left:273px;top:560px" width="12" height="11" viewBox="0 0 12 11"><path d="M6 0.5L11.6 10.5H0.4Z" fill="#e2545a"/><rect x="5.4" y="3.6" width="1.2" height="3.8" fill="#fff"/><rect x="5.4" y="8.2" width="1.2" height="1.2" fill="#fff"/></svg>
  <div class="a" style="left:290px;top:561.5px;font-size:8.6px;color:#333;letter-spacing:-0.14px">0.500 mil (Min: 1.275)</div>
  <svg style="position:absolute;left:381px;top:559.5px" width="16" height="13" viewBox="0 0 16 13"><path d="M8 5.5L15 8.5L8 12L1 8.5Z" fill="#1c80aa"/><path d="M8 3L15 6L8 9.5L1 6Z" fill="#2b9bc8"/><path d="M8 0.5L15 3.5L8 7L1 3.5Z" fill="#46b3dc"/></svg>
  <div class="a" style="left:400.5px;top:561.5px;font-size:8.6px;color:#333;letter-spacing:-0.15px">soldermask-bottom</div>
  <div class="a" style="left:483px;top:561.5px;font-size:8.3px;color:#222;font-weight:bold;letter-spacing:-0.28px">Feature:</div>
  <div class="a" style="left:518px;top:561.5px;font-size:8.6px;color:#333;letter-spacing:-0.2px">r35 r36</div>
  <div class="a" style="left:555px;top:561.5px;font-size:8.3px;color:#222;font-weight:bold;letter-spacing:-0.28px">Net:</div>
  <div class="a" style="left:576px;top:561.5px;font-size:8.6px;color:#333;letter-spacing:-0.68px">POWER\FETDRAIN POWER\FETDRAIN</div>
  <div class="a" style="left:726.5px;top:561.5px;font-size:8.3px;color:#222;font-weight:bold;letter-spacing:-0.44px">Location:</div>
  <div class="a" style="left:765.5px;top:561.5px;font-size:8.6px;color:#333;letter-spacing:-0.25px">X: -1.487 in Y: 3.8 in</div>

  <div style="position:absolute;left:215.7px;top:589.6px;width:799.5px;height:40.4px;background:#fff"></div>
  <svg style="position:absolute;left:223px;top:598px" width="20" height="18" viewBox="0 0 20 18"><path d="M10 1L1.2 9.3L2.6 10.6L4 9.3V17H8.3V12H11.7V17H16V9.3L17.4 10.6L18.8 9.3L15.3 6V2.2H13.3V4.1Z" fill="#000"/></svg>
  <svg style="position:absolute;left:251px;top:600px" width="17" height="16" viewBox="0 0 17 16"><g fill="none" stroke="#000" stroke-width="1.6"><path d="M1.5 1.5L6 6M1.5 1.5V5M1.5 1.5H5"/><path d="M15.5 1.5L11 6M15.5 1.5V5M15.5 1.5H12"/><path d="M1.5 14.5L6 10M1.5 14.5V11M1.5 14.5H5"/><path d="M15.5 14.5L11 10M15.5 14.5V11M15.5 14.5H12"/></g></svg>
  <div style="position:absolute;left:288px;top:595.3px;width:56.6px;height:23px;border:1px solid #4a4a4a;border-radius:3.5px"></div>
  <div class="a" style="left:297px;top:602px;font-size:8.6px;color:#444;letter-spacing:-0.1px">Imperial</div>
  <div style="position:absolute;left:332.3px;top:603.5px;width:0;height:0;border-left:3.7px solid transparent;border-right:3.7px solid transparent;border-bottom:3.8px solid #555"></div>
  <div class="a" style="left:540.8px;top:601.5px;font-size:11px;color:#222;font-weight:bold;letter-spacing:-0.9px">X:</div>
  <div class="a" style="left:553.6px;top:601.5px;font-size:11px;color:#666;letter-spacing:-0.28px">-1.009 in</div>
  <div class="a" style="left:599.3px;top:601.5px;font-size:11px;color:#222;font-weight:bold;letter-spacing:-0.29px">Y:</div>
  <div class="a" style="left:611.8px;top:601.5px;font-size:11px;color:#666;letter-spacing:-0.22px">3.193 in</div>
  <div style="position:absolute;left:937.3px;top:596.3px;width:67.2px;height:20.8px;border:1px solid #3f87a8;border-radius:3px"></div>
  <div class="a" style="left:946px;top:602.5px;font-size:8.4px;color:#2f5f78;letter-spacing:-0.1px">Export to PDF</div>
</div>

<div id="right">
  <div style="position:absolute;left:1px;top:18.5px;width:0;height:0;border-top:4.3px solid transparent;border-bottom:4.3px solid transparent;border-left:7.5px solid #c4c4c4"></div>
  <div class="a" style="left:11px;top:18.5px;font-size:10px;color:#222;font-weight:bold;letter-spacing:-0.37px">Board Layers</div>
  <div class="cb on" style="top:46.55px"></div><div class="a lt on" style="top:48.00px">Top Components ()</div>
  <div class="cb" style="top:62.90px"></div><div class="a lt" style="top:64.35px">pastemask-top ()</div>
  <div class="cb" style="top:79.25px"></div><div class="a lt" style="top:80.70px">silkscreen-top ()</div>
  <div class="cb" style="top:95.60px"></div><div class="a lt" style="top:97.05px">soldermask-top ()</div>
  <div class="cb" style="top:111.95px"></div><div class="a lt" style="top:113.40px">layer-1 ()</div>
  <div class="cb" style="top:128.30px"></div><div class="a lt" style="top:129.75px">layer-2 ()</div>
  <div class="cb" style="top:144.65px"></div><div class="a lt" style="top:146.10px">layer-3 ()</div>
  <div class="cb" style="top:161.00px"></div><div class="a lt" style="top:162.45px">layer-4 ()</div>
  <div class="cb" style="top:177.35px"></div><div class="a lt" style="top:178.80px">layer-5 ()</div>
  <div class="cb" style="top:193.70px"></div><div class="a lt" style="top:195.15px">layer-6 ()</div>
  <div class="cb" style="top:210.05px"></div><div class="a lt" style="top:211.50px">layer-7 ()</div>
  <div class="cb on" style="top:226.40px"></div><div class="a lt on" style="top:227.85px">layer-8 ()</div>
  <div class="a dots" style="top:228.65px">&middot;&middot;&middot;</div>
  <div class="cb on" style="top:242.75px"></div><div class="a lt on" style="top:244.20px">soldermask-bottom ()</div>
  <div class="a dots" style="top:245.00px">&middot;&middot;&middot;</div>
  <div class="cb" style="top:259.10px"></div><div class="a lt" style="top:260.55px">silkscreen-bottom ()</div>
  <div class="cb" style="top:275.45px"></div><div class="a lt" style="top:276.90px">pastemask-bottom ()</div>
  <div class="cb" style="top:291.80px"></div><div class="a lt" style="top:293.25px">drill ()</div>
  <div class="cb" style="top:308.15px"></div><div class="a lt" style="top:309.60px">rout ()</div>
  <div class="cb" style="top:324.50px"></div><div class="a lt" style="top:325.95px">Bottom Components ()</div>
</div>

<!--MINI--><svg style="position:absolute;left:0;top:0;pointer-events:none" width="1200" height="630" viewBox="0 0 1200 630"><polygon points="1057.3,501.4 1188.4,501.4 1188.4,614 1056.8,614 1047.5,604.2 1047.5,510.8" fill="#c8886c"/><rect x="1129.4" y="501.9" width="30.5" height="5" fill="#7d7370" /><rect x="1130.5" y="503" width="1.2" height="3" fill="#a8a4b0" /><rect x="1132.9" y="503" width="1.2" height="3" fill="#a8a4b0" /><rect x="1135.3" y="503" width="1.2" height="3" fill="#a8a4b0" /><rect x="1137.7" y="503" width="1.2" height="3" fill="#a8a4b0" /><rect x="1140.1" y="503" width="1.2" height="3" fill="#a8a4b0" /><rect x="1142.5" y="503" width="1.2" height="3" fill="#a8a4b0" /><rect x="1144.9" y="503" width="1.2" height="3" fill="#a8a4b0" /><rect x="1147.3" y="503" width="1.2" height="3" fill="#a8a4b0" /><rect x="1149.7" y="503" width="1.2" height="3" fill="#a8a4b0" /><rect x="1152.1" y="503" width="1.2" height="3" fill="#a8a4b0" /><rect x="1154.5" y="503" width="1.2" height="3" fill="#a8a4b0" /><rect x="1156.9" y="503" width="1.2" height="3" fill="#a8a4b0" /><rect x="1166.3" y="502.4" width="22.1" height="13.3" fill="#7a6c66" /><rect x="1179" y="515.2" width="12" height="10" fill="#7a6c66" /><rect x="1189" y="515.7" width="2.4" height="9" fill="#8a8a8a" /><rect x="1174.6" y="525.6" width="13.8" height="58" fill="#7a6c66" /><rect x="1176" y="535" width="3" height="45" fill="#6e8068" /><rect x="1181" y="535" width="3" height="45" fill="#8a8f95" /><rect x="1188.4" y="534" width="7.4" height="40.2" fill="#8d8d8d" /><rect x="1167.2" y="583.5" width="21.2" height="30.5" fill="#7a6c66" /><rect x="1082.4" y="510.3" width="13.8" height="8.4" fill="#7a6c66" /><rect x="1089" y="504" width="7" height="3" fill="#7a7a88" /><circle cx="1050.9" cy="542.8" r="2.3" fill="#5a6470" stroke="#9a9ac8" stroke-width="0.6"/><circle cx="1050.9" cy="557" r="2.3" fill="#5a6470" stroke="#9a9ac8" stroke-width="0.6"/><circle cx="1058.8" cy="557" r="2.3" fill="#a8a8b8" stroke="#8080c0" stroke-width="0.6"/><circle cx="1055" cy="508" r="1.3" fill="#3f6050" /><circle cx="1174" cy="504.5" r="1.3" fill="#3f6050" /><rect x="1057.8" y="540.3" width="9.8" height="4.9" fill="#cfcfd2" /><rect x="1061.5" y="541" width="2" height="3.5" fill="#6a6a6a" /><rect x="1049" y="562.9" width="3.4" height="14.2" fill="#7a6c66" /><rect x="1067.1" y="567.8" width="5" height="13.8" fill="#7a6c66" /><rect x="1048" y="592.4" width="6.8" height="12" fill="#fff" /><rect x="1049.4" y="593.4" width="3" height="11.8" fill="#6f6f6f" /><polygon points="1048,604 1054.8,604 1054.8,606.2 1096.2,606.2 1096.2,614 1056.8,614 1048,605" fill="#fff"/><rect x="1057.8" y="608.6" width="7.9" height="3.4" fill="#6a6a6a" /><rect x="1075" y="608.6" width="4.4" height="3.4" fill="#6a6a6a" /><rect x="1082" y="608.6" width="12.7" height="3.4" fill="#6a6a6a" /><rect x="1120" y="606.2" width="12.8" height="7.8" fill="#fff" /><rect x="1134.8" y="606.2" width="22.6" height="7.8" fill="#fff" /><rect x="1137" y="608.6" width="7" height="3.4" fill="#6a6a6a" /><rect x="1148" y="608.6" width="8" height="3.4" fill="#6a6a6a" /><circle cx="1160.8" cy="605.2" r="2.6" fill="#d8d8e0" stroke="#6060b0" stroke-width="0.8"/><circle cx="1178.6" cy="529.3" r="2.3" fill="#e0e0e0" stroke="#3c5c3c" stroke-width="0.8"/><rect x="1085.2" y="511.7" width="2" height="2" fill="#7a6c66"/><rect x="1126.3" y="504.0" width="1" height="1.3" fill="#3a8a3a"/><rect x="1118.4" y="506.1" width="2.5" height="2" fill="#a8a0b8"/><rect x="1118.3" y="509.4" width="1.3" height="1" fill="#5a9a5a"/><rect x="1076.1" y="517.8" width="2.5" height="2" fill="#d4d4d8"/><rect x="1131.2" y="504.0" width="1" height="1.3" fill="#a8a0b8"/><rect x="1063.3" y="516.8" width="2.5" height="2" fill="#5a9a5a"/><rect x="1157.5" y="509.2" width="2.5" height="1.3" fill="#5a9a5a"/><rect x="1144.9" y="510.1" width="1.3" height="1.3" fill="#d4d4d8"/><rect x="1063.8" y="510.9" width="2" height="2" fill="#7a6c66"/><rect x="1142.6" y="516.7" width="2.5" height="2" fill="#a8a0b8"/><rect x="1100.9" y="508.6" width="2.5" height="2" fill="#d4d4d8"/><rect x="1155.8" y="513.9" width="1" height="1.3" fill="#e8e8e8"/><rect x="1131.2" y="505.6" width="2" height="2" fill="#e8e8e8"/><rect x="1120.3" y="514.4" width="1.3" height="2" fill="#a8a0b8"/><rect x="1164.7" y="507.3" width="1" height="1" fill="#7a6c66"/><rect x="1150.5" y="518.8" width="1" height="1.3" fill="#a8a0b8"/><rect x="1067.1" y="517.4" width="1" height="1.3" fill="#7a6c66"/><rect x="1141.5" y="517.0" width="1" height="2" fill="#e8e8e8"/><rect x="1140.7" y="509.0" width="2" height="2" fill="#3a8a3a"/><rect x="1113.6" y="519.0" width="2" height="1" fill="#d4d4d8"/><rect x="1071.5" y="511.6" width="1.3" height="1.3" fill="#3a8a3a"/><rect x="1124.7" y="505.5" width="1" height="1.3" fill="#3a8a3a"/><rect x="1098.2" y="505.2" width="2.5" height="1.3" fill="#7a6c66"/><rect x="1152.2" y="509.2" width="1" height="2" fill="#a8a0b8"/><rect x="1113.7" y="509.9" width="1.3" height="1.3" fill="#7a6c66"/><rect x="1163.6" y="511.3" width="2" height="1" fill="#a8a0b8"/><rect x="1104.0" y="512.3" width="1" height="1.3" fill="#e8e8e8"/><rect x="1122.5" y="505.1" width="2" height="1.3" fill="#3a8a3a"/><rect x="1132.0" y="508.6" width="2" height="2" fill="#7a6c66"/><rect x="1062.4" y="504.0" width="1" height="1.3" fill="#3a8a3a"/><rect x="1126.6" y="507.8" width="2" height="1" fill="#3a8a3a"/><rect x="1079.6" y="515.1" width="2" height="1.3" fill="#a8a0b8"/><rect x="1100.0" y="515.4" width="1" height="2" fill="#5a9a5a"/><rect x="1137.9" y="508.0" width="1.3" height="2" fill="#a8a0b8"/><rect x="1088.6" y="508.2" width="2.5" height="2" fill="#5a9a5a"/><rect x="1070.3" y="512.6" width="2" height="2" fill="#a8a0b8"/><rect x="1083.8" y="516.0" width="1.3" height="1" fill="#3a8a3a"/><rect x="1138.7" y="506.5" width="2.5" height="1.3" fill="#d4d4d8"/><rect x="1143.4" y="503.5" width="1.3" height="1.3" fill="#a8a0b8"/><rect x="1148.6" y="512.2" width="2" height="1.3" fill="#a8a0b8"/><rect x="1147.8" y="504.4" width="2" height="2" fill="#d4d4d8"/><rect x="1104.7" y="511.3" width="2" height="1.3" fill="#3a8a3a"/><rect x="1127.2" y="507.6" width="2.5" height="1" fill="#7a6c66"/><rect x="1076.5" y="503.1" width="2.5" height="2" fill="#5a9a5a"/><rect x="1083.5" y="514.9" width="2" height="2" fill="#3a8a3a"/><rect x="1154.3" y="516.8" width="2" height="1" fill="#a8a0b8"/><rect x="1085.9" y="503.6" width="1.3" height="1.3" fill="#e8e8e8"/><rect x="1065.2" y="510.7" width="1" height="1" fill="#e8e8e8"/><rect x="1091.8" y="513.6" width="2.5" height="1" fill="#e8e8e8"/><rect x="1072.0" y="505.0" width="2.5" height="1" fill="#3a8a3a"/><rect x="1083.4" y="505.0" width="1" height="1" fill="#d4d4d8"/><rect x="1143.9" y="517.7" width="1.3" height="1" fill="#7a6c66"/><rect x="1126.6" y="516.8" width="1" height="1.3" fill="#d4d4d8"/><rect x="1088.5" y="511.4" width="2.5" height="1" fill="#7a6c66"/><rect x="1094.3" y="516.1" width="1" height="1" fill="#d4d4d8"/><rect x="1073.2" y="504.1" width="1" height="2" fill="#d4d4d8"/><rect x="1114.6" y="510.8" width="1.3" height="1.3" fill="#d4d4d8"/><rect x="1097.2" y="513.4" width="2" height="1.3" fill="#3a8a3a"/><rect x="1080.3" y="508.3" width="1" height="1" fill="#e8e8e8"/><rect x="1060.4" y="514.6" width="1" height="2" fill="#d4d4d8"/><rect x="1064.6" y="510.4" width="2.5" height="2" fill="#a8a0b8"/><rect x="1064.6" y="517.2" width="1" height="1.3" fill="#5a9a5a"/><rect x="1112.6" y="514.2" width="2.5" height="2" fill="#7a6c66"/><rect x="1108.8" y="506.9" width="2" height="2" fill="#e8e8e8"/><rect x="1067.6" y="509.8" width="2.5" height="1" fill="#d4d4d8"/><rect x="1159.3" y="509.0" width="2" height="1" fill="#7a6c66"/><rect x="1133.2" y="518.0" width="2.5" height="2" fill="#d4d4d8"/><rect x="1137.8" y="512.0" width="1" height="2" fill="#5a9a5a"/><rect x="1060.5" y="505.3" width="2.5" height="1" fill="#e8e8e8"/><rect x="1069.7" y="504.6" width="2.5" height="1" fill="#a8a0b8"/><rect x="1062.5" y="516.5" width="1" height="1" fill="#a8a0b8"/><rect x="1072.2" y="510.7" width="2" height="2" fill="#3a8a3a"/><rect x="1144.7" y="503.6" width="1.3" height="1" fill="#e8e8e8"/><rect x="1139.4" y="518.0" width="1" height="2" fill="#3a8a3a"/><rect x="1152.2" y="505.9" width="1" height="1" fill="#d4d4d8"/><rect x="1128.5" y="510.3" width="2.5" height="1.3" fill="#3a8a3a"/><rect x="1123.5" y="518.0" width="2.5" height="1" fill="#7a6c66"/><rect x="1113.0" y="518.6" width="2.5" height="2" fill="#d4d4d8"/><rect x="1104.0" y="512.1" width="2.5" height="1" fill="#5a9a5a"/><rect x="1102.5" y="517.2" width="1.3" height="1" fill="#7a6c66"/><rect x="1139.3" y="517.7" width="2.5" height="2" fill="#5a9a5a"/><rect x="1151.0" y="505.2" width="1.3" height="1" fill="#e8e8e8"/><rect x="1114.7" y="518.0" width="2" height="2" fill="#5a9a5a"/><rect x="1150.7" y="512.5" width="2" height="1" fill="#3a8a3a"/><rect x="1062.5" y="510.7" width="2.5" height="1" fill="#d4d4d8"/><rect x="1120.4" y="506.8" width="2.5" height="1" fill="#7a6c66"/><rect x="1165.1" y="510.7" width="1.3" height="1.3" fill="#e8e8e8"/><rect x="1148.5" y="516.1" width="1" height="1.3" fill="#5a9a5a"/><rect x="1067.7" y="518.2" width="1" height="1.3" fill="#d4d4d8"/><rect x="1154.4" y="513.4" width="1" height="1" fill="#a8a0b8"/><rect x="1086.9" y="517.2" width="2" height="1" fill="#d4d4d8"/><rect x="1125.9" y="513.8" width="1" height="1.3" fill="#d4d4d8"/><rect x="1151.7" y="508.0" width="2.5" height="1" fill="#5a9a5a"/><rect x="1144.7" y="504.9" width="2" height="1.3" fill="#d4d4d8"/><rect x="1097.8" y="512.3" width="2" height="1" fill="#d4d4d8"/><rect x="1095.5" y="510.0" width="2.5" height="1" fill="#d4d4d8"/><rect x="1128.3" y="514.9" width="2.5" height="1.3" fill="#d4d4d8"/><rect x="1117.7" y="504.9" width="2" height="1" fill="#5a9a5a"/><rect x="1105.9" y="510.0" width="2" height="1" fill="#e8e8e8"/><rect x="1159.8" y="509.0" width="2" height="1.3" fill="#3a8a3a"/><rect x="1130.3" y="513.7" width="2" height="1" fill="#a8a0b8"/><rect x="1160.1" y="508.4" width="1" height="2" fill="#7a6c66"/><rect x="1113.9" y="504.0" width="2" height="2" fill="#5a9a5a"/><rect x="1120.0" y="505.9" width="1.3" height="1" fill="#3a8a3a"/><rect x="1154.3" y="513.5" width="1" height="1" fill="#e8e8e8"/><rect x="1075.0" y="508.3" width="2.5" height="2" fill="#3a8a3a"/><rect x="1128.6" y="510.3" width="2" height="1" fill="#5a9a5a"/><rect x="1067.3" y="514.5" width="2.5" height="1.3" fill="#d4d4d8"/><rect x="1088.2" y="509.1" width="1.3" height="1" fill="#7a6c66"/><rect x="1113.5" y="507.0" width="2" height="1.3" fill="#7a6c66"/><rect x="1107.5" y="515.9" width="1" height="1.3" fill="#7a6c66"/><rect x="1149.8" y="504.8" width="2" height="2" fill="#d4d4d8"/><rect x="1132.2" y="512.0" width="1" height="1" fill="#5a9a5a"/><rect x="1080.1" y="509.7" width="2.5" height="2" fill="#d4d4d8"/><rect x="1122.7" y="505.3" width="2.5" height="1" fill="#e8e8e8"/><rect x="1115.9" y="512.1" width="1.3" height="1.3" fill="#3a8a3a"/><rect x="1142.9" y="503.5" width="2.5" height="1.3" fill="#a8a0b8"/><rect x="1100.6" y="511.8" width="2" height="2" fill="#7a6c66"/><rect x="1163.6" y="514.0" width="2" height="2" fill="#7a6c66"/><rect x="1063.2" y="506.0" width="1" height="1" fill="#a8a0b8"/><rect x="1140.1" y="506.7" width="1.3" height="2" fill="#5a9a5a"/><rect x="1108.8" y="506.1" width="1.3" height="1" fill="#a8a0b8"/><rect x="1113.0" y="513.3" width="2.5" height="1" fill="#e8e8e8"/><rect x="1090.0" y="513.5" width="1.3" height="1" fill="#7a6c66"/><rect x="1144.0" y="513.0" width="1" height="1" fill="#3a8a3a"/><rect x="1125.5" y="511.1" width="2.5" height="2" fill="#d4d4d8"/><rect x="1158.6" y="508.2" width="2" height="2" fill="#5a9a5a"/><rect x="1074.2" y="516.7" width="1" height="2" fill="#d4d4d8"/><rect x="1138.4" y="508.5" width="1.3" height="1" fill="#a8a0b8"/><rect x="1081.2" y="514.2" width="1.3" height="1.3" fill="#3a8a3a"/><rect x="1071.6" y="503.7" width="1" height="1" fill="#5a9a5a"/><rect x="1077.0" y="511.0" width="1" height="2" fill="#a8a0b8"/><rect x="1104.7" y="513.4" width="2" height="1" fill="#7a6c66"/><rect x="1108.5" y="514.1" width="2.5" height="1" fill="#7a6c66"/><rect x="1155.3" y="514.5" width="2" height="1.3" fill="#7a6c66"/><rect x="1116.1" y="512.5" width="1.3" height="1" fill="#a8a0b8"/><rect x="1082.2" y="515.5" width="1.3" height="1.3" fill="#e8e8e8"/><rect x="1080.7" y="506.3" width="1.3" height="2" fill="#7a6c66"/><rect x="1113.4" y="513.2" width="1.3" height="1" fill="#e8e8e8"/><rect x="1077.8" y="510.8" width="1" height="1" fill="#7a6c66"/><rect x="1107.5" y="509.5" width="1" height="1" fill="#7a6c66"/><rect x="1064.1" y="510.9" width="1.3" height="1" fill="#d4d4d8"/><rect x="1101.2" y="506.1" width="2" height="2" fill="#d4d4d8"/><rect x="1096.7" y="505.0" width="1" height="2" fill="#3a8a3a"/><rect x="1089.2" y="515.6" width="2.5" height="1.3" fill="#7a6c66"/><rect x="1086.5" y="507.3" width="2" height="2" fill="#3a8a3a"/><rect x="1093.6" y="503.9" width="2.5" height="1" fill="#e8e8e8"/><rect x="1125.5" y="504.7" width="1" height="1" fill="#d4d4d8"/><rect x="1113.3" y="510.7" width="1.3" height="2" fill="#e8e8e8"/><rect x="1155.4" y="506.2" width="2.5" height="1.3" fill="#a8a0b8"/><rect x="1110.7" y="508.6" width="1" height="1.3" fill="#3a8a3a"/><rect x="1139.7" y="513.1" width="2.5" height="1" fill="#3a8a3a"/><rect x="1079.5" y="509.6" width="2.5" height="2" fill="#3a8a3a"/><rect x="1116.9" y="515.5" width="2.5" height="1" fill="#a8a0b8"/><rect x="1138.4" y="514.7" width="2" height="1" fill="#3a8a3a"/><rect x="1145.0" y="510.0" width="2.5" height="2" fill="#7a6c66"/><rect x="1096.6" y="516.1" width="2.5" height="1.3" fill="#d4d4d8"/><rect x="1076.3" y="514.4" width="1" height="1.3" fill="#d4d4d8"/><rect x="1140.4" y="513.8" width="1" height="1.3" fill="#d4d4d8"/><rect x="1123.7" y="515.8" width="1" height="2" fill="#a8a0b8"/><rect x="1065.1" y="510.5" width="2" height="1.3" fill="#d4d4d8"/><rect x="1067.6" y="509.4" width="1" height="1.3" fill="#e8e8e8"/><rect x="1093.0" y="510.2" width="1.3" height="1" fill="#5a9a5a"/><rect x="1065.2" y="505.4" width="1.3" height="2" fill="#d4d4d8"/><rect x="1071.9" y="507.6" width="1.3" height="1" fill="#a8a0b8"/><rect x="1119.6" y="509.7" width="2" height="2" fill="#a8a0b8"/><rect x="1079.9" y="505.8" width="1" height="1" fill="#a8a0b8"/><rect x="1145.5" y="512.6" width="1" height="1" fill="#3a8a3a"/><rect x="1069.1" y="510.4" width="1.3" height="2" fill="#e8e8e8"/><rect x="1071.5" y="510.8" width="2" height="1.3" fill="#e8e8e8"/><rect x="1130.1" y="515.4" width="2" height="2" fill="#7a6c66"/><rect x="1146.4" y="506.3" width="1" height="1.3" fill="#3a8a3a"/><rect x="1137.2" y="504.2" width="2" height="1" fill="#7a6c66"/><rect x="1139.9" y="517.8" width="2" height="1.3" fill="#a8a0b8"/><rect x="1128.7" y="512.7" width="1.3" height="1" fill="#3a8a3a"/><rect x="1148.8" y="504.0" width="1.3" height="1.3" fill="#7a6c66"/><rect x="1068.9" y="506.5" width="1.3" height="2" fill="#d4d4d8"/><rect x="1137.0" y="517.0" width="2.5" height="2" fill="#e8e8e8"/><rect x="1150.4" y="508.9" width="1.3" height="2" fill="#7a6c66"/><rect x="1059.6" y="579.8" width="2.5" height="1.3" fill="#e8e8e8"/><rect x="1070.1" y="558.1" width="1" height="1" fill="#d4d4d8"/><rect x="1048.7" y="551.8" width="1" height="2" fill="#7a6c66"/><rect x="1049.0" y="578.5" width="2" height="1.3" fill="#7a6c66"/><rect x="1048.9" y="566.1" width="1.3" height="2" fill="#a8a0b8"/><rect x="1054.9" y="549.7" width="2" height="1.3" fill="#7a6c66"/><rect x="1049.9" y="551.9" width="2" height="1.3" fill="#a8a0b8"/><rect x="1069.0" y="561.8" width="1.3" height="1.3" fill="#3a8a3a"/><rect x="1070.6" y="566.3" width="1.3" height="1.3" fill="#a8a0b8"/><rect x="1054.9" y="546.3" width="2" height="1.3" fill="#a8a0b8"/><rect x="1067.9" y="578.6" width="1" height="1" fill="#d4d4d8"/><rect x="1063.1" y="551.7" width="1" height="1" fill="#d4d4d8"/><rect x="1048.0" y="589.3" width="2.5" height="1.3" fill="#a8a0b8"/><rect x="1056.7" y="569.9" width="2.5" height="1" fill="#d4d4d8"/><rect x="1048.3" y="564.5" width="2" height="1" fill="#e8e8e8"/><rect x="1061.1" y="549.2" width="2" height="1.3" fill="#d4d4d8"/><rect x="1064.1" y="567.4" width="2" height="1.3" fill="#d4d4d8"/><rect x="1048.7" y="546.7" width="1.3" height="2" fill="#d4d4d8"/><rect x="1070.9" y="578.5" width="2.5" height="2" fill="#a8a0b8"/><rect x="1067.9" y="569.8" width="2" height="1" fill="#d4d4d8"/><rect x="1049.1" y="566.9" width="1" height="1.3" fill="#7a6c66"/><rect x="1060.5" y="579.0" width="2.5" height="1.3" fill="#e8e8e8"/><rect x="1063.2" y="558.2" width="1" height="2" fill="#d4d4d8"/><rect x="1071.8" y="569.6" width="2.5" height="1.3" fill="#7a6c66"/><rect x="1058.9" y="581.1" width="2.5" height="1.3" fill="#e8e8e8"/><rect x="1051.7" y="559.2" width="1" height="1.3" fill="#7a6c66"/><rect x="1068.4" y="582.2" width="2" height="1" fill="#3a8a3a"/><rect x="1061.8" y="569.7" width="2.5" height="1" fill="#3a8a3a"/><rect x="1066.9" y="578.9" width="2" height="1" fill="#7a6c66"/><rect x="1064.0" y="561.7" width="2.5" height="2" fill="#7a6c66"/><rect x="1052.7" y="586.4" width="1.3" height="2" fill="#7a6c66"/><rect x="1070.6" y="562.8" width="1" height="1.3" fill="#d4d4d8"/><rect x="1070.8" y="587.5" width="2" height="2" fill="#7a6c66"/><rect x="1061.3" y="546.6" width="2.5" height="1.3" fill="#7a6c66"/><rect x="1071.5" y="548.6" width="1.3" height="1" fill="#5a9a5a"/><rect x="1049.9" y="568.7" width="1" height="2" fill="#a8a0b8"/><rect x="1067.6" y="545.2" width="2" height="2" fill="#d4d4d8"/><rect x="1058.4" y="589.3" width="2.5" height="1.3" fill="#3a8a3a"/><rect x="1061.1" y="547.1" width="1.3" height="1.3" fill="#d4d4d8"/><rect x="1051.5" y="585.7" width="1.3" height="2" fill="#7a6c66"/><rect x="1064.2" y="574.1" width="1.3" height="1.3" fill="#d4d4d8"/><rect x="1052.3" y="573.2" width="2" height="1" fill="#5a9a5a"/><rect x="1067.7" y="584.4" width="1" height="2" fill="#d4d4d8"/><rect x="1060.8" y="562.2" width="1" height="1.3" fill="#7a6c66"/><rect x="1052.4" y="546.2" width="1" height="1" fill="#d4d4d8"/><rect x="1051.5" y="550.7" width="2" height="2" fill="#d4d4d8"/><rect x="1070.4" y="545.3" width="2" height="1" fill="#7a6c66"/><rect x="1053.9" y="560.9" width="2.5" height="1" fill="#5a9a5a"/><rect x="1068.3" y="566.3" width="2" height="2" fill="#5a9a5a"/><rect x="1068.5" y="564.9" width="2.5" height="1.3" fill="#e8e8e8"/><rect x="1060.9" y="564.9" width="2.5" height="1.3" fill="#d4d4d8"/><rect x="1066.2" y="558.3" width="1.3" height="1.3" fill="#a8a0b8"/><rect x="1068.2" y="552.6" width="2" height="1" fill="#d4d4d8"/><rect x="1049.3" y="589.0" width="2.5" height="2" fill="#a8a0b8"/><rect x="1052.3" y="570.8" width="1.3" height="1" fill="#a8a0b8"/><rect x="1057.7" y="570.6" width="2" height="2" fill="#5a9a5a"/><rect x="1066.4" y="549.2" width="2.5" height="1.3" fill="#d4d4d8"/><rect x="1062.2" y="554.8" width="2.5" height="2" fill="#e8e8e8"/><rect x="1057.0" y="559.3" width="2" height="2" fill="#e8e8e8"/><rect x="1066.5" y="577.5" width="2" height="2" fill="#a8a0b8"/><rect x="1093.9" y="605.6" width="2" height="1.3" fill="#d4d4d8"/><rect x="1069.7" y="597.0" width="2" height="2" fill="#5a9a5a"/><rect x="1083.6" y="595.8" width="2" height="1.3" fill="#d4d4d8"/><rect x="1109.0" y="597.6" width="1.3" height="2" fill="#e8e8e8"/><rect x="1113.8" y="605.9" width="1" height="1" fill="#7a6c66"/><rect x="1103.2" y="603.3" width="2" height="1" fill="#d4d4d8"/><rect x="1150.8" y="594.9" width="1" height="1.3" fill="#e8e8e8"/><rect x="1079.8" y="597.9" width="1" height="1.3" fill="#5a9a5a"/><rect x="1152.3" y="600.8" width="2" height="1" fill="#3a8a3a"/><rect x="1097.3" y="594.7" width="2.5" height="1.3" fill="#5a9a5a"/><rect x="1132.1" y="589.9" width="2.5" height="1" fill="#3a8a3a"/><rect x="1080.4" y="594.7" width="1" height="1" fill="#d4d4d8"/><rect x="1079.2" y="595.8" width="1.3" height="1" fill="#d4d4d8"/><rect x="1115.8" y="604.6" width="2.5" height="2" fill="#3a8a3a"/><rect x="1148.0" y="603.1" width="1.3" height="1.3" fill="#3a8a3a"/><rect x="1131.8" y="590.2" width="2.5" height="1" fill="#7a6c66"/><rect x="1071.4" y="593.5" width="1.3" height="1" fill="#a8a0b8"/><rect x="1075.3" y="603.9" width="2.5" height="1" fill="#a8a0b8"/><rect x="1095.0" y="588.1" width="1.3" height="1.3" fill="#3a8a3a"/><rect x="1071.5" y="591.7" width="2.5" height="2" fill="#5a9a5a"/><rect x="1161.4" y="593.4" width="2" height="1" fill="#5a9a5a"/><rect x="1164.7" y="600.4" width="1" height="1" fill="#7a6c66"/><rect x="1153.4" y="601.4" width="2" height="1" fill="#a8a0b8"/><rect x="1057.1" y="596.6" width="2.5" height="2" fill="#d4d4d8"/><rect x="1147.7" y="594.0" width="2.5" height="2" fill="#d4d4d8"/><rect x="1154.1" y="591.6" width="2.5" height="1" fill="#d4d4d8"/><rect x="1127.2" y="588.5" width="1.3" height="2" fill="#a8a0b8"/><rect x="1065.5" y="592.2" width="2.5" height="2" fill="#7a6c66"/><rect x="1087.6" y="605.7" width="1.3" height="1" fill="#e8e8e8"/><rect x="1089.1" y="604.2" width="1.3" height="2" fill="#e8e8e8"/><rect x="1096.5" y="597.3" width="2" height="2" fill="#a8a0b8"/><rect x="1136.2" y="597.5" width="2.5" height="1" fill="#5a9a5a"/><rect x="1104.0" y="593.6" width="1.3" height="1.3" fill="#a8a0b8"/><rect x="1150.8" y="591.3" width="1" height="1.3" fill="#d4d4d8"/><rect x="1159.0" y="597.0" width="1.3" height="1.3" fill="#d4d4d8"/><rect x="1139.8" y="593.9" width="1.3" height="1.3" fill="#a8a0b8"/><rect x="1131.6" y="601.1" width="1.3" height="1.3" fill="#3a8a3a"/><rect x="1099.2" y="591.2" width="2" height="1.3" fill="#3a8a3a"/><rect x="1061.9" y="605.4" width="1" height="1" fill="#d4d4d8"/><rect x="1089.7" y="591.1" width="1.3" height="1" fill="#7a6c66"/><rect x="1133.7" y="591.9" width="2" height="2" fill="#d4d4d8"/><rect x="1075.5" y="601.5" width="2.5" height="2" fill="#e8e8e8"/><rect x="1103.1" y="591.2" width="2" height="1.3" fill="#3a8a3a"/><rect x="1062.2" y="602.2" width="2.5" height="1.3" fill="#d4d4d8"/><rect x="1120.3" y="592.8" width="2.5" height="2" fill="#7a6c66"/><rect x="1080.6" y="602.7" width="2.5" height="1.3" fill="#7a6c66"/><rect x="1166.5" y="596.7" width="1.3" height="1" fill="#5a9a5a"/><rect x="1102.5" y="603.6" width="1.3" height="2" fill="#3a8a3a"/><rect x="1067.9" y="597.5" width="2" height="1.3" fill="#5a9a5a"/><rect x="1115.9" y="603.5" width="2.5" height="1.3" fill="#7a6c66"/><rect x="1060.6" y="594.3" width="1.3" height="2" fill="#d4d4d8"/><rect x="1133.9" y="605.6" width="2" height="2" fill="#5a9a5a"/><rect x="1154.2" y="597.7" width="2.5" height="2" fill="#5a9a5a"/><rect x="1088.3" y="588.2" width="2" height="1.3" fill="#7a6c66"/><rect x="1097.1" y="591.3" width="2" height="2" fill="#d4d4d8"/><rect x="1118.4" y="594.9" width="1" height="1.3" fill="#e8e8e8"/><rect x="1074.0" y="604.5" width="2.5" height="1" fill="#e8e8e8"/><rect x="1099.8" y="591.5" width="2.5" height="2" fill="#e8e8e8"/><rect x="1096.6" y="601.0" width="2.5" height="2" fill="#d4d4d8"/><rect x="1074.4" y="600.0" width="1" height="1" fill="#e8e8e8"/><rect x="1115.7" y="604.6" width="2" height="1.3" fill="#3a8a3a"/><rect x="1063.3" y="593.0" width="2" height="1" fill="#3a8a3a"/><rect x="1069.0" y="605.1" width="2.5" height="1.3" fill="#7a6c66"/><rect x="1072.4" y="594.6" width="1.3" height="1.3" fill="#e8e8e8"/><rect x="1142.6" y="605.1" width="1.3" height="1" fill="#3a8a3a"/><rect x="1143.8" y="601.2" width="1" height="1" fill="#a8a0b8"/><rect x="1134.1" y="601.5" width="1.3" height="1.3" fill="#3a8a3a"/><rect x="1164.2" y="593.9" width="1.3" height="1" fill="#d4d4d8"/><rect x="1130.1" y="592.9" width="1.3" height="1.3" fill="#a8a0b8"/><rect x="1105.0" y="595.7" width="2.5" height="1.3" fill="#3a8a3a"/><rect x="1088.8" y="592.9" width="2.5" height="1" fill="#d4d4d8"/><rect x="1059.5" y="595.8" width="1" height="1" fill="#a8a0b8"/><rect x="1140.2" y="597.1" width="1.3" height="2" fill="#5a9a5a"/><rect x="1127.5" y="592.6" width="2" height="1" fill="#d4d4d8"/><rect x="1073.6" y="605.6" width="1" height="1.3" fill="#7a6c66"/><rect x="1138.0" y="590.7" width="2" height="2" fill="#a8a0b8"/><rect x="1123.0" y="590.9" width="1.3" height="1" fill="#e8e8e8"/><rect x="1064.9" y="600.3" width="1" height="1" fill="#5a9a5a"/><rect x="1065.2" y="602.1" width="2.5" height="2" fill="#7a6c66"/><rect x="1117.4" y="599.9" width="2.5" height="1.3" fill="#d4d4d8"/><rect x="1133.8" y="588.0" width="2" height="2" fill="#5a9a5a"/><rect x="1102.1" y="588.1" width="2" height="2" fill="#5a9a5a"/><rect x="1092.4" y="605.5" width="1" height="1" fill="#a8a0b8"/><rect x="1079.5" y="588.2" width="2.5" height="2" fill="#5a9a5a"/><rect x="1092.3" y="592.0" width="2.5" height="1" fill="#a8a0b8"/><rect x="1056.6" y="591.9" width="1.3" height="1.3" fill="#7a6c66"/><rect x="1066.6" y="593.7" width="1" height="2" fill="#5a9a5a"/><rect x="1122.3" y="593.2" width="1" height="1.3" fill="#d4d4d8"/><rect x="1121.3" y="592.0" width="2.5" height="2" fill="#e8e8e8"/><rect x="1085.5" y="601.7" width="2.5" height="2" fill="#5a9a5a"/><rect x="1079.2" y="598.6" width="2" height="1" fill="#d4d4d8"/><rect x="1144.2" y="597.0" width="1" height="1.3" fill="#e8e8e8"/><rect x="1160.2" y="590.7" width="1.3" height="1.3" fill="#e8e8e8"/><rect x="1074.7" y="594.6" width="2" height="1" fill="#d4d4d8"/><rect x="1111.4" y="596.6" width="1.3" height="2" fill="#a8a0b8"/><rect x="1102.0" y="588.2" width="2.5" height="2" fill="#d4d4d8"/><rect x="1062.5" y="597.1" width="2.5" height="1" fill="#d4d4d8"/><rect x="1094.2" y="593.3" width="2.5" height="1.3" fill="#3a8a3a"/><rect x="1142.4" y="602.4" width="2" height="2" fill="#e8e8e8"/><rect x="1065.8" y="605.4" width="1" height="1" fill="#5a9a5a"/><rect x="1077.3" y="589.5" width="2.5" height="2" fill="#5a9a5a"/><rect x="1141.4" y="597.2" width="1.3" height="1" fill="#5a9a5a"/><rect x="1089.4" y="603.4" width="1" height="1.3" fill="#d4d4d8"/><rect x="1096.2" y="597.0" width="1" height="1.3" fill="#5a9a5a"/><rect x="1134.9" y="598.1" width="2.5" height="1.3" fill="#7a6c66"/><rect x="1094.1" y="604.9" width="2" height="1.3" fill="#7a6c66"/><rect x="1137.9" y="592.6" width="2.5" height="2" fill="#3a8a3a"/><rect x="1078.8" y="589.8" width="2" height="2" fill="#7a6c66"/><rect x="1162.2" y="596.6" width="1.3" height="2" fill="#3a8a3a"/><rect x="1122.6" y="599.9" width="1" height="2" fill="#7a6c66"/><rect x="1082.8" y="591.3" width="1" height="2" fill="#d4d4d8"/><rect x="1157.4" y="596.1" width="2.5" height="1.3" fill="#e8e8e8"/><rect x="1120.0" y="594.8" width="1" height="1.3" fill="#5a9a5a"/><rect x="1146.6" y="595.1" width="2.5" height="1.3" fill="#e8e8e8"/><rect x="1080.4" y="592.1" width="1.3" height="2" fill="#d4d4d8"/><rect x="1127.3" y="601.1" width="1" height="2" fill="#a8a0b8"/><rect x="1100.5" y="596.6" width="2.5" height="2" fill="#d4d4d8"/><rect x="1108.6" y="589.0" width="1.3" height="1" fill="#d4d4d8"/><rect x="1118.9" y="600.3" width="1" height="1" fill="#7a6c66"/><rect x="1142.2" y="604.2" width="1" height="1" fill="#e8e8e8"/><rect x="1079.8" y="604.5" width="1.3" height="1.3" fill="#7a6c66"/><rect x="1166.1" y="590.8" width="2.5" height="1.3" fill="#3a8a3a"/><rect x="1125.5" y="597.3" width="1" height="1.3" fill="#e8e8e8"/><rect x="1058.0" y="605.1" width="2" height="2" fill="#7a6c66"/><rect x="1079.8" y="590.2" width="1.3" height="1" fill="#d4d4d8"/><rect x="1154.5" y="592.4" width="1.3" height="1.3" fill="#d4d4d8"/><rect x="1138.0" y="589.7" width="2" height="1" fill="#a8a0b8"/><rect x="1116.2" y="598.1" width="2.5" height="1" fill="#e8e8e8"/><rect x="1127.5" y="602.7" width="1.3" height="1" fill="#a8a0b8"/><rect x="1086.8" y="598.5" width="2" height="1.3" fill="#d4d4d8"/><rect x="1088.3" y="594.2" width="1.3" height="1" fill="#5a9a5a"/><rect x="1117.9" y="590.1" width="2.5" height="1.3" fill="#d4d4d8"/><rect x="1115.2" y="595.1" width="2" height="2" fill="#d4d4d8"/><rect x="1106.1" y="591.7" width="2" height="2" fill="#d4d4d8"/><rect x="1067.8" y="604.2" width="2.5" height="2" fill="#3a8a3a"/><rect x="1144.2" y="602.0" width="1.3" height="1.3" fill="#5a9a5a"/><rect x="1069.8" y="598.4" width="1" height="1" fill="#a8a0b8"/><rect x="1091.5" y="598.8" width="1.3" height="1.3" fill="#d4d4d8"/><rect x="1068.6" y="593.7" width="1" height="1.3" fill="#3a8a3a"/><rect x="1117.7" y="588.4" width="2.5" height="2" fill="#7a6c66"/><rect x="1166.8" y="591.0" width="1" height="1" fill="#a8a0b8"/><rect x="1074.9" y="603.3" width="2.5" height="1.3" fill="#7a6c66"/><rect x="1150.1" y="591.6" width="2.5" height="1.3" fill="#7a6c66"/><rect x="1096.1" y="594.6" width="1" height="2" fill="#3a8a3a"/><rect x="1109.2" y="596.9" width="2.5" height="1" fill="#7a6c66"/><rect x="1064.2" y="593.5" width="1.3" height="2" fill="#d4d4d8"/><rect x="1129.2" y="591.1" width="2" height="1.3" fill="#d4d4d8"/><rect x="1096.3" y="588.1" width="1.3" height="1.3" fill="#d4d4d8"/><rect x="1164.7" y="589.0" width="2.5" height="1" fill="#d4d4d8"/><rect x="1127.1" y="597.0" width="2" height="2" fill="#7a6c66"/><rect x="1144.3" y="606.0" width="2.5" height="2" fill="#e8e8e8"/><rect x="1138.3" y="590.0" width="1" height="2" fill="#d4d4d8"/><rect x="1078.4" y="589.9" width="1" height="2" fill="#3a8a3a"/><rect x="1059.2" y="591.8" width="2.5" height="1" fill="#d4d4d8"/><rect x="1112.7" y="604.9" width="1.3" height="1.3" fill="#5a9a5a"/><rect x="1105.4" y="605.6" width="2" height="1.3" fill="#5a9a5a"/><rect x="1162.0" y="603.5" width="1" height="1" fill="#a8a0b8"/><rect x="1121.1" y="590.3" width="2" height="1.3" fill="#e8e8e8"/><rect x="1113.9" y="600.0" width="1.3" height="2" fill="#5a9a5a"/><rect x="1157.5" y="593.5" width="2" height="1" fill="#d4d4d8"/><rect x="1140.2" y="597.8" width="2" height="1.3" fill="#a8a0b8"/><rect x="1099.3" y="597.4" width="2" height="1.3" fill="#3a8a3a"/><rect x="1094.3" y="601.5" width="1.3" height="1.3" fill="#3a8a3a"/><rect x="1064.2" y="604.7" width="2" height="2" fill="#7a6c66"/><rect x="1100.9" y="605.3" width="2.5" height="1" fill="#d4d4d8"/><rect x="1125.5" y="588.1" width="2" height="1.3" fill="#d4d4d8"/><rect x="1128.1" y="596.2" width="2" height="2" fill="#7a6c66"/><rect x="1115.4" y="601.4" width="1.3" height="1.3" fill="#d4d4d8"/><rect x="1150.2" y="589.3" width="2.5" height="1.3" fill="#7a6c66"/><rect x="1135.0" y="591.6" width="2" height="2" fill="#d4d4d8"/><rect x="1162.5" y="604.3" width="2" height="1" fill="#d4d4d8"/><rect x="1160.0" y="599.3" width="1.3" height="1.3" fill="#5a9a5a"/><rect x="1118.8" y="593.2" width="1.3" height="2" fill="#5a9a5a"/><rect x="1067.2" y="593.9" width="2" height="1.3" fill="#e8e8e8"/><rect x="1060.9" y="602.2" width="2" height="1.3" fill="#d4d4d8"/><rect x="1125.4" y="598.5" width="2.5" height="1.3" fill="#a8a0b8"/><rect x="1165.2" y="596.6" width="1.3" height="1" fill="#d4d4d8"/><rect x="1117.4" y="594.5" width="1" height="1.3" fill="#a8a0b8"/><rect x="1056.8" y="588.7" width="1.3" height="1.3" fill="#d4d4d8"/><rect x="1075.0" y="594.6" width="1.3" height="1.3" fill="#5a9a5a"/><rect x="1112.5" y="597.7" width="1" height="2" fill="#d4d4d8"/><rect x="1131.4" y="593.7" width="2" height="2" fill="#d4d4d8"/><rect x="1094.8" y="602.1" width="2" height="2" fill="#7a6c66"/><rect x="1072.5" y="595.7" width="2.5" height="1" fill="#7a6c66"/><rect x="1158.2" y="603.1" width="1" height="1.3" fill="#7a6c66"/><rect x="1089.9" y="590.2" width="1.3" height="1" fill="#7a6c66"/><rect x="1138.6" y="595.1" width="2.5" height="1" fill="#5a9a5a"/><rect x="1064.6" y="595.8" width="2" height="1.3" fill="#d4d4d8"/><rect x="1103.7" y="600.1" width="2.5" height="2" fill="#d4d4d8"/><rect x="1159.1" y="600.5" width="2" height="2" fill="#d4d4d8"/><rect x="1139.1" y="602.7" width="2" height="2" fill="#3a8a3a"/><rect x="1088.0" y="590.9" width="2" height="2" fill="#d4d4d8"/><rect x="1083.2" y="590.8" width="2" height="1" fill="#d4d4d8"/><rect x="1119.3" y="596.5" width="2.5" height="1" fill="#a8a0b8"/><rect x="1147.8" y="603.0" width="2.5" height="2" fill="#7a6c66"/><rect x="1066.2" y="594.8" width="1" height="1" fill="#a8a0b8"/><rect x="1140.1" y="598.3" width="2" height="1.3" fill="#3a8a3a"/><rect x="1149.3" y="600.6" width="2.5" height="2" fill="#e8e8e8"/><rect x="1141.9" y="590.8" width="2" height="2" fill="#d4d4d8"/><rect x="1087.7" y="605.6" width="2" height="2" fill="#d4d4d8"/><rect x="1162.3" y="566.9" width="2.5" height="2" fill="#a8a0b8"/><rect x="1162.6" y="568.7" width="1.3" height="1.3" fill="#a8a0b8"/><rect x="1167.1" y="550.0" width="1" height="2" fill="#d4d4d8"/><rect x="1166.2" y="585.0" width="1" height="2" fill="#e8e8e8"/><rect x="1165.0" y="577.5" width="2" height="1.3" fill="#e8e8e8"/><rect x="1164.3" y="570.3" width="1.3" height="1.3" fill="#d4d4d8"/><rect x="1169.7" y="551.6" width="2.5" height="1.3" fill="#e8e8e8"/><rect x="1162.9" y="565.7" width="2.5" height="1" fill="#d4d4d8"/><rect x="1169.8" y="519.8" width="2.5" height="1" fill="#e8e8e8"/><rect x="1165.1" y="580.2" width="2.5" height="1.3" fill="#7a6c66"/><rect x="1169.8" y="543.5" width="2.5" height="1" fill="#7a6c66"/><rect x="1171.7" y="523.9" width="2" height="1.3" fill="#a8a0b8"/><rect x="1168.8" y="537.3" width="1" height="1" fill="#e8e8e8"/><rect x="1166.5" y="538.2" width="1.3" height="2" fill="#5a9a5a"/><rect x="1167.5" y="541.2" width="2.5" height="1" fill="#d4d4d8"/><rect x="1171.7" y="519.1" width="1.3" height="2" fill="#d4d4d8"/><rect x="1167.9" y="526.3" width="2" height="1" fill="#e8e8e8"/><rect x="1169.2" y="530.7" width="2.5" height="1" fill="#d4d4d8"/><rect x="1169.8" y="533.3" width="2.5" height="1" fill="#d4d4d8"/><rect x="1160.6" y="567.5" width="2" height="2" fill="#a8a0b8"/><rect x="1170.2" y="531.6" width="1.3" height="1" fill="#5a9a5a"/><rect x="1164.2" y="580.0" width="1.3" height="1" fill="#d4d4d8"/><rect x="1162.7" y="552.5" width="2.5" height="2" fill="#d4d4d8"/><rect x="1170.6" y="534.9" width="2" height="2" fill="#3a8a3a"/><rect x="1170.6" y="563.2" width="1.3" height="2" fill="#e8e8e8"/><rect x="1160.3" y="526.6" width="1.3" height="1" fill="#a8a0b8"/><rect x="1162.1" y="528.2" width="2" height="2" fill="#d4d4d8"/><rect x="1166.7" y="548.4" width="1" height="1.3" fill="#d4d4d8"/><rect x="1165.3" y="553.6" width="1.3" height="1" fill="#7a6c66"/><rect x="1171.6" y="558.8" width="1.3" height="1" fill="#5a9a5a"/><rect x="1170.6" y="585.1" width="2" height="1" fill="#d4d4d8"/><rect x="1165.6" y="578.7" width="2.5" height="1" fill="#e8e8e8"/><rect x="1164.6" y="576.4" width="2.5" height="2" fill="#d4d4d8"/><rect x="1161.1" y="583.1" width="1" height="1" fill="#d4d4d8"/><rect x="1163.9" y="560.9" width="2" height="1.3" fill="#5a9a5a"/><rect x="1165.5" y="524.3" width="1" height="1.3" fill="#e8e8e8"/><rect x="1166.9" y="520.4" width="2" height="1.3" fill="#d4d4d8"/><rect x="1160.8" y="536.9" width="1" height="1.3" fill="#5a9a5a"/><rect x="1168.5" y="587.2" width="1" height="1.3" fill="#5a9a5a"/><rect x="1170.8" y="522.5" width="2" height="1" fill="#a8a0b8"/><rect x="1054.6" y="517.1" width="1" height="1.3" fill="#a8a0b8"/><rect x="1055.0" y="529.1" width="2.5" height="1" fill="#7a6c66"/><rect x="1051.1" y="534.1" width="1.3" height="1.3" fill="#5a9a5a"/><rect x="1054.1" y="513.1" width="2" height="1" fill="#e8e8e8"/><rect x="1058.5" y="535.5" width="2" height="2" fill="#d4d4d8"/><rect x="1050.3" y="528.1" width="2.5" height="1.3" fill="#5a9a5a"/><rect x="1055.6" y="520.2" width="1.3" height="1" fill="#5a9a5a"/><rect x="1056.2" y="533.2" width="1" height="1" fill="#d4d4d8"/><rect x="1054.1" y="525.9" width="2.5" height="2" fill="#a8a0b8"/><rect x="1052.8" y="525.4" width="2" height="1.3" fill="#e8e8e8"/><circle cx="1050.3" cy="540.6" r="2.3" fill="#5a6470" stroke="#9a9ac8" stroke-width="0.6"/><circle cx="1113.3" cy="604.6" r="2.6" fill="#d8d8e0" stroke="#6060b0" stroke-width="0.8"/><circle cx="1160.8" cy="510.6" r="2.6" fill="#d8d8e0" stroke="#6060b0" stroke-width="0.8"/><circle cx="1178.3" cy="578.8" r="2.3" fill="#e0e0e0" stroke="#3c5c3c" stroke-width="0.8"/><rect x="1049" y="562.9" width="3.4" height="26" fill="#7a6c66" /><rect x="1094" y="598" width="9" height="8" fill="#c8886c" /><rect x="1098" y="606" width="20" height="8" fill="#c8886c" /><rect x="1115" y="606" width="22" height="8" fill="#fff" /><rect x="1118" y="608.3" width="10" height="3.4" fill="#d0d0d0" /><rect x="1072" y="519.2" width="99.2" height="68.3" fill="#e3463b" /><rect x="1090.3" y="540.3" width="17.7" height="16.7" fill="#b7382f" /><rect x="1119.5" y="557" width="23.5" height="24.5" fill="#b7382f" /><rect x="1094.2" y="564.8" width="7.9" height="18.7" fill="#b7382f" /><rect x="1072" y="567.8" width="5" height="13.8" fill="#b7382f" /><rect x="1162.3" y="540.3" width="8.9" height="30.9" fill="#b7382f" /><circle cx="1142.1" cy="529.5" r="4.6" fill="#bd3a31" /><circle cx="1169.2" cy="530.5" r="4.8" fill="#bd3a31" /><rect x="1154" y="527" width="9" height="6" fill="#c23c33" /><rect x="1156" y="534" width="8" height="3" fill="#c23c33" /><circle cx="1085.4" cy="534.4" r="2.6" fill="#b63a33" /><circle cx="1075" cy="541.6" r="2.3" fill="none" stroke="#b63a33" stroke-width="1"/><circle cx="1074" cy="557" r="2.3" fill="none" stroke="#b63a33" stroke-width="1"/><rect x="1110.1" y="583.4" width="0.8" height="2" fill="#f29080"/><rect x="1157.6" y="526.2" width="1.2" height="2" fill="#b84030"/><rect x="1098.7" y="551.2" width="0.8" height="0.8" fill="#b84030"/><rect x="1153.6" y="567.2" width="1.2" height="0.8" fill="#f07a6a"/><rect x="1129.5" y="567.5" width="0.8" height="2" fill="#b84030"/><rect x="1102.3" y="568.9" width="1.6" height="1.2" fill="#f29080"/><rect x="1081.0" y="559.5" width="0.8" height="2" fill="#f07a6a"/><rect x="1078.0" y="547.7" width="1.2" height="2" fill="#b84030"/><rect x="1155.8" y="549.0" width="0.8" height="0.8" fill="#f07a6a"/><rect x="1109.8" y="577.5" width="1.2" height="0.8" fill="#c4453c"/><rect x="1090.9" y="566.5" width="0.8" height="2" fill="#f29080"/><rect x="1084.7" y="558.1" width="1.6" height="2" fill="#f29080"/><rect x="1133.4" y="541.1" width="1.6" height="0.8" fill="#f29080"/><rect x="1120.6" y="569.8" width="0.8" height="1.2" fill="#f07a6a"/><rect x="1157.6" y="582.2" width="0.8" height="0.8" fill="#c4453c"/><rect x="1151.7" y="558.8" width="0.8" height="1.2" fill="#b84030"/><rect x="1074.7" y="576.2" width="1.2" height="1.2" fill="#c4453c"/><rect x="1137.3" y="537.1" width="1.2" height="2" fill="#f07a6a"/><rect x="1080.5" y="577.3" width="0.8" height="0.8" fill="#c4453c"/><rect x="1139.7" y="541.3" width="1.6" height="0.8" fill="#b84030"/><rect x="1095.5" y="525.9" width="0.8" height="1.2" fill="#c4453c"/><rect x="1110.2" y="575.4" width="1.2" height="0.8" fill="#f29080"/><rect x="1109.4" y="542.6" width="0.8" height="0.8" fill="#b84030"/><rect x="1082.0" y="575.4" width="1.2" height="0.8" fill="#f07a6a"/><rect x="1157.0" y="529.5" width="1.6" height="1.2" fill="#b84030"/><rect x="1123.4" y="553.7" width="1.2" height="0.8" fill="#c4453c"/><rect x="1083.9" y="525.8" width="1.6" height="0.8" fill="#f29080"/><rect x="1104.0" y="562.8" width="0.8" height="0.8" fill="#f07a6a"/><rect x="1140.8" y="577.1" width="0.8" height="1.2" fill="#f29080"/><rect x="1149.3" y="570.1" width="0.8" height="2" fill="#c4453c"/><rect x="1112.0" y="521.7" width="1.2" height="1.2" fill="#f07a6a"/><rect x="1109.4" y="585.7" width="1.2" height="1.2" fill="#f29080"/><rect x="1106.0" y="558.4" width="1.6" height="0.8" fill="#f29080"/><rect x="1141.2" y="533.7" width="1.6" height="1.2" fill="#b84030"/><rect x="1095.5" y="550.0" width="1.6" height="0.8" fill="#f29080"/><rect x="1151.0" y="552.0" width="0.8" height="2" fill="#b84030"/><rect x="1138.2" y="543.0" width="0.8" height="0.8" fill="#f29080"/><rect x="1079.8" y="560.7" width="0.8" height="0.8" fill="#f29080"/><rect x="1109.1" y="537.9" width="1.6" height="1.2" fill="#c4453c"/><rect x="1168.2" y="541.5" width="1.2" height="2" fill="#c4453c"/><rect x="1140.4" y="578.0" width="1.2" height="2" fill="#f07a6a"/><rect x="1149.1" y="536.2" width="1.6" height="0.8" fill="#f29080"/><rect x="1128.0" y="571.8" width="0.8" height="2" fill="#f07a6a"/><rect x="1120.4" y="537.8" width="1.2" height="1.2" fill="#c4453c"/><rect x="1101.1" y="572.9" width="0.8" height="0.8" fill="#f07a6a"/><rect x="1137.0" y="526.7" width="1.6" height="0.8" fill="#c4453c"/><rect x="1154.9" y="550.4" width="1.2" height="1.2" fill="#b84030"/><rect x="1140.5" y="524.7" width="0.8" height="0.8" fill="#b84030"/><rect x="1153.0" y="557.1" width="1.2" height="2" fill="#f29080"/><rect x="1088.9" y="575.4" width="0.8" height="0.8" fill="#f07a6a"/><rect x="1090.4" y="572.2" width="1.6" height="0.8" fill="#b84030"/><rect x="1074.8" y="547.6" width="1.6" height="2" fill="#b84030"/><rect x="1096.8" y="542.3" width="1.6" height="2" fill="#f29080"/><rect x="1122.9" y="522.7" width="1.6" height="0.8" fill="#b84030"/><rect x="1131.2" y="563.0" width="1.6" height="2" fill="#f07a6a"/><rect x="1144.8" y="553.4" width="1.6" height="1.2" fill="#c4453c"/><rect x="1165.1" y="570.2" width="1.2" height="0.8" fill="#f29080"/><rect x="1115.5" y="549.6" width="1.2" height="2" fill="#f07a6a"/><rect x="1076.8" y="556.7" width="0.8" height="2" fill="#f07a6a"/><rect x="1101.8" y="574.7" width="1.2" height="1.2" fill="#f07a6a"/><rect x="1122.8" y="540.3" width="1.2" height="1.2" fill="#f29080"/><rect x="1160.3" y="582.1" width="1.6" height="1.2" fill="#c4453c"/><rect x="1157.3" y="552.0" width="1.6" height="1.2" fill="#f07a6a"/><rect x="1134.6" y="522.4" width="1.2" height="2" fill="#b84030"/><rect x="1100.8" y="558.8" width="1.6" height="1.2" fill="#b84030"/><rect x="1099.8" y="550.5" width="1.6" height="2" fill="#f07a6a"/><rect x="1153.5" y="548.6" width="0.8" height="0.8" fill="#c4453c"/><rect x="1088.4" y="541.4" width="0.8" height="0.8" fill="#f29080"/><rect x="1121.7" y="570.8" width="1.2" height="1.2" fill="#f29080"/><rect x="1140.9" y="521.4" width="0.8" height="2" fill="#b84030"/><rect x="1082.5" y="559.4" width="1.2" height="1.2" fill="#f07a6a"/><rect x="1086.5" y="566.3" width="1.2" height="0.8" fill="#c4453c"/><rect x="1157.2" y="580.0" width="1.6" height="2" fill="#c4453c"/><rect x="1126.8" y="564.9" width="1.6" height="1.2" fill="#f29080"/><rect x="1160.0" y="564.5" width="1.2" height="2" fill="#f29080"/><rect x="1107.6" y="576.9" width="1.2" height="2" fill="#c4453c"/><rect x="1109.6" y="544.6" width="1.2" height="2" fill="#f29080"/><rect x="1143.6" y="548.2" width="1.2" height="1.2" fill="#b84030"/><rect x="1083.3" y="577.9" width="1.2" height="2" fill="#b84030"/><rect x="1117.0" y="576.3" width="1.6" height="1.2" fill="#f29080"/><rect x="1101.8" y="551.3" width="0.8" height="2" fill="#f29080"/><rect x="1089.1" y="580.1" width="0.8" height="0.8" fill="#f07a6a"/><rect x="1154.6" y="545.3" width="1.6" height="1.2" fill="#f29080"/><rect x="1074.4" y="575.3" width="0.8" height="1.2" fill="#b84030"/><rect x="1102.8" y="569.7" width="1.2" height="0.8" fill="#f29080"/><rect x="1111.9" y="544.3" width="0.8" height="2" fill="#b84030"/><rect x="1163.5" y="536.4" width="0.8" height="2" fill="#c4453c"/><rect x="1086.3" y="571.4" width="1.6" height="1.2" fill="#b84030"/><rect x="1102.2" y="572.2" width="1.6" height="1.2" fill="#f07a6a"/><rect x="1114.0" y="545.6" width="1.2" height="1.2" fill="#c4453c"/><rect x="1078.3" y="526.9" width="1.2" height="0.8" fill="#c4453c"/><rect x="1144.7" y="579.2" width="1.6" height="1.2" fill="#c4453c"/><rect x="1152.8" y="582.4" width="1.6" height="2" fill="#f07a6a"/><rect x="1151.9" y="567.2" width="1.2" height="2" fill="#b84030"/><rect x="1105.6" y="559.9" width="0.8" height="0.8" fill="#f29080"/><rect x="1133.7" y="544.3" width="0.8" height="2" fill="#f07a6a"/><rect x="1127.2" y="577.2" width="1.6" height="2" fill="#f07a6a"/><rect x="1119.2" y="557.0" width="1.2" height="2" fill="#b84030"/><rect x="1136.4" y="573.9" width="0.8" height="1.2" fill="#f29080"/><rect x="1105.6" y="561.9" width="1.2" height="2" fill="#c4453c"/><rect x="1102.7" y="539.0" width="0.8" height="2" fill="#b84030"/><rect x="1084.6" y="554.2" width="1.6" height="0.8" fill="#f29080"/><rect x="1152.3" y="526.6" width="1.6" height="2" fill="#f29080"/><rect x="1150.1" y="540.7" width="0.8" height="2" fill="#c4453c"/><rect x="1076.2" y="526.6" width="1.6" height="2" fill="#b84030"/><rect x="1125.3" y="528.5" width="1.6" height="0.8" fill="#c4453c"/><rect x="1126.8" y="553.0" width="1.2" height="2" fill="#f29080"/><rect x="1108.6" y="568.6" width="1.6" height="1.2" fill="#f07a6a"/><rect x="1144.8" y="573.7" width="1.2" height="0.8" fill="#c4453c"/><rect x="1110.7" y="534.0" width="0.8" height="1.2" fill="#f29080"/><rect x="1145.5" y="523.8" width="0.8" height="1.2" fill="#f29080"/><rect x="1084.3" y="555.1" width="1.2" height="0.8" fill="#f29080"/><rect x="1129.6" y="556.8" width="1.2" height="1.2" fill="#b84030"/><rect x="1137.1" y="579.9" width="1.6" height="1.2" fill="#c4453c"/><rect x="1109.7" y="537.8" width="1.6" height="2" fill="#b84030"/><rect x="1121.1" y="561.1" width="1.2" height="0.8" fill="#f07a6a"/><rect x="1115.9" y="556.5" width="0.8" height="0.8" fill="#f07a6a"/><rect x="1167.2" y="545.3" width="1.2" height="2" fill="#f29080"/><rect x="1151.0" y="557.7" width="0.8" height="1.2" fill="#b84030"/><rect x="1125.6" y="571.8" width="1.6" height="2" fill="#f29080"/><rect x="1142.0" y="553.0" width="1.6" height="0.8" fill="#f07a6a"/><rect x="1157.8" y="536.6" width="1.2" height="1.2" fill="#b84030"/><rect x="1140.4" y="530.8" width="1.6" height="1.2" fill="#f29080"/><rect x="1161.1" y="579.6" width="1.2" height="0.8" fill="#b84030"/><rect x="1167.0" y="526.9" width="0.8" height="2" fill="#c4453c"/><rect x="1110.9" y="573.0" width="0.8" height="2" fill="#b84030"/><rect x="1150.8" y="523.6" width="1.6" height="2" fill="#c4453c"/><rect x="1140.8" y="577.2" width="0.8" height="2" fill="#f29080"/><rect x="1156.3" y="556.4" width="0.8" height="0.8" fill="#f29080"/><rect x="1131.6" y="569.3" width="0.8" height="1.2" fill="#f07a6a"/><rect x="1149.1" y="551.6" width="1.6" height="0.8" fill="#c4453c"/><rect x="1077.8" y="535.1" width="1.6" height="2" fill="#b84030"/><rect x="1080.9" y="562.3" width="0.8" height="0.8" fill="#b84030"/><rect x="1115.6" y="538.8" width="0.8" height="0.8" fill="#f29080"/><rect x="1137.2" y="575.5" width="1.6" height="1.2" fill="#b84030"/><rect x="1153.8" y="538.9" width="1.6" height="2" fill="#f29080"/><rect x="1168.4" y="566.7" width="0.8" height="1.2" fill="#b84030"/><rect x="1128.1" y="527.3" width="1.6" height="1.2" fill="#c4453c"/><rect x="1076.1" y="573.9" width="0.8" height="0.8" fill="#f07a6a"/><rect x="1158.7" y="538.3" width="1.6" height="0.8" fill="#b84030"/><rect x="1097.0" y="554.7" width="1.6" height="2" fill="#f29080"/><rect x="1085.8" y="563.2" width="0.8" height="1.2" fill="#c4453c"/><rect x="1153.1" y="522.4" width="1.2" height="1.2" fill="#c4453c"/><rect x="1111.4" y="522.3" width="1.6" height="0.8" fill="#f29080"/><rect x="1117.2" y="550.4" width="1.2" height="1.2" fill="#f29080"/><rect x="1167.7" y="584.0" width="0.8" height="2" fill="#f29080"/><rect x="1085.1" y="535.8" width="1.6" height="0.8" fill="#f07a6a"/><rect x="1093.5" y="579.0" width="1.6" height="1.2" fill="#f07a6a"/><rect x="1094.4" y="536.5" width="1.6" height="2" fill="#c4453c"/><rect x="1160.7" y="557.9" width="1.2" height="0.8" fill="#c4453c"/><rect x="1100.8" y="583.5" width="1.2" height="1.2" fill="#f07a6a"/><rect x="1167.7" y="533.3" width="1.6" height="2" fill="#f29080"/><rect x="1127.9" y="542.8" width="1.6" height="1.2" fill="#b84030"/><rect x="1122.7" y="556.7" width="0.8" height="1.2" fill="#f07a6a"/><rect x="1111.9" y="573.7" width="0.8" height="0.8" fill="#c4453c"/><rect x="1133.5" y="529.6" width="1.2" height="0.8" fill="#f07a6a"/><rect x="1090.7" y="536.2" width="1.2" height="0.8" fill="#f07a6a"/><rect x="1100.5" y="570.5" width="1.2" height="2" fill="#f29080"/><rect x="1127.9" y="569.1" width="1.6" height="0.8" fill="#f29080"/><rect x="1137.4" y="567.4" width="1.2" height="1.2" fill="#c4453c"/><rect x="1071.3" y="458.7" width="8.4" height="1.1" fill="#dcae98" /><rect x="1071.3" y="461.4" width="17.7" height="1.2" fill="#d49c84" /></svg><!--/MINI-->
</body></html>
